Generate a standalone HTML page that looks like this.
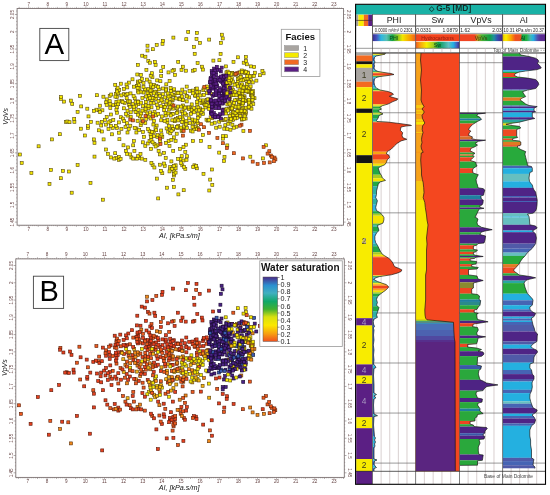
<!DOCTYPE html><html><head><meta charset="utf-8"><style>html,body{margin:0;padding:0;background:#fff;width:550px;height:495px;overflow:hidden}svg{display:block}text{font-family:"Liberation Sans",sans-serif}</style></head><body><svg width="550" height="495" viewBox="0 0 550 495"><rect width="550" height="495" fill="#fff"/><rect x="17.1" y="8.5" width="326.4" height="216.7" fill="none" stroke="#7e7474" stroke-width="0.9"/><path d="M19.16 8.5v-1.6M19.16 225.2v1.6M21.07 8.5v-0.9M21.07 225.2v0.9M22.98 8.5v-0.9M22.98 225.2v0.9M24.88 8.5v-0.9M24.88 225.2v0.9M26.79 8.5v-0.9M26.79 225.2v0.9M28.7 8.5v-2.2M28.7 225.2v2.2M30.61 8.5v-0.9M30.61 225.2v0.9M32.52 8.5v-0.9M32.52 225.2v0.9M34.42 8.5v-0.9M34.42 225.2v0.9M36.33 8.5v-0.9M36.33 225.2v0.9M38.24 8.5v-1.6M38.24 225.2v1.6M40.14 8.5v-0.9M40.14 225.2v0.9M42.05 8.5v-0.9M42.05 225.2v0.9M43.96 8.5v-0.9M43.96 225.2v0.9M45.87 8.5v-0.9M45.87 225.2v0.9M47.77 8.5v-2.2M47.77 225.2v2.2M49.68 8.5v-0.9M49.68 225.2v0.9M51.59 8.5v-0.9M51.59 225.2v0.9M53.5 8.5v-0.9M53.5 225.2v0.9M55.41 8.5v-0.9M55.41 225.2v0.9M57.31 8.5v-1.6M57.31 225.2v1.6M59.22 8.5v-0.9M59.22 225.2v0.9M61.13 8.5v-0.9M61.13 225.2v0.9M63.04 8.5v-0.9M63.04 225.2v0.9M64.94 8.5v-0.9M64.94 225.2v0.9M66.85 8.5v-2.2M66.85 225.2v2.2M68.76 8.5v-0.9M68.76 225.2v0.9M70.66 8.5v-0.9M70.66 225.2v0.9M72.57 8.5v-0.9M72.57 225.2v0.9M74.48 8.5v-0.9M74.48 225.2v0.9M76.39 8.5v-1.6M76.39 225.2v1.6M78.29 8.5v-0.9M78.29 225.2v0.9M80.2 8.5v-0.9M80.2 225.2v0.9M82.11 8.5v-0.9M82.11 225.2v0.9M84.02 8.5v-0.9M84.02 225.2v0.9M85.92 8.5v-2.2M85.92 225.2v2.2M87.83 8.5v-0.9M87.83 225.2v0.9M89.74 8.5v-0.9M89.74 225.2v0.9M91.65 8.5v-0.9M91.65 225.2v0.9M93.56 8.5v-0.9M93.56 225.2v0.9M95.46 8.5v-1.6M95.46 225.2v1.6M97.37 8.5v-0.9M97.37 225.2v0.9M99.28 8.5v-0.9M99.28 225.2v0.9M101.19 8.5v-0.9M101.19 225.2v0.9M103.09 8.5v-0.9M103.09 225.2v0.9M105 8.5v-2.2M105 225.2v2.2M106.91 8.5v-0.9M106.91 225.2v0.9M108.81 8.5v-0.9M108.81 225.2v0.9M110.72 8.5v-0.9M110.72 225.2v0.9M112.63 8.5v-0.9M112.63 225.2v0.9M114.54 8.5v-1.6M114.54 225.2v1.6M116.44 8.5v-0.9M116.44 225.2v0.9M118.35 8.5v-0.9M118.35 225.2v0.9M120.26 8.5v-0.9M120.26 225.2v0.9M122.17 8.5v-0.9M122.17 225.2v0.9M124.08 8.5v-2.2M124.08 225.2v2.2M125.98 8.5v-0.9M125.98 225.2v0.9M127.89 8.5v-0.9M127.89 225.2v0.9M129.8 8.5v-0.9M129.8 225.2v0.9M131.71 8.5v-0.9M131.71 225.2v0.9M133.61 8.5v-1.6M133.61 225.2v1.6M135.52 8.5v-0.9M135.52 225.2v0.9M137.43 8.5v-0.9M137.43 225.2v0.9M139.34 8.5v-0.9M139.34 225.2v0.9M141.24 8.5v-0.9M141.24 225.2v0.9M143.15 8.5v-2.2M143.15 225.2v2.2M145.06 8.5v-0.9M145.06 225.2v0.9M146.96 8.5v-0.9M146.96 225.2v0.9M148.87 8.5v-0.9M148.87 225.2v0.9M150.78 8.5v-0.9M150.78 225.2v0.9M152.69 8.5v-1.6M152.69 225.2v1.6M154.59 8.5v-0.9M154.59 225.2v0.9M156.5 8.5v-0.9M156.5 225.2v0.9M158.41 8.5v-0.9M158.41 225.2v0.9M160.32 8.5v-0.9M160.32 225.2v0.9M162.22 8.5v-2.2M162.22 225.2v2.2M164.13 8.5v-0.9M164.13 225.2v0.9M166.04 8.5v-0.9M166.04 225.2v0.9M167.95 8.5v-0.9M167.95 225.2v0.9M169.85 8.5v-0.9M169.85 225.2v0.9M171.76 8.5v-1.6M171.76 225.2v1.6M173.67 8.5v-0.9M173.67 225.2v0.9M175.58 8.5v-0.9M175.58 225.2v0.9M177.48 8.5v-0.9M177.48 225.2v0.9M179.39 8.5v-0.9M179.39 225.2v0.9M181.3 8.5v-2.2M181.3 225.2v2.2M183.21 8.5v-0.9M183.21 225.2v0.9M185.11 8.5v-0.9M185.11 225.2v0.9M187.02 8.5v-0.9M187.02 225.2v0.9M188.93 8.5v-0.9M188.93 225.2v0.9M190.84 8.5v-1.6M190.84 225.2v1.6M192.74 8.5v-0.9M192.74 225.2v0.9M194.65 8.5v-0.9M194.65 225.2v0.9M196.56 8.5v-0.9M196.56 225.2v0.9M198.47 8.5v-0.9M198.47 225.2v0.9M200.37 8.5v-2.2M200.37 225.2v2.2M202.28 8.5v-0.9M202.28 225.2v0.9M204.19 8.5v-0.9M204.19 225.2v0.9M206.1 8.5v-0.9M206.1 225.2v0.9M208 8.5v-0.9M208 225.2v0.9M209.91 8.5v-1.6M209.91 225.2v1.6M211.82 8.5v-0.9M211.82 225.2v0.9M213.73 8.5v-0.9M213.73 225.2v0.9M215.63 8.5v-0.9M215.63 225.2v0.9M217.54 8.5v-0.9M217.54 225.2v0.9M219.45 8.5v-2.2M219.45 225.2v2.2M221.36 8.5v-0.9M221.36 225.2v0.9M223.26 8.5v-0.9M223.26 225.2v0.9M225.17 8.5v-0.9M225.17 225.2v0.9M227.08 8.5v-0.9M227.08 225.2v0.9M228.99 8.5v-1.6M228.99 225.2v1.6M230.9 8.5v-0.9M230.9 225.2v0.9M232.8 8.5v-0.9M232.8 225.2v0.9M234.71 8.5v-0.9M234.71 225.2v0.9M236.62 8.5v-0.9M236.62 225.2v0.9M238.52 8.5v-2.2M238.52 225.2v2.2M240.43 8.5v-0.9M240.43 225.2v0.9M242.34 8.5v-0.9M242.34 225.2v0.9M244.25 8.5v-0.9M244.25 225.2v0.9M246.15 8.5v-0.9M246.15 225.2v0.9M248.06 8.5v-1.6M248.06 225.2v1.6M249.97 8.5v-0.9M249.97 225.2v0.9M251.88 8.5v-0.9M251.88 225.2v0.9M253.78 8.5v-0.9M253.78 225.2v0.9M255.69 8.5v-0.9M255.69 225.2v0.9M257.6 8.5v-2.2M257.6 225.2v2.2M259.51 8.5v-0.9M259.51 225.2v0.9M261.41 8.5v-0.9M261.41 225.2v0.9M263.32 8.5v-0.9M263.32 225.2v0.9M265.23 8.5v-0.9M265.23 225.2v0.9M267.14 8.5v-1.6M267.14 225.2v1.6M269.05 8.5v-0.9M269.05 225.2v0.9M270.95 8.5v-0.9M270.95 225.2v0.9M272.86 8.5v-0.9M272.86 225.2v0.9M274.77 8.5v-0.9M274.77 225.2v0.9M276.68 8.5v-2.2M276.68 225.2v2.2M278.58 8.5v-0.9M278.58 225.2v0.9M280.49 8.5v-0.9M280.49 225.2v0.9M282.4 8.5v-0.9M282.4 225.2v0.9M284.3 8.5v-0.9M284.3 225.2v0.9M286.21 8.5v-1.6M286.21 225.2v1.6M288.12 8.5v-0.9M288.12 225.2v0.9M290.03 8.5v-0.9M290.03 225.2v0.9M291.94 8.5v-0.9M291.94 225.2v0.9M293.84 8.5v-0.9M293.84 225.2v0.9M295.75 8.5v-2.2M295.75 225.2v2.2M297.66 8.5v-0.9M297.66 225.2v0.9M299.56 8.5v-0.9M299.56 225.2v0.9M301.47 8.5v-0.9M301.47 225.2v0.9M303.38 8.5v-0.9M303.38 225.2v0.9M305.29 8.5v-1.6M305.29 225.2v1.6M307.19 8.5v-0.9M307.19 225.2v0.9M309.1 8.5v-0.9M309.1 225.2v0.9M311.01 8.5v-0.9M311.01 225.2v0.9M312.92 8.5v-0.9M312.92 225.2v0.9M314.82 8.5v-2.2M314.82 225.2v2.2M316.73 8.5v-0.9M316.73 225.2v0.9M318.64 8.5v-0.9M318.64 225.2v0.9M320.55 8.5v-0.9M320.55 225.2v0.9M322.45 8.5v-0.9M322.45 225.2v0.9M324.36 8.5v-1.6M324.36 225.2v1.6M326.27 8.5v-0.9M326.27 225.2v0.9M328.18 8.5v-0.9M328.18 225.2v0.9M330.08 8.5v-0.9M330.08 225.2v0.9M331.99 8.5v-0.9M331.99 225.2v0.9M333.9 8.5v-2.2M333.9 225.2v2.2M335.81 8.5v-0.9M335.81 225.2v0.9M337.71 8.5v-0.9M337.71 225.2v0.9M339.62 8.5v-0.9M339.62 225.2v0.9M341.53 8.5v-0.9M341.53 225.2v0.9M17.1 222.1h-2.2M343.5 222.1h2.2M17.1 218.64h-0.9M343.5 218.64h0.9M17.1 215.18h-0.9M343.5 215.18h0.9M17.1 211.72h-0.9M343.5 211.72h0.9M17.1 208.26h-0.9M343.5 208.26h0.9M17.1 204.8h-2.2M343.5 204.8h2.2M17.1 201.34h-0.9M343.5 201.34h0.9M17.1 197.88h-0.9M343.5 197.88h0.9M17.1 194.42h-0.9M343.5 194.42h0.9M17.1 190.96h-0.9M343.5 190.96h0.9M17.1 187.5h-2.2M343.5 187.5h2.2M17.1 184.04h-0.9M343.5 184.04h0.9M17.1 180.58h-0.9M343.5 180.58h0.9M17.1 177.12h-0.9M343.5 177.12h0.9M17.1 173.66h-0.9M343.5 173.66h0.9M17.1 170.2h-2.2M343.5 170.2h2.2M17.1 166.74h-0.9M343.5 166.74h0.9M17.1 163.28h-0.9M343.5 163.28h0.9M17.1 159.82h-0.9M343.5 159.82h0.9M17.1 156.36h-0.9M343.5 156.36h0.9M17.1 152.9h-2.2M343.5 152.9h2.2M17.1 149.44h-0.9M343.5 149.44h0.9M17.1 145.98h-0.9M343.5 145.98h0.9M17.1 142.52h-0.9M343.5 142.52h0.9M17.1 139.06h-0.9M343.5 139.06h0.9M17.1 135.6h-2.2M343.5 135.6h2.2M17.1 132.14h-0.9M343.5 132.14h0.9M17.1 128.68h-0.9M343.5 128.68h0.9M17.1 125.22h-0.9M343.5 125.22h0.9M17.1 121.76h-0.9M343.5 121.76h0.9M17.1 118.3h-2.2M343.5 118.3h2.2M17.1 114.84h-0.9M343.5 114.84h0.9M17.1 111.38h-0.9M343.5 111.38h0.9M17.1 107.92h-0.9M343.5 107.92h0.9M17.1 104.46h-0.9M343.5 104.46h0.9M17.1 101h-2.2M343.5 101h2.2M17.1 97.54h-0.9M343.5 97.54h0.9M17.1 94.08h-0.9M343.5 94.08h0.9M17.1 90.62h-0.9M343.5 90.62h0.9M17.1 87.16h-0.9M343.5 87.16h0.9M17.1 83.7h-2.2M343.5 83.7h2.2M17.1 80.24h-0.9M343.5 80.24h0.9M17.1 76.78h-0.9M343.5 76.78h0.9M17.1 73.32h-0.9M343.5 73.32h0.9M17.1 69.86h-0.9M343.5 69.86h0.9M17.1 66.4h-2.2M343.5 66.4h2.2M17.1 62.94h-0.9M343.5 62.94h0.9M17.1 59.48h-0.9M343.5 59.48h0.9M17.1 56.02h-0.9M343.5 56.02h0.9M17.1 52.56h-0.9M343.5 52.56h0.9M17.1 49.1h-2.2M343.5 49.1h2.2M17.1 45.64h-0.9M343.5 45.64h0.9M17.1 42.18h-0.9M343.5 42.18h0.9M17.1 38.72h-0.9M343.5 38.72h0.9M17.1 35.26h-0.9M343.5 35.26h0.9M17.1 31.8h-2.2M343.5 31.8h2.2M17.1 28.34h-0.9M343.5 28.34h0.9M17.1 24.88h-0.9M343.5 24.88h0.9M17.1 21.42h-0.9M343.5 21.42h0.9M17.1 17.96h-0.9M343.5 17.96h0.9M17.1 14.5h-2.2M343.5 14.5h2.2M17.1 11.04h-0.9M343.5 11.04h0.9" stroke="#7e7474" stroke-width="0.6" fill="none"/><g font-size="4.6" fill="#664444" text-anchor="middle" font-family="Liberation Sans, sans-serif"><text x="28.7" y="5.9">7</text><text x="28.7" y="230.6">7</text><text x="47.77" y="5.9">8</text><text x="47.77" y="230.6">8</text><text x="66.85" y="5.9">9</text><text x="66.85" y="230.6">9</text><text x="85.92" y="5.9">10</text><text x="85.92" y="230.6">10</text><text x="105" y="5.9">11</text><text x="105" y="230.6">11</text><text x="124.08" y="5.9">12</text><text x="124.08" y="230.6">12</text><text x="143.15" y="5.9">13</text><text x="143.15" y="230.6">13</text><text x="162.22" y="5.9">14</text><text x="162.22" y="230.6">14</text><text x="181.3" y="5.9">15</text><text x="181.3" y="230.6">15</text><text x="200.37" y="5.9">16</text><text x="200.37" y="230.6">16</text><text x="219.45" y="5.9">17</text><text x="219.45" y="230.6">17</text><text x="238.52" y="5.9">18</text><text x="238.52" y="230.6">18</text><text x="257.6" y="5.9">19</text><text x="257.6" y="230.6">19</text><text x="276.68" y="5.9">20</text><text x="276.68" y="230.6">20</text><text x="295.75" y="5.9">21</text><text x="295.75" y="230.6">21</text><text x="314.82" y="5.9">22</text><text x="314.82" y="230.6">22</text><text x="333.9" y="5.9">23</text><text x="333.9" y="230.6">23</text><text transform="translate(13.9 14.5) rotate(-90)">2.05</text><text transform="translate(346.7 14.5) rotate(90)">2.05</text><text transform="translate(13.9 31.8) rotate(-90)">2</text><text transform="translate(346.7 31.8) rotate(90)">2</text><text transform="translate(13.9 49.1) rotate(-90)">1.95</text><text transform="translate(346.7 49.1) rotate(90)">1.95</text><text transform="translate(13.9 66.4) rotate(-90)">1.9</text><text transform="translate(346.7 66.4) rotate(90)">1.9</text><text transform="translate(13.9 83.7) rotate(-90)">1.85</text><text transform="translate(346.7 83.7) rotate(90)">1.85</text><text transform="translate(13.9 101) rotate(-90)">1.8</text><text transform="translate(346.7 101) rotate(90)">1.8</text><text transform="translate(13.9 118.3) rotate(-90)">1.75</text><text transform="translate(346.7 118.3) rotate(90)">1.75</text><text transform="translate(13.9 135.6) rotate(-90)">1.7</text><text transform="translate(346.7 135.6) rotate(90)">1.7</text><text transform="translate(13.9 152.9) rotate(-90)">1.65</text><text transform="translate(346.7 152.9) rotate(90)">1.65</text><text transform="translate(13.9 170.2) rotate(-90)">1.6</text><text transform="translate(346.7 170.2) rotate(90)">1.6</text><text transform="translate(13.9 187.5) rotate(-90)">1.55</text><text transform="translate(346.7 187.5) rotate(90)">1.55</text><text transform="translate(13.9 204.8) rotate(-90)">1.5</text><text transform="translate(346.7 204.8) rotate(90)">1.5</text><text transform="translate(13.9 222.1) rotate(-90)">1.45</text><text transform="translate(346.7 222.1) rotate(90)">1.45</text></g><text x="179.39" y="238" font-size="7.2" font-style="italic" fill="#111" text-anchor="middle">AI, [kPa.s/m]</text><text transform="translate(8 116.35) rotate(-90)" font-size="7" font-style="italic" fill="#111" text-anchor="middle">VpVs</text><g stroke-width="0.6"><rect x="148.2" y="90.5" width="3.0" height="3.0" fill="#f4e800" stroke="#5a4a10"/><rect x="191.8" y="121.3" width="3.0" height="3.0" fill="#f4e800" stroke="#5a4a10"/><rect x="160.0" y="97.1" width="3.0" height="3.0" fill="#f4e800" stroke="#5a4a10"/><rect x="223.8" y="123.7" width="3.0" height="3.0" fill="#f4e800" stroke="#5a4a10"/><rect x="132.4" y="108.0" width="3.0" height="3.0" fill="#f4e800" stroke="#5a4a10"/><rect x="166.7" y="130.2" width="3.0" height="3.0" fill="#f4e800" stroke="#5a4a10"/><rect x="209.5" y="106.1" width="3.0" height="3.0" fill="#f4e800" stroke="#5a4a10"/><rect x="245.4" y="62.8" width="3.0" height="3.0" fill="#f4e800" stroke="#5a4a10"/><rect x="154.6" y="97.4" width="3.0" height="3.0" fill="#f4e800" stroke="#5a4a10"/><rect x="144.1" y="109.2" width="3.0" height="3.0" fill="#f4e800" stroke="#5a4a10"/><rect x="133.2" y="96.7" width="3.0" height="3.0" fill="#f4e800" stroke="#5a4a10"/><rect x="181.1" y="98.7" width="3.0" height="3.0" fill="#f4e800" stroke="#5a4a10"/><rect x="172.3" y="135.9" width="3.0" height="3.0" fill="#f4e800" stroke="#5a4a10"/><rect x="188.6" y="121.7" width="3.0" height="3.0" fill="#f4e800" stroke="#5a4a10"/><rect x="134.9" y="127.0" width="3.0" height="3.0" fill="#f4e800" stroke="#5a4a10"/><rect x="171.1" y="127.3" width="3.0" height="3.0" fill="#f4e800" stroke="#5a4a10"/><rect x="141.5" y="104.7" width="3.0" height="3.0" fill="#f4e800" stroke="#5a4a10"/><rect x="208.0" y="145.4" width="3.0" height="3.0" fill="#f4e800" stroke="#5a4a10"/><rect x="136.3" y="89.4" width="3.0" height="3.0" fill="#f4e800" stroke="#5a4a10"/><rect x="139.5" y="73.3" width="3.0" height="3.0" fill="#f4e800" stroke="#5a4a10"/><rect x="244.3" y="55.5" width="3.0" height="3.0" fill="#f4e800" stroke="#5a4a10"/><rect x="149.2" y="92.7" width="3.0" height="3.0" fill="#f4e800" stroke="#5a4a10"/><rect x="97.3" y="108.8" width="3.0" height="3.0" fill="#f4e800" stroke="#5a4a10"/><rect x="198.3" y="98.9" width="3.0" height="3.0" fill="#f4e800" stroke="#5a4a10"/><rect x="185.2" y="99.9" width="3.0" height="3.0" fill="#f4e800" stroke="#5a4a10"/><rect x="201.8" y="88.7" width="3.0" height="3.0" fill="#f4e800" stroke="#5a4a10"/><rect x="154.9" y="90.2" width="3.0" height="3.0" fill="#f4e800" stroke="#5a4a10"/><rect x="152.6" y="83.3" width="3.0" height="3.0" fill="#f4e800" stroke="#5a4a10"/><rect x="64.4" y="120.3" width="3.0" height="3.0" fill="#f4e800" stroke="#5a4a10"/><rect x="128.4" y="99.9" width="3.0" height="3.0" fill="#f4e800" stroke="#5a4a10"/><rect x="126.0" y="109.2" width="3.0" height="3.0" fill="#f4e800" stroke="#5a4a10"/><rect x="146.8" y="59.5" width="3.0" height="3.0" fill="#f4e800" stroke="#5a4a10"/><rect x="94.9" y="108.2" width="3.0" height="3.0" fill="#f4e800" stroke="#5a4a10"/><rect x="172.5" y="169.6" width="3.0" height="3.0" fill="#f4e800" stroke="#5a4a10"/><rect x="187.7" y="95.9" width="3.0" height="3.0" fill="#f4e800" stroke="#5a4a10"/><rect x="145.8" y="112.0" width="3.0" height="3.0" fill="#f4e800" stroke="#5a4a10"/><rect x="192.6" y="127.3" width="3.0" height="3.0" fill="#f4e800" stroke="#5a4a10"/><rect x="242.2" y="61.2" width="3.0" height="3.0" fill="#f4e800" stroke="#5a4a10"/><rect x="171.6" y="107.1" width="3.0" height="3.0" fill="#f4e800" stroke="#5a4a10"/><rect x="167.0" y="70.9" width="3.0" height="3.0" fill="#f4e800" stroke="#5a4a10"/><rect x="152.2" y="130.4" width="3.0" height="3.0" fill="#f4e800" stroke="#5a4a10"/><rect x="179.0" y="157.7" width="3.0" height="3.0" fill="#f4e800" stroke="#5a4a10"/><rect x="184.8" y="37.7" width="3.0" height="3.0" fill="#f4e800" stroke="#5a4a10"/><rect x="165.1" y="126.9" width="3.0" height="3.0" fill="#f4e800" stroke="#5a4a10"/><rect x="180.9" y="116.0" width="3.0" height="3.0" fill="#f4e800" stroke="#5a4a10"/><rect x="196.5" y="96.3" width="3.0" height="3.0" fill="#f4e800" stroke="#5a4a10"/><rect x="196.1" y="121.6" width="3.0" height="3.0" fill="#f4e800" stroke="#5a4a10"/><rect x="178.6" y="147.4" width="3.0" height="3.0" fill="#f4e800" stroke="#5a4a10"/><rect x="117.3" y="158.3" width="3.0" height="3.0" fill="#f4e800" stroke="#5a4a10"/><rect x="188.7" y="106.0" width="3.0" height="3.0" fill="#f4e800" stroke="#5a4a10"/><rect x="189.4" y="112.4" width="3.0" height="3.0" fill="#f4e800" stroke="#5a4a10"/><rect x="171.5" y="178.3" width="3.0" height="3.0" fill="#f4e800" stroke="#5a4a10"/><rect x="176.1" y="110.3" width="3.0" height="3.0" fill="#f4e800" stroke="#5a4a10"/><rect x="198.8" y="107.0" width="3.0" height="3.0" fill="#f4e800" stroke="#5a4a10"/><rect x="136.5" y="80.1" width="3.0" height="3.0" fill="#f4e800" stroke="#5a4a10"/><rect x="155.1" y="124.1" width="3.0" height="3.0" fill="#f4e800" stroke="#5a4a10"/><rect x="127.6" y="103.5" width="3.0" height="3.0" fill="#f4e800" stroke="#5a4a10"/><rect x="202.0" y="172.3" width="3.0" height="3.0" fill="#f4e800" stroke="#5a4a10"/><rect x="181.4" y="118.0" width="3.0" height="3.0" fill="#f4e800" stroke="#5a4a10"/><rect x="152.1" y="96.5" width="3.0" height="3.0" fill="#f4e800" stroke="#5a4a10"/><rect x="164.6" y="87.1" width="3.0" height="3.0" fill="#f4e800" stroke="#5a4a10"/><rect x="140.7" y="54.2" width="3.0" height="3.0" fill="#f4e800" stroke="#5a4a10"/><rect x="136.5" y="81.9" width="3.0" height="3.0" fill="#f4e800" stroke="#5a4a10"/><rect x="258.5" y="73.7" width="3.0" height="3.0" fill="#f4e800" stroke="#5a4a10"/><rect x="162.7" y="108.7" width="3.0" height="3.0" fill="#f4e800" stroke="#5a4a10"/><rect x="175.7" y="126.5" width="3.0" height="3.0" fill="#f4e800" stroke="#5a4a10"/><rect x="195.8" y="102.9" width="3.0" height="3.0" fill="#f4e800" stroke="#5a4a10"/><rect x="128.6" y="105.4" width="3.0" height="3.0" fill="#f4e800" stroke="#5a4a10"/><rect x="201.8" y="98.9" width="3.0" height="3.0" fill="#f4e800" stroke="#5a4a10"/><rect x="115.5" y="88.2" width="3.0" height="3.0" fill="#f4e800" stroke="#5a4a10"/><rect x="144.1" y="88.9" width="3.0" height="3.0" fill="#f4e800" stroke="#5a4a10"/><rect x="173.0" y="93.9" width="3.0" height="3.0" fill="#f4e800" stroke="#5a4a10"/><rect x="195.3" y="166.8" width="3.0" height="3.0" fill="#f4e800" stroke="#5a4a10"/><rect x="152.6" y="119.5" width="3.0" height="3.0" fill="#f4e800" stroke="#5a4a10"/><rect x="205.5" y="85.0" width="3.0" height="3.0" fill="#f4e800" stroke="#5a4a10"/><rect x="191.6" y="69.2" width="3.0" height="3.0" fill="#f4e800" stroke="#5a4a10"/><rect x="193.2" y="52.3" width="3.0" height="3.0" fill="#f4e800" stroke="#5a4a10"/><rect x="138.7" y="79.7" width="3.0" height="3.0" fill="#f4e800" stroke="#5a4a10"/><rect x="129.2" y="115.3" width="3.0" height="3.0" fill="#f4e800" stroke="#5a4a10"/><rect x="148.0" y="129.7" width="3.0" height="3.0" fill="#f4e800" stroke="#5a4a10"/><rect x="172.3" y="185.6" width="3.0" height="3.0" fill="#f4e800" stroke="#5a4a10"/><rect x="180.5" y="110.0" width="3.0" height="3.0" fill="#f4e800" stroke="#5a4a10"/><rect x="180.8" y="163.8" width="3.0" height="3.0" fill="#f4e800" stroke="#5a4a10"/><rect x="205.0" y="118.2" width="3.0" height="3.0" fill="#f4e800" stroke="#5a4a10"/><rect x="146.0" y="49.0" width="3.0" height="3.0" fill="#f4e800" stroke="#5a4a10"/><rect x="178.8" y="96.5" width="3.0" height="3.0" fill="#f4e800" stroke="#5a4a10"/><rect x="152.1" y="101.4" width="3.0" height="3.0" fill="#f4e800" stroke="#5a4a10"/><rect x="115.5" y="105.8" width="3.0" height="3.0" fill="#f4e800" stroke="#5a4a10"/><rect x="100.3" y="130.0" width="3.0" height="3.0" fill="#f4e800" stroke="#5a4a10"/><rect x="120.5" y="99.6" width="3.0" height="3.0" fill="#f4e800" stroke="#5a4a10"/><rect x="168.7" y="165.6" width="3.0" height="3.0" fill="#f4e800" stroke="#5a4a10"/><rect x="220.3" y="33.2" width="3.0" height="3.0" fill="#f4e800" stroke="#5a4a10"/><rect x="93.0" y="155.1" width="3.0" height="3.0" fill="#f4e800" stroke="#5a4a10"/><rect x="232.0" y="60.3" width="3.0" height="3.0" fill="#f4e800" stroke="#5a4a10"/><rect x="154.6" y="94.4" width="3.0" height="3.0" fill="#f4e800" stroke="#5a4a10"/><rect x="191.4" y="139.6" width="3.0" height="3.0" fill="#f4e800" stroke="#5a4a10"/><rect x="191.3" y="89.1" width="3.0" height="3.0" fill="#f4e800" stroke="#5a4a10"/><rect x="221.2" y="36.9" width="3.0" height="3.0" fill="#f4e800" stroke="#5a4a10"/><rect x="221.4" y="137.1" width="3.0" height="3.0" fill="#f4e800" stroke="#5a4a10"/><rect x="160.4" y="114.9" width="3.0" height="3.0" fill="#f4e800" stroke="#5a4a10"/><rect x="181.7" y="120.9" width="3.0" height="3.0" fill="#f4e800" stroke="#5a4a10"/><rect x="101.3" y="198.2" width="3.0" height="3.0" fill="#f4e800" stroke="#5a4a10"/><rect x="177.2" y="97.3" width="3.0" height="3.0" fill="#f4e800" stroke="#5a4a10"/><rect x="194.5" y="125.2" width="3.0" height="3.0" fill="#f4e800" stroke="#5a4a10"/><rect x="160.8" y="171.7" width="3.0" height="3.0" fill="#f4e800" stroke="#5a4a10"/><rect x="153.3" y="90.2" width="3.0" height="3.0" fill="#f4e800" stroke="#5a4a10"/><rect x="111.8" y="103.7" width="3.0" height="3.0" fill="#f4e800" stroke="#5a4a10"/><rect x="104.6" y="148.0" width="3.0" height="3.0" fill="#f4e800" stroke="#5a4a10"/><rect x="161.4" y="39.3" width="3.0" height="3.0" fill="#f4e800" stroke="#5a4a10"/><rect x="79.7" y="104.9" width="3.0" height="3.0" fill="#f4e800" stroke="#5a4a10"/><rect x="148.7" y="110.9" width="3.0" height="3.0" fill="#f4e800" stroke="#5a4a10"/><rect x="214.7" y="126.2" width="3.0" height="3.0" fill="#f4e800" stroke="#5a4a10"/><rect x="108.8" y="119.7" width="3.0" height="3.0" fill="#f4e800" stroke="#5a4a10"/><rect x="176.4" y="116.4" width="3.0" height="3.0" fill="#f4e800" stroke="#5a4a10"/><rect x="171.9" y="36.1" width="3.0" height="3.0" fill="#f4e800" stroke="#5a4a10"/><rect x="146.0" y="44.2" width="3.0" height="3.0" fill="#f4e800" stroke="#5a4a10"/><rect x="174.1" y="139.6" width="3.0" height="3.0" fill="#f4e800" stroke="#5a4a10"/><rect x="198.0" y="114.6" width="3.0" height="3.0" fill="#f4e800" stroke="#5a4a10"/><rect x="153.3" y="60.3" width="3.0" height="3.0" fill="#f4e800" stroke="#5a4a10"/><rect x="234.9" y="125.2" width="3.0" height="3.0" fill="#f4e800" stroke="#5a4a10"/><rect x="149.1" y="101.4" width="3.0" height="3.0" fill="#f4e800" stroke="#5a4a10"/><rect x="155.5" y="103.2" width="3.0" height="3.0" fill="#f4e800" stroke="#5a4a10"/><rect x="158.9" y="79.7" width="3.0" height="3.0" fill="#f4e800" stroke="#5a4a10"/><rect x="209.8" y="104.5" width="3.0" height="3.0" fill="#f4e800" stroke="#5a4a10"/><rect x="150.0" y="105.8" width="3.0" height="3.0" fill="#f4e800" stroke="#5a4a10"/><rect x="185.6" y="154.7" width="3.0" height="3.0" fill="#f4e800" stroke="#5a4a10"/><rect x="119.5" y="115.7" width="3.0" height="3.0" fill="#f4e800" stroke="#5a4a10"/><rect x="61.4" y="169.4" width="3.0" height="3.0" fill="#f4e800" stroke="#5a4a10"/><rect x="217.7" y="120.2" width="3.0" height="3.0" fill="#f4e800" stroke="#5a4a10"/><rect x="100.3" y="120.3" width="3.0" height="3.0" fill="#f4e800" stroke="#5a4a10"/><rect x="186.7" y="30.5" width="3.0" height="3.0" fill="#f4e800" stroke="#5a4a10"/><rect x="180.0" y="68.4" width="3.0" height="3.0" fill="#f4e800" stroke="#5a4a10"/><rect x="136.9" y="102.7" width="3.0" height="3.0" fill="#f4e800" stroke="#5a4a10"/><rect x="208.7" y="178.1" width="3.0" height="3.0" fill="#f4e800" stroke="#5a4a10"/><rect x="183.8" y="167.4" width="3.0" height="3.0" fill="#f4e800" stroke="#5a4a10"/><rect x="192.9" y="163.8" width="3.0" height="3.0" fill="#f4e800" stroke="#5a4a10"/><rect x="150.6" y="98.3" width="3.0" height="3.0" fill="#f4e800" stroke="#5a4a10"/><rect x="126.4" y="99.9" width="3.0" height="3.0" fill="#f4e800" stroke="#5a4a10"/><rect x="167.6" y="108.0" width="3.0" height="3.0" fill="#f4e800" stroke="#5a4a10"/><rect x="160.8" y="135.3" width="3.0" height="3.0" fill="#f4e800" stroke="#5a4a10"/><rect x="105.2" y="97.9" width="3.0" height="3.0" fill="#f4e800" stroke="#5a4a10"/><rect x="170.5" y="102.9" width="3.0" height="3.0" fill="#f4e800" stroke="#5a4a10"/><rect x="175.6" y="106.7" width="3.0" height="3.0" fill="#f4e800" stroke="#5a4a10"/><rect x="191.0" y="125.3" width="3.0" height="3.0" fill="#f4e800" stroke="#5a4a10"/><rect x="155.9" y="135.3" width="3.0" height="3.0" fill="#f4e800" stroke="#5a4a10"/><rect x="173.2" y="119.7" width="3.0" height="3.0" fill="#f4e800" stroke="#5a4a10"/><rect x="154.7" y="113.8" width="3.0" height="3.0" fill="#f4e800" stroke="#5a4a10"/><rect x="251.8" y="102.6" width="3.0" height="3.0" fill="#f4e800" stroke="#5a4a10"/><rect x="170.4" y="112.5" width="3.0" height="3.0" fill="#f4e800" stroke="#5a4a10"/><rect x="152.3" y="134.7" width="3.0" height="3.0" fill="#f4e800" stroke="#5a4a10"/><rect x="194.5" y="87.5" width="3.0" height="3.0" fill="#f4e800" stroke="#5a4a10"/><rect x="185.3" y="126.5" width="3.0" height="3.0" fill="#f4e800" stroke="#5a4a10"/><rect x="143.6" y="87.8" width="3.0" height="3.0" fill="#f4e800" stroke="#5a4a10"/><rect x="205.4" y="98.4" width="3.0" height="3.0" fill="#f4e800" stroke="#5a4a10"/><rect x="87.0" y="114.9" width="3.0" height="3.0" fill="#f4e800" stroke="#5a4a10"/><rect x="194.7" y="164.4" width="3.0" height="3.0" fill="#f4e800" stroke="#5a4a10"/><rect x="164.3" y="114.0" width="3.0" height="3.0" fill="#f4e800" stroke="#5a4a10"/><rect x="149.7" y="85.0" width="3.0" height="3.0" fill="#f4e800" stroke="#5a4a10"/><rect x="62.6" y="100.1" width="3.0" height="3.0" fill="#f4e800" stroke="#5a4a10"/><rect x="200.6" y="65.2" width="3.0" height="3.0" fill="#f4e800" stroke="#5a4a10"/><rect x="210.7" y="116.6" width="3.0" height="3.0" fill="#f4e800" stroke="#5a4a10"/><rect x="144.8" y="117.3" width="3.0" height="3.0" fill="#f4e800" stroke="#5a4a10"/><rect x="129.9" y="155.9" width="3.0" height="3.0" fill="#f4e800" stroke="#5a4a10"/><rect x="123.1" y="101.5" width="3.0" height="3.0" fill="#f4e800" stroke="#5a4a10"/><rect x="111.2" y="126.4" width="3.0" height="3.0" fill="#f4e800" stroke="#5a4a10"/><rect x="134.5" y="104.4" width="3.0" height="3.0" fill="#f4e800" stroke="#5a4a10"/><rect x="149.6" y="147.4" width="3.0" height="3.0" fill="#f4e800" stroke="#5a4a10"/><rect x="147.0" y="106.8" width="3.0" height="3.0" fill="#f4e800" stroke="#5a4a10"/><rect x="96.1" y="121.2" width="3.0" height="3.0" fill="#f4e800" stroke="#5a4a10"/><rect x="141.6" y="130.4" width="3.0" height="3.0" fill="#f4e800" stroke="#5a4a10"/><rect x="146.9" y="87.6" width="3.0" height="3.0" fill="#f4e800" stroke="#5a4a10"/><rect x="65.9" y="120.0" width="3.0" height="3.0" fill="#f4e800" stroke="#5a4a10"/><rect x="150.9" y="75.7" width="3.0" height="3.0" fill="#f4e800" stroke="#5a4a10"/><rect x="158.6" y="139.3" width="3.0" height="3.0" fill="#f4e800" stroke="#5a4a10"/><rect x="122.3" y="106.8" width="3.0" height="3.0" fill="#f4e800" stroke="#5a4a10"/><rect x="172.5" y="68.6" width="3.0" height="3.0" fill="#f4e800" stroke="#5a4a10"/><rect x="196.6" y="112.4" width="3.0" height="3.0" fill="#f4e800" stroke="#5a4a10"/><rect x="135.5" y="84.6" width="3.0" height="3.0" fill="#f4e800" stroke="#5a4a10"/><rect x="171.8" y="93.7" width="3.0" height="3.0" fill="#f4e800" stroke="#5a4a10"/><rect x="164.2" y="156.5" width="3.0" height="3.0" fill="#f4e800" stroke="#5a4a10"/><rect x="98.3" y="104.2" width="3.0" height="3.0" fill="#f4e800" stroke="#5a4a10"/><rect x="184.4" y="143.2" width="3.0" height="3.0" fill="#f4e800" stroke="#5a4a10"/><rect x="213.2" y="121.2" width="3.0" height="3.0" fill="#f4e800" stroke="#5a4a10"/><rect x="196.3" y="126.7" width="3.0" height="3.0" fill="#f4e800" stroke="#5a4a10"/><rect x="168.1" y="79.4" width="3.0" height="3.0" fill="#f4e800" stroke="#5a4a10"/><rect x="20.2" y="161.5" width="3.0" height="3.0" fill="#f4e800" stroke="#5a4a10"/><rect x="144.3" y="100.5" width="3.0" height="3.0" fill="#f4e800" stroke="#5a4a10"/><rect x="219.1" y="52.3" width="3.0" height="3.0" fill="#f4e800" stroke="#5a4a10"/><rect x="181.6" y="127.5" width="3.0" height="3.0" fill="#f4e800" stroke="#5a4a10"/><rect x="170.2" y="92.7" width="3.0" height="3.0" fill="#f4e800" stroke="#5a4a10"/><rect x="210.2" y="122.2" width="3.0" height="3.0" fill="#f4e800" stroke="#5a4a10"/><rect x="72.7" y="117.3" width="3.0" height="3.0" fill="#f4e800" stroke="#5a4a10"/><rect x="108.2" y="94.3" width="3.0" height="3.0" fill="#f4e800" stroke="#5a4a10"/><rect x="222.6" y="159.6" width="3.0" height="3.0" fill="#f4e800" stroke="#5a4a10"/><rect x="143.8" y="144.4" width="3.0" height="3.0" fill="#f4e800" stroke="#5a4a10"/><rect x="150.9" y="96.5" width="3.0" height="3.0" fill="#f4e800" stroke="#5a4a10"/><rect x="129.2" y="110.8" width="3.0" height="3.0" fill="#f4e800" stroke="#5a4a10"/><rect x="146.2" y="142.0" width="3.0" height="3.0" fill="#f4e800" stroke="#5a4a10"/><rect x="157.3" y="92.3" width="3.0" height="3.0" fill="#f4e800" stroke="#5a4a10"/><rect x="147.3" y="115.2" width="3.0" height="3.0" fill="#f4e800" stroke="#5a4a10"/><rect x="178.5" y="97.8" width="3.0" height="3.0" fill="#f4e800" stroke="#5a4a10"/><rect x="169.9" y="159.9" width="3.0" height="3.0" fill="#f4e800" stroke="#5a4a10"/><rect x="89.4" y="120.3" width="3.0" height="3.0" fill="#f4e800" stroke="#5a4a10"/><rect x="122.6" y="92.7" width="3.0" height="3.0" fill="#f4e800" stroke="#5a4a10"/><rect x="92.4" y="137.9" width="3.0" height="3.0" fill="#f4e800" stroke="#5a4a10"/><rect x="146.4" y="97.7" width="3.0" height="3.0" fill="#f4e800" stroke="#5a4a10"/><rect x="49.5" y="168.5" width="3.0" height="3.0" fill="#f4e800" stroke="#5a4a10"/><rect x="175.6" y="111.6" width="3.0" height="3.0" fill="#f4e800" stroke="#5a4a10"/><rect x="199.6" y="139.3" width="3.0" height="3.0" fill="#f4e800" stroke="#5a4a10"/><rect x="201.5" y="112.4" width="3.0" height="3.0" fill="#f4e800" stroke="#5a4a10"/><rect x="217.7" y="151.1" width="3.0" height="3.0" fill="#f4e800" stroke="#5a4a10"/><rect x="172.5" y="174.0" width="3.0" height="3.0" fill="#f4e800" stroke="#5a4a10"/><rect x="145.5" y="78.1" width="3.0" height="3.0" fill="#f4e800" stroke="#5a4a10"/><rect x="180.8" y="88.1" width="3.0" height="3.0" fill="#f4e800" stroke="#5a4a10"/><rect x="170.8" y="124.9" width="3.0" height="3.0" fill="#f4e800" stroke="#5a4a10"/><rect x="144.6" y="103.8" width="3.0" height="3.0" fill="#f4e800" stroke="#5a4a10"/><rect x="195.4" y="87.0" width="3.0" height="3.0" fill="#f4e800" stroke="#5a4a10"/><rect x="210.8" y="183.4" width="3.0" height="3.0" fill="#f4e800" stroke="#5a4a10"/><rect x="171.4" y="88.7" width="3.0" height="3.0" fill="#f4e800" stroke="#5a4a10"/><rect x="150.0" y="88.6" width="3.0" height="3.0" fill="#f4e800" stroke="#5a4a10"/><rect x="161.7" y="65.5" width="3.0" height="3.0" fill="#f4e800" stroke="#5a4a10"/><rect x="155.3" y="177.1" width="3.0" height="3.0" fill="#f4e800" stroke="#5a4a10"/><rect x="168.7" y="168.0" width="3.0" height="3.0" fill="#f4e800" stroke="#5a4a10"/><rect x="181.3" y="112.2" width="3.0" height="3.0" fill="#f4e800" stroke="#5a4a10"/><rect x="70.7" y="102.5" width="3.0" height="3.0" fill="#f4e800" stroke="#5a4a10"/><rect x="175.2" y="132.2" width="3.0" height="3.0" fill="#f4e800" stroke="#5a4a10"/><rect x="195.5" y="127.7" width="3.0" height="3.0" fill="#f4e800" stroke="#5a4a10"/><rect x="195.1" y="92.1" width="3.0" height="3.0" fill="#f4e800" stroke="#5a4a10"/><rect x="184.9" y="119.7" width="3.0" height="3.0" fill="#f4e800" stroke="#5a4a10"/><rect x="170.5" y="167.4" width="3.0" height="3.0" fill="#f4e800" stroke="#5a4a10"/><rect x="188.0" y="89.4" width="3.0" height="3.0" fill="#f4e800" stroke="#5a4a10"/><rect x="142.6" y="135.3" width="3.0" height="3.0" fill="#f4e800" stroke="#5a4a10"/><rect x="196.5" y="116.6" width="3.0" height="3.0" fill="#f4e800" stroke="#5a4a10"/><rect x="148.0" y="139.6" width="3.0" height="3.0" fill="#f4e800" stroke="#5a4a10"/><rect x="155.9" y="143.8" width="3.0" height="3.0" fill="#f4e800" stroke="#5a4a10"/><rect x="95.5" y="93.7" width="3.0" height="3.0" fill="#f4e800" stroke="#5a4a10"/><rect x="154.0" y="126.9" width="3.0" height="3.0" fill="#f4e800" stroke="#5a4a10"/><rect x="149.2" y="74.1" width="3.0" height="3.0" fill="#f4e800" stroke="#5a4a10"/><rect x="141.4" y="140.8" width="3.0" height="3.0" fill="#f4e800" stroke="#5a4a10"/><rect x="164.6" y="89.4" width="3.0" height="3.0" fill="#f4e800" stroke="#5a4a10"/><rect x="200.0" y="101.7" width="3.0" height="3.0" fill="#f4e800" stroke="#5a4a10"/><rect x="198.8" y="93.9" width="3.0" height="3.0" fill="#f4e800" stroke="#5a4a10"/><rect x="106.4" y="152.3" width="3.0" height="3.0" fill="#f4e800" stroke="#5a4a10"/><rect x="157.3" y="87.8" width="3.0" height="3.0" fill="#f4e800" stroke="#5a4a10"/><rect x="171.4" y="128.1" width="3.0" height="3.0" fill="#f4e800" stroke="#5a4a10"/><rect x="139.7" y="112.0" width="3.0" height="3.0" fill="#f4e800" stroke="#5a4a10"/><rect x="181.3" y="65.2" width="3.0" height="3.0" fill="#f4e800" stroke="#5a4a10"/><rect x="187.3" y="107.6" width="3.0" height="3.0" fill="#f4e800" stroke="#5a4a10"/><rect x="143.8" y="158.3" width="3.0" height="3.0" fill="#f4e800" stroke="#5a4a10"/><rect x="190.2" y="102.9" width="3.0" height="3.0" fill="#f4e800" stroke="#5a4a10"/><rect x="206.4" y="101.9" width="3.0" height="3.0" fill="#f4e800" stroke="#5a4a10"/><rect x="161.4" y="92.7" width="3.0" height="3.0" fill="#f4e800" stroke="#5a4a10"/><rect x="201.7" y="101.1" width="3.0" height="3.0" fill="#f4e800" stroke="#5a4a10"/><rect x="18.3" y="153.0" width="3.0" height="3.0" fill="#f4e800" stroke="#5a4a10"/><rect x="165.9" y="120.9" width="3.0" height="3.0" fill="#f4e800" stroke="#5a4a10"/><rect x="228.9" y="128.2" width="3.0" height="3.0" fill="#f4e800" stroke="#5a4a10"/><rect x="230.9" y="123.2" width="3.0" height="3.0" fill="#f4e800" stroke="#5a4a10"/><rect x="115.5" y="126.4" width="3.0" height="3.0" fill="#f4e800" stroke="#5a4a10"/><rect x="126.0" y="114.1" width="3.0" height="3.0" fill="#f4e800" stroke="#5a4a10"/><rect x="192.6" y="45.5" width="3.0" height="3.0" fill="#f4e800" stroke="#5a4a10"/><rect x="70.2" y="191.2" width="3.0" height="3.0" fill="#f4e800" stroke="#5a4a10"/><rect x="117.7" y="88.6" width="3.0" height="3.0" fill="#f4e800" stroke="#5a4a10"/><rect x="126.0" y="131.0" width="3.0" height="3.0" fill="#f4e800" stroke="#5a4a10"/><rect x="179.6" y="91.8" width="3.0" height="3.0" fill="#f4e800" stroke="#5a4a10"/><rect x="154.9" y="84.6" width="3.0" height="3.0" fill="#f4e800" stroke="#5a4a10"/><rect x="156.4" y="106.5" width="3.0" height="3.0" fill="#f4e800" stroke="#5a4a10"/><rect x="152.9" y="142.4" width="3.0" height="3.0" fill="#f4e800" stroke="#5a4a10"/><rect x="137.3" y="83.8" width="3.0" height="3.0" fill="#f4e800" stroke="#5a4a10"/><rect x="132.9" y="149.3" width="3.0" height="3.0" fill="#f4e800" stroke="#5a4a10"/><rect x="157.0" y="99.6" width="3.0" height="3.0" fill="#f4e800" stroke="#5a4a10"/><rect x="176.9" y="192.9" width="3.0" height="3.0" fill="#f4e800" stroke="#5a4a10"/><rect x="135.6" y="110.6" width="3.0" height="3.0" fill="#f4e800" stroke="#5a4a10"/><rect x="158.3" y="152.9" width="3.0" height="3.0" fill="#f4e800" stroke="#5a4a10"/><rect x="68.0" y="120.7" width="3.0" height="3.0" fill="#f4e800" stroke="#5a4a10"/><rect x="198.5" y="41.3" width="3.0" height="3.0" fill="#f4e800" stroke="#5a4a10"/><rect x="193.2" y="68.4" width="3.0" height="3.0" fill="#f4e800" stroke="#5a4a10"/><rect x="104.6" y="100.9" width="3.0" height="3.0" fill="#f4e800" stroke="#5a4a10"/><rect x="176.7" y="60.3" width="3.0" height="3.0" fill="#f4e800" stroke="#5a4a10"/><rect x="221.4" y="134.7" width="3.0" height="3.0" fill="#f4e800" stroke="#5a4a10"/><rect x="180.1" y="129.4" width="3.0" height="3.0" fill="#f4e800" stroke="#5a4a10"/><rect x="128.1" y="100.0" width="3.0" height="3.0" fill="#f4e800" stroke="#5a4a10"/><rect x="147.6" y="94.7" width="3.0" height="3.0" fill="#f4e800" stroke="#5a4a10"/><rect x="114.7" y="156.5" width="3.0" height="3.0" fill="#f4e800" stroke="#5a4a10"/><rect x="191.7" y="165.6" width="3.0" height="3.0" fill="#f4e800" stroke="#5a4a10"/><rect x="142.0" y="85.4" width="3.0" height="3.0" fill="#f4e800" stroke="#5a4a10"/><rect x="121.5" y="117.1" width="3.0" height="3.0" fill="#f4e800" stroke="#5a4a10"/><rect x="211.9" y="59.1" width="3.0" height="3.0" fill="#f4e800" stroke="#5a4a10"/><rect x="125.6" y="121.7" width="3.0" height="3.0" fill="#f4e800" stroke="#5a4a10"/><rect x="169.9" y="105.6" width="3.0" height="3.0" fill="#f4e800" stroke="#5a4a10"/><rect x="210.3" y="92.6" width="3.0" height="3.0" fill="#f4e800" stroke="#5a4a10"/><rect x="199.9" y="110.8" width="3.0" height="3.0" fill="#f4e800" stroke="#5a4a10"/><rect x="176.7" y="91.0" width="3.0" height="3.0" fill="#f4e800" stroke="#5a4a10"/><rect x="174.2" y="117.3" width="3.0" height="3.0" fill="#f4e800" stroke="#5a4a10"/><rect x="226.8" y="122.2" width="3.0" height="3.0" fill="#f4e800" stroke="#5a4a10"/><rect x="193.8" y="94.4" width="3.0" height="3.0" fill="#f4e800" stroke="#5a4a10"/><rect x="117.3" y="155.3" width="3.0" height="3.0" fill="#f4e800" stroke="#5a4a10"/><rect x="219.8" y="118.7" width="3.0" height="3.0" fill="#f4e800" stroke="#5a4a10"/><rect x="104.6" y="123.1" width="3.0" height="3.0" fill="#f4e800" stroke="#5a4a10"/><rect x="222.8" y="127.2" width="3.0" height="3.0" fill="#f4e800" stroke="#5a4a10"/><rect x="121.1" y="100.7" width="3.0" height="3.0" fill="#f4e800" stroke="#5a4a10"/><rect x="126.6" y="145.9" width="3.0" height="3.0" fill="#f4e800" stroke="#5a4a10"/><rect x="139.2" y="123.7" width="3.0" height="3.0" fill="#f4e800" stroke="#5a4a10"/><rect x="146.0" y="91.9" width="3.0" height="3.0" fill="#f4e800" stroke="#5a4a10"/><rect x="202.3" y="93.6" width="3.0" height="3.0" fill="#f4e800" stroke="#5a4a10"/><rect x="139.9" y="121.6" width="3.0" height="3.0" fill="#f4e800" stroke="#5a4a10"/><rect x="113.7" y="83.3" width="3.0" height="3.0" fill="#f4e800" stroke="#5a4a10"/><rect x="148.1" y="80.1" width="3.0" height="3.0" fill="#f4e800" stroke="#5a4a10"/><rect x="190.7" y="109.0" width="3.0" height="3.0" fill="#f4e800" stroke="#5a4a10"/><rect x="164.0" y="111.4" width="3.0" height="3.0" fill="#f4e800" stroke="#5a4a10"/><rect x="137.9" y="87.0" width="3.0" height="3.0" fill="#f4e800" stroke="#5a4a10"/><rect x="172.3" y="172.3" width="3.0" height="3.0" fill="#f4e800" stroke="#5a4a10"/><rect x="195.3" y="31.3" width="3.0" height="3.0" fill="#f4e800" stroke="#5a4a10"/><rect x="196.8" y="106.0" width="3.0" height="3.0" fill="#f4e800" stroke="#5a4a10"/><rect x="174.6" y="96.9" width="3.0" height="3.0" fill="#f4e800" stroke="#5a4a10"/><rect x="197.7" y="90.2" width="3.0" height="3.0" fill="#f4e800" stroke="#5a4a10"/><rect x="114.7" y="102.7" width="3.0" height="3.0" fill="#f4e800" stroke="#5a4a10"/><rect x="193.3" y="93.9" width="3.0" height="3.0" fill="#f4e800" stroke="#5a4a10"/><rect x="163.2" y="164.4" width="3.0" height="3.0" fill="#f4e800" stroke="#5a4a10"/><rect x="182.0" y="145.6" width="3.0" height="3.0" fill="#f4e800" stroke="#5a4a10"/><rect x="86.4" y="126.4" width="3.0" height="3.0" fill="#f4e800" stroke="#5a4a10"/><rect x="115.5" y="95.5" width="3.0" height="3.0" fill="#f4e800" stroke="#5a4a10"/><rect x="167.0" y="112.0" width="3.0" height="3.0" fill="#f4e800" stroke="#5a4a10"/><rect x="97.3" y="128.8" width="3.0" height="3.0" fill="#f4e800" stroke="#5a4a10"/><rect x="174.1" y="166.8" width="3.0" height="3.0" fill="#f4e800" stroke="#5a4a10"/><rect x="151.1" y="163.6" width="3.0" height="3.0" fill="#f4e800" stroke="#5a4a10"/><rect x="124.4" y="93.5" width="3.0" height="3.0" fill="#f4e800" stroke="#5a4a10"/><rect x="194.2" y="108.3" width="3.0" height="3.0" fill="#f4e800" stroke="#5a4a10"/><rect x="197.7" y="108.8" width="3.0" height="3.0" fill="#f4e800" stroke="#5a4a10"/><rect x="142.0" y="91.0" width="3.0" height="3.0" fill="#f4e800" stroke="#5a4a10"/><rect x="161.2" y="100.5" width="3.0" height="3.0" fill="#f4e800" stroke="#5a4a10"/><rect x="114.5" y="92.3" width="3.0" height="3.0" fill="#f4e800" stroke="#5a4a10"/><rect x="132.1" y="94.6" width="3.0" height="3.0" fill="#f4e800" stroke="#5a4a10"/><rect x="112.8" y="157.1" width="3.0" height="3.0" fill="#f4e800" stroke="#5a4a10"/><rect x="133.2" y="126.6" width="3.0" height="3.0" fill="#f4e800" stroke="#5a4a10"/><rect x="236.5" y="55.8" width="3.0" height="3.0" fill="#f4e800" stroke="#5a4a10"/><rect x="92.4" y="109.4" width="3.0" height="3.0" fill="#f4e800" stroke="#5a4a10"/><rect x="72.9" y="120.3" width="3.0" height="3.0" fill="#f4e800" stroke="#5a4a10"/><rect x="155.7" y="78.9" width="3.0" height="3.0" fill="#f4e800" stroke="#5a4a10"/><rect x="176.6" y="105.0" width="3.0" height="3.0" fill="#f4e800" stroke="#5a4a10"/><rect x="253.0" y="96.7" width="3.0" height="3.0" fill="#f4e800" stroke="#5a4a10"/><rect x="105.2" y="115.5" width="3.0" height="3.0" fill="#f4e800" stroke="#5a4a10"/><rect x="149.1" y="117.0" width="3.0" height="3.0" fill="#f4e800" stroke="#5a4a10"/><rect x="149.1" y="132.9" width="3.0" height="3.0" fill="#f4e800" stroke="#5a4a10"/><rect x="167.1" y="139.6" width="3.0" height="3.0" fill="#f4e800" stroke="#5a4a10"/><rect x="173.0" y="118.8" width="3.0" height="3.0" fill="#f4e800" stroke="#5a4a10"/><rect x="207.9" y="104.8" width="3.0" height="3.0" fill="#f4e800" stroke="#5a4a10"/><rect x="131.6" y="102.7" width="3.0" height="3.0" fill="#f4e800" stroke="#5a4a10"/><rect x="182.5" y="124.9" width="3.0" height="3.0" fill="#f4e800" stroke="#5a4a10"/><rect x="182.0" y="159.0" width="3.0" height="3.0" fill="#f4e800" stroke="#5a4a10"/><rect x="190.2" y="108.3" width="3.0" height="3.0" fill="#f4e800" stroke="#5a4a10"/><rect x="59.3" y="97.3" width="3.0" height="3.0" fill="#f4e800" stroke="#5a4a10"/><rect x="109.4" y="155.9" width="3.0" height="3.0" fill="#f4e800" stroke="#5a4a10"/><rect x="176.5" y="157.5" width="3.0" height="3.0" fill="#f4e800" stroke="#5a4a10"/><rect x="59.6" y="95.5" width="3.0" height="3.0" fill="#f4e800" stroke="#5a4a10"/><rect x="186.9" y="105.9" width="3.0" height="3.0" fill="#f4e800" stroke="#5a4a10"/><rect x="206.3" y="119.1" width="3.0" height="3.0" fill="#f4e800" stroke="#5a4a10"/><rect x="249.4" y="64.9" width="3.0" height="3.0" fill="#f4e800" stroke="#5a4a10"/><rect x="119.9" y="127.4" width="3.0" height="3.0" fill="#f4e800" stroke="#5a4a10"/><rect x="167.5" y="124.5" width="3.0" height="3.0" fill="#f4e800" stroke="#5a4a10"/><rect x="184.5" y="69.2" width="3.0" height="3.0" fill="#f4e800" stroke="#5a4a10"/><rect x="264.6" y="143.8" width="3.0" height="3.0" fill="#f4e800" stroke="#5a4a10"/><rect x="219.5" y="41.3" width="3.0" height="3.0" fill="#f4e800" stroke="#5a4a10"/><rect x="169.4" y="89.4" width="3.0" height="3.0" fill="#f4e800" stroke="#5a4a10"/><rect x="58.3" y="132.7" width="3.0" height="3.0" fill="#f4e800" stroke="#5a4a10"/><rect x="164.4" y="141.4" width="3.0" height="3.0" fill="#f4e800" stroke="#5a4a10"/><rect x="117.3" y="120.9" width="3.0" height="3.0" fill="#f4e800" stroke="#5a4a10"/><rect x="218.2" y="125.2" width="3.0" height="3.0" fill="#f4e800" stroke="#5a4a10"/><rect x="76.1" y="110.3" width="3.0" height="3.0" fill="#f4e800" stroke="#5a4a10"/><rect x="225.8" y="127.7" width="3.0" height="3.0" fill="#f4e800" stroke="#5a4a10"/><rect x="181.1" y="128.8" width="3.0" height="3.0" fill="#f4e800" stroke="#5a4a10"/><rect x="122.7" y="119.7" width="3.0" height="3.0" fill="#f4e800" stroke="#5a4a10"/><rect x="151.7" y="85.4" width="3.0" height="3.0" fill="#f4e800" stroke="#5a4a10"/><rect x="117.9" y="137.7" width="3.0" height="3.0" fill="#f4e800" stroke="#5a4a10"/><rect x="102.1" y="137.9" width="3.0" height="3.0" fill="#f4e800" stroke="#5a4a10"/><rect x="149.9" y="138.3" width="3.0" height="3.0" fill="#f4e800" stroke="#5a4a10"/><rect x="154.1" y="145.0" width="3.0" height="3.0" fill="#f4e800" stroke="#5a4a10"/><rect x="154.1" y="63.6" width="3.0" height="3.0" fill="#f4e800" stroke="#5a4a10"/><rect x="78.5" y="94.3" width="3.0" height="3.0" fill="#f4e800" stroke="#5a4a10"/><rect x="232.4" y="126.2" width="3.0" height="3.0" fill="#f4e800" stroke="#5a4a10"/><rect x="124.4" y="149.3" width="3.0" height="3.0" fill="#f4e800" stroke="#5a4a10"/><rect x="136.1" y="86.6" width="3.0" height="3.0" fill="#f4e800" stroke="#5a4a10"/><rect x="122.0" y="143.8" width="3.0" height="3.0" fill="#f4e800" stroke="#5a4a10"/><rect x="180.2" y="154.7" width="3.0" height="3.0" fill="#f4e800" stroke="#5a4a10"/><rect x="119.9" y="93.9" width="3.0" height="3.0" fill="#f4e800" stroke="#5a4a10"/><rect x="161.0" y="42.3" width="3.0" height="3.0" fill="#f4e800" stroke="#5a4a10"/><rect x="167.5" y="102.4" width="3.0" height="3.0" fill="#f4e800" stroke="#5a4a10"/><rect x="159.7" y="69.7" width="3.0" height="3.0" fill="#f4e800" stroke="#5a4a10"/><rect x="164.6" y="103.5" width="3.0" height="3.0" fill="#f4e800" stroke="#5a4a10"/><rect x="171.1" y="98.7" width="3.0" height="3.0" fill="#f4e800" stroke="#5a4a10"/><rect x="156.7" y="85.6" width="3.0" height="3.0" fill="#f4e800" stroke="#5a4a10"/><rect x="210.5" y="168.0" width="3.0" height="3.0" fill="#f4e800" stroke="#5a4a10"/><rect x="29.9" y="171.5" width="3.0" height="3.0" fill="#f4e800" stroke="#5a4a10"/><rect x="193.6" y="120.1" width="3.0" height="3.0" fill="#f4e800" stroke="#5a4a10"/><rect x="99.7" y="124.0" width="3.0" height="3.0" fill="#f4e800" stroke="#5a4a10"/><rect x="185.2" y="85.1" width="3.0" height="3.0" fill="#f4e800" stroke="#5a4a10"/><rect x="176.8" y="118.9" width="3.0" height="3.0" fill="#f4e800" stroke="#5a4a10"/><rect x="203.9" y="106.0" width="3.0" height="3.0" fill="#f4e800" stroke="#5a4a10"/><rect x="134.1" y="100.3" width="3.0" height="3.0" fill="#f4e800" stroke="#5a4a10"/><rect x="207.7" y="38.1" width="3.0" height="3.0" fill="#f4e800" stroke="#5a4a10"/><rect x="124.4" y="112.4" width="3.0" height="3.0" fill="#f4e800" stroke="#5a4a10"/><rect x="170.0" y="97.9" width="3.0" height="3.0" fill="#f4e800" stroke="#5a4a10"/><rect x="254.9" y="79.1" width="3.0" height="3.0" fill="#f4e800" stroke="#5a4a10"/><rect x="105.2" y="103.3" width="3.0" height="3.0" fill="#f4e800" stroke="#5a4a10"/><rect x="174.1" y="171.1" width="3.0" height="3.0" fill="#f4e800" stroke="#5a4a10"/><rect x="171.6" y="127.7" width="3.0" height="3.0" fill="#f4e800" stroke="#5a4a10"/><rect x="108.8" y="106.6" width="3.0" height="3.0" fill="#f4e800" stroke="#5a4a10"/><rect x="107.0" y="120.9" width="3.0" height="3.0" fill="#f4e800" stroke="#5a4a10"/><rect x="67.5" y="170.0" width="3.0" height="3.0" fill="#f4e800" stroke="#5a4a10"/><rect x="37.1" y="144.8" width="3.0" height="3.0" fill="#f4e800" stroke="#5a4a10"/><rect x="144.9" y="68.4" width="3.0" height="3.0" fill="#f4e800" stroke="#5a4a10"/><rect x="253.3" y="71.2" width="3.0" height="3.0" fill="#f4e800" stroke="#5a4a10"/><rect x="115.5" y="111.2" width="3.0" height="3.0" fill="#f4e800" stroke="#5a4a10"/><rect x="157.1" y="149.3" width="3.0" height="3.0" fill="#f4e800" stroke="#5a4a10"/><rect x="114.9" y="100.3" width="3.0" height="3.0" fill="#f4e800" stroke="#5a4a10"/><rect x="159.7" y="118.8" width="3.0" height="3.0" fill="#f4e800" stroke="#5a4a10"/><rect x="181.6" y="104.0" width="3.0" height="3.0" fill="#f4e800" stroke="#5a4a10"/><rect x="158.3" y="163.2" width="3.0" height="3.0" fill="#f4e800" stroke="#5a4a10"/><rect x="83.3" y="134.0" width="3.0" height="3.0" fill="#f4e800" stroke="#5a4a10"/><rect x="151.3" y="47.7" width="3.0" height="3.0" fill="#f4e800" stroke="#5a4a10"/><rect x="89.0" y="181.4" width="3.0" height="3.0" fill="#f4e800" stroke="#5a4a10"/><rect x="209.1" y="115.8" width="3.0" height="3.0" fill="#f4e800" stroke="#5a4a10"/><rect x="207.5" y="107.5" width="3.0" height="3.0" fill="#f4e800" stroke="#5a4a10"/><rect x="138.5" y="114.9" width="3.0" height="3.0" fill="#f4e800" stroke="#5a4a10"/><rect x="134.9" y="131.0" width="3.0" height="3.0" fill="#f4e800" stroke="#5a4a10"/><rect x="176.7" y="124.4" width="3.0" height="3.0" fill="#f4e800" stroke="#5a4a10"/><rect x="168.8" y="131.8" width="3.0" height="3.0" fill="#f4e800" stroke="#5a4a10"/><rect x="137.7" y="128.6" width="3.0" height="3.0" fill="#f4e800" stroke="#5a4a10"/><rect x="164.4" y="88.1" width="3.0" height="3.0" fill="#f4e800" stroke="#5a4a10"/><rect x="207.8" y="189.0" width="3.0" height="3.0" fill="#f4e800" stroke="#5a4a10"/><rect x="172.7" y="87.8" width="3.0" height="3.0" fill="#f4e800" stroke="#5a4a10"/><rect x="183.7" y="90.8" width="3.0" height="3.0" fill="#f4e800" stroke="#5a4a10"/><rect x="128.7" y="152.9" width="3.0" height="3.0" fill="#f4e800" stroke="#5a4a10"/><rect x="149.0" y="89.0" width="3.0" height="3.0" fill="#f4e800" stroke="#5a4a10"/><rect x="139.4" y="101.1" width="3.0" height="3.0" fill="#f4e800" stroke="#5a4a10"/><rect x="131.0" y="77.8" width="3.0" height="3.0" fill="#f4e800" stroke="#5a4a10"/><rect x="159.7" y="129.0" width="3.0" height="3.0" fill="#f4e800" stroke="#5a4a10"/><rect x="134.1" y="110.4" width="3.0" height="3.0" fill="#f4e800" stroke="#5a4a10"/><rect x="111.8" y="118.5" width="3.0" height="3.0" fill="#f4e800" stroke="#5a4a10"/><rect x="168.0" y="144.4" width="3.0" height="3.0" fill="#f4e800" stroke="#5a4a10"/><rect x="196.1" y="61.6" width="3.0" height="3.0" fill="#f4e800" stroke="#5a4a10"/><rect x="76.1" y="163.6" width="3.0" height="3.0" fill="#f4e800" stroke="#5a4a10"/><rect x="189.4" y="129.2" width="3.0" height="3.0" fill="#f4e800" stroke="#5a4a10"/><rect x="109.7" y="93.0" width="3.0" height="3.0" fill="#f4e800" stroke="#5a4a10"/><rect x="252.7" y="65.5" width="3.0" height="3.0" fill="#f4e800" stroke="#5a4a10"/><rect x="140.2" y="117.3" width="3.0" height="3.0" fill="#f4e800" stroke="#5a4a10"/><rect x="119.1" y="157.3" width="3.0" height="3.0" fill="#f4e800" stroke="#5a4a10"/><rect x="132.3" y="85.2" width="3.0" height="3.0" fill="#f4e800" stroke="#5a4a10"/><rect x="116.7" y="91.8" width="3.0" height="3.0" fill="#f4e800" stroke="#5a4a10"/><rect x="109.4" y="113.0" width="3.0" height="3.0" fill="#f4e800" stroke="#5a4a10"/><rect x="184.9" y="113.2" width="3.0" height="3.0" fill="#f4e800" stroke="#5a4a10"/><rect x="93.0" y="141.4" width="3.0" height="3.0" fill="#f4e800" stroke="#5a4a10"/><rect x="149.9" y="161.4" width="3.0" height="3.0" fill="#f4e800" stroke="#5a4a10"/><rect x="143.9" y="55.2" width="3.0" height="3.0" fill="#f4e800" stroke="#5a4a10"/><rect x="206.4" y="87.4" width="3.0" height="3.0" fill="#f4e800" stroke="#5a4a10"/><rect x="113.7" y="151.7" width="3.0" height="3.0" fill="#f4e800" stroke="#5a4a10"/><rect x="122.6" y="87.5" width="3.0" height="3.0" fill="#f4e800" stroke="#5a4a10"/><rect x="183.5" y="111.8" width="3.0" height="3.0" fill="#f4e800" stroke="#5a4a10"/><rect x="185.1" y="94.3" width="3.0" height="3.0" fill="#f4e800" stroke="#5a4a10"/><rect x="159.7" y="74.6" width="3.0" height="3.0" fill="#f4e800" stroke="#5a4a10"/><rect x="262.1" y="71.8" width="3.0" height="3.0" fill="#f4e800" stroke="#5a4a10"/><rect x="127.3" y="81.1" width="3.0" height="3.0" fill="#f4e800" stroke="#5a4a10"/><rect x="153.0" y="110.2" width="3.0" height="3.0" fill="#f4e800" stroke="#5a4a10"/><rect x="201.3" y="68.1" width="3.0" height="3.0" fill="#f4e800" stroke="#5a4a10"/><rect x="107.0" y="127.6" width="3.0" height="3.0" fill="#f4e800" stroke="#5a4a10"/><rect x="225.8" y="143.9" width="3.0" height="3.0" fill="#f4e800" stroke="#5a4a10"/><rect x="144.0" y="107.4" width="3.0" height="3.0" fill="#f4e800" stroke="#5a4a10"/><rect x="187.7" y="116.8" width="3.0" height="3.0" fill="#f4e800" stroke="#5a4a10"/><rect x="147.3" y="94.4" width="3.0" height="3.0" fill="#f4e800" stroke="#5a4a10"/><rect x="136.9" y="108.4" width="3.0" height="3.0" fill="#f4e800" stroke="#5a4a10"/><rect x="109.4" y="124.3" width="3.0" height="3.0" fill="#f4e800" stroke="#5a4a10"/><rect x="127.2" y="127.4" width="3.0" height="3.0" fill="#f4e800" stroke="#5a4a10"/><rect x="182.6" y="165.6" width="3.0" height="3.0" fill="#f4e800" stroke="#5a4a10"/><rect x="244.6" y="59.5" width="3.0" height="3.0" fill="#f4e800" stroke="#5a4a10"/><rect x="192.7" y="106.5" width="3.0" height="3.0" fill="#f4e800" stroke="#5a4a10"/><rect x="201.5" y="108.3" width="3.0" height="3.0" fill="#f4e800" stroke="#5a4a10"/><rect x="149.2" y="83.0" width="3.0" height="3.0" fill="#f4e800" stroke="#5a4a10"/><rect x="180.5" y="120.3" width="3.0" height="3.0" fill="#f4e800" stroke="#5a4a10"/><rect x="50.5" y="137.9" width="3.0" height="3.0" fill="#f4e800" stroke="#5a4a10"/><rect x="184.5" y="122.9" width="3.0" height="3.0" fill="#f4e800" stroke="#5a4a10"/><rect x="155.2" y="43.4" width="3.0" height="3.0" fill="#f4e800" stroke="#5a4a10"/><rect x="101.9" y="95.2" width="3.0" height="3.0" fill="#f4e800" stroke="#5a4a10"/><rect x="168.5" y="94.7" width="3.0" height="3.0" fill="#f4e800" stroke="#5a4a10"/><rect x="128.8" y="124.2" width="3.0" height="3.0" fill="#f4e800" stroke="#5a4a10"/><rect x="168.2" y="97.4" width="3.0" height="3.0" fill="#f4e800" stroke="#5a4a10"/><rect x="182.2" y="188.7" width="3.0" height="3.0" fill="#f4e800" stroke="#5a4a10"/><rect x="151.1" y="140.8" width="3.0" height="3.0" fill="#f4e800" stroke="#5a4a10"/><rect x="139.1" y="90.2" width="3.0" height="3.0" fill="#f4e800" stroke="#5a4a10"/><rect x="140.9" y="109.0" width="3.0" height="3.0" fill="#f4e800" stroke="#5a4a10"/><rect x="156.1" y="133.6" width="3.0" height="3.0" fill="#f4e800" stroke="#5a4a10"/><rect x="205.4" y="91.3" width="3.0" height="3.0" fill="#f4e800" stroke="#5a4a10"/><rect x="174.1" y="163.8" width="3.0" height="3.0" fill="#f4e800" stroke="#5a4a10"/><rect x="170.8" y="118.8" width="3.0" height="3.0" fill="#f4e800" stroke="#5a4a10"/><rect x="108.8" y="102.7" width="3.0" height="3.0" fill="#f4e800" stroke="#5a4a10"/><rect x="165.5" y="99.6" width="3.0" height="3.0" fill="#f4e800" stroke="#5a4a10"/><rect x="168.3" y="105.9" width="3.0" height="3.0" fill="#f4e800" stroke="#5a4a10"/><rect x="125.2" y="96.7" width="3.0" height="3.0" fill="#f4e800" stroke="#5a4a10"/><rect x="165.6" y="186.2" width="3.0" height="3.0" fill="#f4e800" stroke="#5a4a10"/><rect x="146.6" y="127.6" width="3.0" height="3.0" fill="#f4e800" stroke="#5a4a10"/><rect x="248.8" y="155.2" width="3.0" height="3.0" fill="#f4e800" stroke="#5a4a10"/><rect x="191.0" y="118.0" width="3.0" height="3.0" fill="#f4e800" stroke="#5a4a10"/><rect x="180.5" y="95.0" width="3.0" height="3.0" fill="#f4e800" stroke="#5a4a10"/><rect x="169.1" y="86.3" width="3.0" height="3.0" fill="#f4e800" stroke="#5a4a10"/><rect x="126.0" y="92.6" width="3.0" height="3.0" fill="#f4e800" stroke="#5a4a10"/><rect x="125.6" y="152.3" width="3.0" height="3.0" fill="#f4e800" stroke="#5a4a10"/><rect x="148.4" y="61.2" width="3.0" height="3.0" fill="#f4e800" stroke="#5a4a10"/><rect x="252.4" y="74.6" width="3.0" height="3.0" fill="#f4e800" stroke="#5a4a10"/><rect x="151.9" y="123.0" width="3.0" height="3.0" fill="#f4e800" stroke="#5a4a10"/><rect x="116.7" y="102.7" width="3.0" height="3.0" fill="#f4e800" stroke="#5a4a10"/><rect x="110.6" y="132.8" width="3.0" height="3.0" fill="#f4e800" stroke="#5a4a10"/><rect x="135.8" y="73.0" width="3.0" height="3.0" fill="#f4e800" stroke="#5a4a10"/><rect x="175.6" y="125.3" width="3.0" height="3.0" fill="#f4e800" stroke="#5a4a10"/><rect x="169.9" y="138.3" width="3.0" height="3.0" fill="#f4e800" stroke="#5a4a10"/><rect x="156.7" y="112.3" width="3.0" height="3.0" fill="#f4e800" stroke="#5a4a10"/><rect x="156.7" y="196.9" width="3.0" height="3.0" fill="#f4e800" stroke="#5a4a10"/><rect x="119.3" y="82.2" width="3.0" height="3.0" fill="#f4e800" stroke="#5a4a10"/><rect x="168.0" y="169.9" width="3.0" height="3.0" fill="#f4e800" stroke="#5a4a10"/><rect x="132.4" y="105.2" width="3.0" height="3.0" fill="#f4e800" stroke="#5a4a10"/><rect x="202.7" y="102.4" width="3.0" height="3.0" fill="#f4e800" stroke="#5a4a10"/><rect x="152.5" y="91.9" width="3.0" height="3.0" fill="#f4e800" stroke="#5a4a10"/><rect x="195.5" y="119.7" width="3.0" height="3.0" fill="#f4e800" stroke="#5a4a10"/><rect x="162.4" y="105.6" width="3.0" height="3.0" fill="#f4e800" stroke="#5a4a10"/><rect x="136.5" y="99.9" width="3.0" height="3.0" fill="#f4e800" stroke="#5a4a10"/><rect x="48.0" y="182.4" width="3.0" height="3.0" fill="#f4e800" stroke="#5a4a10"/><rect x="173.5" y="73.5" width="3.0" height="3.0" fill="#f4e800" stroke="#5a4a10"/><rect x="195.6" y="100.5" width="3.0" height="3.0" fill="#f4e800" stroke="#5a4a10"/><rect x="261.3" y="156.9" width="3.0" height="3.0" fill="#f4e800" stroke="#5a4a10"/><rect x="158.5" y="94.4" width="3.0" height="3.0" fill="#f4e800" stroke="#5a4a10"/><rect x="85.8" y="107.2" width="3.0" height="3.0" fill="#f4e800" stroke="#5a4a10"/><rect x="125.0" y="83.0" width="3.0" height="3.0" fill="#f4e800" stroke="#5a4a10"/><rect x="144.6" y="95.0" width="3.0" height="3.0" fill="#f4e800" stroke="#5a4a10"/><rect x="217.9" y="58.7" width="3.0" height="3.0" fill="#f4e800" stroke="#5a4a10"/><rect x="183.8" y="150.5" width="3.0" height="3.0" fill="#f4e800" stroke="#5a4a10"/><rect x="137.7" y="156.5" width="3.0" height="3.0" fill="#f4e800" stroke="#5a4a10"/><rect x="164.8" y="82.8" width="3.0" height="3.0" fill="#f4e800" stroke="#5a4a10"/><rect x="143.8" y="121.6" width="3.0" height="3.0" fill="#f4e800" stroke="#5a4a10"/><rect x="201.4" y="133.5" width="3.0" height="3.0" fill="#f4e800" stroke="#5a4a10"/><rect x="86.4" y="124.6" width="3.0" height="3.0" fill="#f4e800" stroke="#5a4a10"/><rect x="150.5" y="130.4" width="3.0" height="3.0" fill="#f4e800" stroke="#5a4a10"/><rect x="59.3" y="176.7" width="3.0" height="3.0" fill="#f4e800" stroke="#5a4a10"/><rect x="185.0" y="158.3" width="3.0" height="3.0" fill="#f4e800" stroke="#5a4a10"/><rect x="163.7" y="95.9" width="3.0" height="3.0" fill="#f4e800" stroke="#5a4a10"/><rect x="179.6" y="161.4" width="3.0" height="3.0" fill="#f4e800" stroke="#5a4a10"/><rect x="140.3" y="77.3" width="3.0" height="3.0" fill="#f4e800" stroke="#5a4a10"/><rect x="161.4" y="87.0" width="3.0" height="3.0" fill="#f4e800" stroke="#5a4a10"/><rect x="203.3" y="103.5" width="3.0" height="3.0" fill="#f4e800" stroke="#5a4a10"/><rect x="159.4" y="104.7" width="3.0" height="3.0" fill="#f4e800" stroke="#5a4a10"/><rect x="131.7" y="143.8" width="3.0" height="3.0" fill="#f4e800" stroke="#5a4a10"/><rect x="168.3" y="128.6" width="3.0" height="3.0" fill="#f4e800" stroke="#5a4a10"/><rect x="117.3" y="131.2" width="3.0" height="3.0" fill="#f4e800" stroke="#5a4a10"/><rect x="163.3" y="105.7" width="3.0" height="3.0" fill="#f4e800" stroke="#5a4a10"/><rect x="207.6" y="118.7" width="3.0" height="3.0" fill="#f4e800" stroke="#5a4a10"/><rect x="202.2" y="86.9" width="3.0" height="3.0" fill="#f4e800" stroke="#5a4a10"/><rect x="136.9" y="91.0" width="3.0" height="3.0" fill="#f4e800" stroke="#5a4a10"/><rect x="160.0" y="98.8" width="3.0" height="3.0" fill="#f4e800" stroke="#5a4a10"/><rect x="135.3" y="157.1" width="3.0" height="3.0" fill="#f4e800" stroke="#5a4a10"/><rect x="175.1" y="91.3" width="3.0" height="3.0" fill="#f4e800" stroke="#5a4a10"/><rect x="132.3" y="139.6" width="3.0" height="3.0" fill="#f4e800" stroke="#5a4a10"/><rect x="193.4" y="118.9" width="3.0" height="3.0" fill="#f4e800" stroke="#5a4a10"/><rect x="114.9" y="108.2" width="3.0" height="3.0" fill="#f4e800" stroke="#5a4a10"/><rect x="79.3" y="127.2" width="3.0" height="3.0" fill="#f4e800" stroke="#5a4a10"/><rect x="152.9" y="166.0" width="3.0" height="3.0" fill="#f4e800" stroke="#5a4a10"/><rect x="136.1" y="119.3" width="3.0" height="3.0" fill="#f4e800" stroke="#5a4a10"/><rect x="178.4" y="115.7" width="3.0" height="3.0" fill="#f4e800" stroke="#5a4a10"/><rect x="136.5" y="154.7" width="3.0" height="3.0" fill="#f4e800" stroke="#5a4a10"/><rect x="142.0" y="81.4" width="3.0" height="3.0" fill="#f4e800" stroke="#5a4a10"/><rect x="136.7" y="100.4" width="3.0" height="3.0" fill="#f4e800" stroke="#5a4a10"/><rect x="147.0" y="104.4" width="3.0" height="3.0" fill="#f4e800" stroke="#5a4a10"/><rect x="131.7" y="157.1" width="3.0" height="3.0" fill="#f4e800" stroke="#5a4a10"/><rect x="191.5" y="91.8" width="3.0" height="3.0" fill="#f4e800" stroke="#5a4a10"/><rect x="171.6" y="112.4" width="3.0" height="3.0" fill="#f4e800" stroke="#5a4a10"/><rect x="114.3" y="124.3" width="3.0" height="3.0" fill="#f4e800" stroke="#5a4a10"/><rect x="191.1" y="130.0" width="3.0" height="3.0" fill="#f4e800" stroke="#5a4a10"/><rect x="124.0" y="125.4" width="3.0" height="3.0" fill="#f4e800" stroke="#5a4a10"/><rect x="116.1" y="86.2" width="3.0" height="3.0" fill="#f4e800" stroke="#5a4a10"/><rect x="204.9" y="103.6" width="3.0" height="3.0" fill="#f4e800" stroke="#5a4a10"/><rect x="195.8" y="90.8" width="3.0" height="3.0" fill="#f4e800" stroke="#5a4a10"/><rect x="100.9" y="108.8" width="3.0" height="3.0" fill="#f4e800" stroke="#5a4a10"/><rect x="148.5" y="96.7" width="3.0" height="3.0" fill="#f4e800" stroke="#5a4a10"/><rect x="140.2" y="157.1" width="3.0" height="3.0" fill="#f4e800" stroke="#5a4a10"/><rect x="136.5" y="113.2" width="3.0" height="3.0" fill="#f4e800" stroke="#5a4a10"/><rect x="113.9" y="95.1" width="3.0" height="3.0" fill="#f4e800" stroke="#5a4a10"/><rect x="167.0" y="95.0" width="3.0" height="3.0" fill="#f4e800" stroke="#5a4a10"/><rect x="149.3" y="135.3" width="3.0" height="3.0" fill="#f4e800" stroke="#5a4a10"/><rect x="166.2" y="91.9" width="3.0" height="3.0" fill="#f4e800" stroke="#5a4a10"/><rect x="169.2" y="114.0" width="3.0" height="3.0" fill="#f4e800" stroke="#5a4a10"/><rect x="207.4" y="97.9" width="3.0" height="3.0" fill="#f4e800" stroke="#5a4a10"/><rect x="171.7" y="149.3" width="3.0" height="3.0" fill="#f4e800" stroke="#5a4a10"/><rect x="224.4" y="64.9" width="3.0" height="3.0" fill="#f4e800" stroke="#5a4a10"/><rect x="172.3" y="164.4" width="3.0" height="3.0" fill="#f4e800" stroke="#5a4a10"/><rect x="224.4" y="134.7" width="3.0" height="3.0" fill="#f4e800" stroke="#5a4a10"/><rect x="159.0" y="134.7" width="3.0" height="3.0" fill="#f4e800" stroke="#5a4a10"/><rect x="176.8" y="91.6" width="3.0" height="3.0" fill="#f4e800" stroke="#5a4a10"/><rect x="136.3" y="63.3" width="3.0" height="3.0" fill="#f4e800" stroke="#5a4a10"/><rect x="129.0" y="91.9" width="3.0" height="3.0" fill="#f4e800" stroke="#5a4a10"/><rect x="184.7" y="106.0" width="3.0" height="3.0" fill="#f4e800" stroke="#5a4a10"/><rect x="165.9" y="118.5" width="3.0" height="3.0" fill="#f4e800" stroke="#5a4a10"/><rect x="223.0" y="155.3" width="3.0" height="3.0" fill="#f4e800" stroke="#5a4a10"/><rect x="151.5" y="112.3" width="3.0" height="3.0" fill="#f4e800" stroke="#5a4a10"/><rect x="195.0" y="37.4" width="3.0" height="3.0" fill="#f4e800" stroke="#5a4a10"/><rect x="115.5" y="90.0" width="3.0" height="3.0" fill="#f4e800" stroke="#5a4a10"/><rect x="160.0" y="132.9" width="3.0" height="3.0" fill="#f4e800" stroke="#5a4a10"/><rect x="181.6" y="98.4" width="3.0" height="3.0" fill="#f4e800" stroke="#5a4a10"/><rect x="162.6" y="151.4" width="3.0" height="3.0" fill="#f4e800" stroke="#5a4a10"/><rect x="69.3" y="99.1" width="3.0" height="3.0" fill="#f4e800" stroke="#5a4a10"/><rect x="171.0" y="69.2" width="3.0" height="3.0" fill="#f4e800" stroke="#5a4a10"/><rect x="154.7" y="128.7" width="3.0" height="3.0" fill="#f4e800" stroke="#5a4a10"/><rect x="182.1" y="107.5" width="3.0" height="3.0" fill="#f4e800" stroke="#5a4a10"/><rect x="108.2" y="99.7" width="3.0" height="3.0" fill="#f4e800" stroke="#5a4a10"/><rect x="241.9" y="129.6" width="3.0" height="3.0" fill="#f4e800" stroke="#5a4a10"/><rect x="183.4" y="106.1" width="3.0" height="3.0" fill="#f4e800" stroke="#5a4a10"/><rect x="179.3" y="126.1" width="3.0" height="3.0" fill="#f4e800" stroke="#5a4a10"/><rect x="260.9" y="69.4" width="3.0" height="3.0" fill="#f4e800" stroke="#5a4a10"/><rect x="150.4" y="71.7" width="3.0" height="3.0" fill="#f4e800" stroke="#5a4a10"/><rect x="139.0" y="152.3" width="3.0" height="3.0" fill="#f4e800" stroke="#5a4a10"/><rect x="140.9" y="96.5" width="3.0" height="3.0" fill="#f4e800" stroke="#5a4a10"/><rect x="192.6" y="110.8" width="3.0" height="3.0" fill="#f4e800" stroke="#5a4a10"/><rect x="185.2" y="94.9" width="3.0" height="3.0" fill="#f4e800" stroke="#5a4a10"/><rect x="117.1" y="99.9" width="3.0" height="3.0" fill="#f4e800" stroke="#5a4a10"/><rect x="125.8" y="85.9" width="3.0" height="3.0" fill="#f4e800" stroke="#5a4a10"/><rect x="179.7" y="105.1" width="3.0" height="3.0" fill="#f4e800" stroke="#5a4a10"/><rect x="206.2" y="97.9" width="3.0" height="3.0" fill="#f4e800" stroke="#5a4a10"/><rect x="170.0" y="129.4" width="3.0" height="3.0" fill="#f4e800" stroke="#5a4a10"/><rect x="98.5" y="110.6" width="3.0" height="3.0" fill="#f4e800" stroke="#5a4a10"/><rect x="162.6" y="162.0" width="3.0" height="3.0" fill="#f4e800" stroke="#5a4a10"/><rect x="159.6" y="169.3" width="3.0" height="3.0" fill="#f4e800" stroke="#5a4a10"/><rect x="168.2" y="101.1" width="3.0" height="3.0" fill="#f4e800" stroke="#5a4a10"/><rect x="103.3" y="118.3" width="3.0" height="3.0" fill="#f4e800" stroke="#5a4a10"/><rect x="163.2" y="119.5" width="3.0" height="3.0" fill="#f4e800" stroke="#5a4a10"/><rect x="217.4" y="114.2" width="3.0" height="3.0" fill="#5a1f86" stroke="#2a0a40"/><rect x="221.2" y="89.3" width="3.0" height="3.0" fill="#5a1f86" stroke="#2a0a40"/><rect x="219.4" y="88.7" width="3.0" height="3.0" fill="#5a1f86" stroke="#2a0a40"/><rect x="215.9" y="99.9" width="3.0" height="3.0" fill="#5a1f86" stroke="#2a0a40"/><rect x="216.2" y="78.4" width="3.0" height="3.0" fill="#5a1f86" stroke="#2a0a40"/><rect x="218.6" y="86.7" width="3.0" height="3.0" fill="#5a1f86" stroke="#2a0a40"/><rect x="222.3" y="92.6" width="3.0" height="3.0" fill="#5a1f86" stroke="#2a0a40"/><rect x="221.5" y="77.1" width="3.0" height="3.0" fill="#5a1f86" stroke="#2a0a40"/><rect x="209.7" y="111.8" width="3.0" height="3.0" fill="#5a1f86" stroke="#2a0a40"/><rect x="222.4" y="97.6" width="3.0" height="3.0" fill="#5a1f86" stroke="#2a0a40"/><rect x="214.3" y="78.9" width="3.0" height="3.0" fill="#5a1f86" stroke="#2a0a40"/><rect x="220.5" y="94.4" width="3.0" height="3.0" fill="#5a1f86" stroke="#2a0a40"/><rect x="218.7" y="98.1" width="3.0" height="3.0" fill="#5a1f86" stroke="#2a0a40"/><rect x="221.8" y="74.6" width="3.0" height="3.0" fill="#5a1f86" stroke="#2a0a40"/><rect x="212.6" y="87.0" width="3.0" height="3.0" fill="#5a1f86" stroke="#2a0a40"/><rect x="219.3" y="69.9" width="3.0" height="3.0" fill="#5a1f86" stroke="#2a0a40"/><rect x="217.8" y="68.3" width="3.0" height="3.0" fill="#5a1f86" stroke="#2a0a40"/><rect x="209.1" y="100.3" width="3.0" height="3.0" fill="#5a1f86" stroke="#2a0a40"/><rect x="218.0" y="97.9" width="3.0" height="3.0" fill="#5a1f86" stroke="#2a0a40"/><rect x="214.6" y="89.9" width="3.0" height="3.0" fill="#5a1f86" stroke="#2a0a40"/><rect x="211.5" y="82.7" width="3.0" height="3.0" fill="#5a1f86" stroke="#2a0a40"/><rect x="221.7" y="108.9" width="3.0" height="3.0" fill="#5a1f86" stroke="#2a0a40"/><rect x="222.9" y="97.6" width="3.0" height="3.0" fill="#5a1f86" stroke="#2a0a40"/><rect x="222.1" y="75.8" width="3.0" height="3.0" fill="#5a1f86" stroke="#2a0a40"/><rect x="215.6" y="78.2" width="3.0" height="3.0" fill="#5a1f86" stroke="#2a0a40"/><rect x="222.9" y="84.1" width="3.0" height="3.0" fill="#5a1f86" stroke="#2a0a40"/><rect x="213.7" y="93.6" width="3.0" height="3.0" fill="#5a1f86" stroke="#2a0a40"/><rect x="215.6" y="84.1" width="3.0" height="3.0" fill="#5a1f86" stroke="#2a0a40"/><rect x="209.3" y="110.9" width="3.0" height="3.0" fill="#5a1f86" stroke="#2a0a40"/><rect x="218.2" y="90.2" width="3.0" height="3.0" fill="#5a1f86" stroke="#2a0a40"/><rect x="220.5" y="80.3" width="3.0" height="3.0" fill="#5a1f86" stroke="#2a0a40"/><rect x="211.6" y="99.6" width="3.0" height="3.0" fill="#5a1f86" stroke="#2a0a40"/><rect x="209.1" y="80.6" width="3.0" height="3.0" fill="#5a1f86" stroke="#2a0a40"/><rect x="221.3" y="101.3" width="3.0" height="3.0" fill="#5a1f86" stroke="#2a0a40"/><rect x="212.9" y="72.1" width="3.0" height="3.0" fill="#5a1f86" stroke="#2a0a40"/><rect x="214.3" y="103.0" width="3.0" height="3.0" fill="#5a1f86" stroke="#2a0a40"/><rect x="214.5" y="70.7" width="3.0" height="3.0" fill="#5a1f86" stroke="#2a0a40"/><rect x="221.0" y="94.7" width="3.0" height="3.0" fill="#5a1f86" stroke="#2a0a40"/><rect x="224.9" y="87.7" width="3.0" height="3.0" fill="#5a1f86" stroke="#2a0a40"/><rect x="222.8" y="80.7" width="3.0" height="3.0" fill="#5a1f86" stroke="#2a0a40"/><rect x="213.5" y="85.7" width="3.0" height="3.0" fill="#5a1f86" stroke="#2a0a40"/><rect x="212.2" y="83.7" width="3.0" height="3.0" fill="#5a1f86" stroke="#2a0a40"/><rect x="214.4" y="83.8" width="3.0" height="3.0" fill="#5a1f86" stroke="#2a0a40"/><rect x="215.0" y="85.0" width="3.0" height="3.0" fill="#5a1f86" stroke="#2a0a40"/><rect x="211.2" y="94.4" width="3.0" height="3.0" fill="#5a1f86" stroke="#2a0a40"/><rect x="222.6" y="93.1" width="3.0" height="3.0" fill="#5a1f86" stroke="#2a0a40"/><rect x="223.4" y="94.3" width="3.0" height="3.0" fill="#5a1f86" stroke="#2a0a40"/><rect x="210.9" y="104.7" width="3.0" height="3.0" fill="#5a1f86" stroke="#2a0a40"/><rect x="224.2" y="79.4" width="3.0" height="3.0" fill="#5a1f86" stroke="#2a0a40"/><rect x="207.9" y="91.8" width="3.0" height="3.0" fill="#5a1f86" stroke="#2a0a40"/><rect x="217.8" y="94.6" width="3.0" height="3.0" fill="#5a1f86" stroke="#2a0a40"/><rect x="217.9" y="106.3" width="3.0" height="3.0" fill="#5a1f86" stroke="#2a0a40"/><rect x="221.5" y="112.2" width="3.0" height="3.0" fill="#5a1f86" stroke="#2a0a40"/><rect x="209.1" y="98.1" width="3.0" height="3.0" fill="#5a1f86" stroke="#2a0a40"/><rect x="210.2" y="104.0" width="3.0" height="3.0" fill="#5a1f86" stroke="#2a0a40"/><rect x="219.8" y="77.5" width="3.0" height="3.0" fill="#5a1f86" stroke="#2a0a40"/><rect x="211.7" y="105.1" width="3.0" height="3.0" fill="#5a1f86" stroke="#2a0a40"/><rect x="217.4" y="105.0" width="3.0" height="3.0" fill="#5a1f86" stroke="#2a0a40"/><rect x="215.0" y="82.4" width="3.0" height="3.0" fill="#5a1f86" stroke="#2a0a40"/><rect x="216.9" y="93.0" width="3.0" height="3.0" fill="#5a1f86" stroke="#2a0a40"/><rect x="221.2" y="102.0" width="3.0" height="3.0" fill="#5a1f86" stroke="#2a0a40"/><rect x="224.9" y="86.3" width="3.0" height="3.0" fill="#5a1f86" stroke="#2a0a40"/><rect x="223.2" y="99.8" width="3.0" height="3.0" fill="#5a1f86" stroke="#2a0a40"/><rect x="217.5" y="102.1" width="3.0" height="3.0" fill="#5a1f86" stroke="#2a0a40"/><rect x="222.7" y="86.8" width="3.0" height="3.0" fill="#5a1f86" stroke="#2a0a40"/><rect x="214.6" y="73.4" width="3.0" height="3.0" fill="#5a1f86" stroke="#2a0a40"/><rect x="211.4" y="87.0" width="3.0" height="3.0" fill="#5a1f86" stroke="#2a0a40"/><rect x="213.0" y="115.9" width="3.0" height="3.0" fill="#5a1f86" stroke="#2a0a40"/><rect x="208.6" y="80.8" width="3.0" height="3.0" fill="#5a1f86" stroke="#2a0a40"/><rect x="209.7" y="98.8" width="3.0" height="3.0" fill="#5a1f86" stroke="#2a0a40"/><rect x="222.2" y="74.0" width="3.0" height="3.0" fill="#5a1f86" stroke="#2a0a40"/><rect x="208.7" y="88.8" width="3.0" height="3.0" fill="#5a1f86" stroke="#2a0a40"/><rect x="218.6" y="112.7" width="3.0" height="3.0" fill="#5a1f86" stroke="#2a0a40"/><rect x="211.0" y="76.0" width="3.0" height="3.0" fill="#5a1f86" stroke="#2a0a40"/><rect x="212.0" y="102.5" width="3.0" height="3.0" fill="#5a1f86" stroke="#2a0a40"/><rect x="218.8" y="76.4" width="3.0" height="3.0" fill="#5a1f86" stroke="#2a0a40"/><rect x="211.0" y="79.4" width="3.0" height="3.0" fill="#5a1f86" stroke="#2a0a40"/><rect x="210.8" y="104.6" width="3.0" height="3.0" fill="#5a1f86" stroke="#2a0a40"/><rect x="213.4" y="93.6" width="3.0" height="3.0" fill="#5a1f86" stroke="#2a0a40"/><rect x="223.0" y="89.9" width="3.0" height="3.0" fill="#5a1f86" stroke="#2a0a40"/><rect x="212.4" y="111.5" width="3.0" height="3.0" fill="#5a1f86" stroke="#2a0a40"/><rect x="224.9" y="82.6" width="3.0" height="3.0" fill="#5a1f86" stroke="#2a0a40"/><rect x="217.9" y="115.2" width="3.0" height="3.0" fill="#5a1f86" stroke="#2a0a40"/><rect x="216.7" y="76.2" width="3.0" height="3.0" fill="#5a1f86" stroke="#2a0a40"/><rect x="222.7" y="84.9" width="3.0" height="3.0" fill="#5a1f86" stroke="#2a0a40"/><rect x="217.5" y="91.8" width="3.0" height="3.0" fill="#5a1f86" stroke="#2a0a40"/><rect x="220.0" y="77.1" width="3.0" height="3.0" fill="#5a1f86" stroke="#2a0a40"/><rect x="207.7" y="89.6" width="3.0" height="3.0" fill="#5a1f86" stroke="#2a0a40"/><rect x="214.6" y="106.7" width="3.0" height="3.0" fill="#5a1f86" stroke="#2a0a40"/><rect x="221.1" y="96.6" width="3.0" height="3.0" fill="#5a1f86" stroke="#2a0a40"/><rect x="210.5" y="72.8" width="3.0" height="3.0" fill="#5a1f86" stroke="#2a0a40"/><rect x="213.6" y="78.2" width="3.0" height="3.0" fill="#5a1f86" stroke="#2a0a40"/><rect x="224.0" y="91.9" width="3.0" height="3.0" fill="#5a1f86" stroke="#2a0a40"/><rect x="219.6" y="117.1" width="3.0" height="3.0" fill="#5a1f86" stroke="#2a0a40"/><rect x="212.6" y="92.8" width="3.0" height="3.0" fill="#5a1f86" stroke="#2a0a40"/><rect x="210.4" y="105.3" width="3.0" height="3.0" fill="#5a1f86" stroke="#2a0a40"/><rect x="209.1" y="78.8" width="3.0" height="3.0" fill="#5a1f86" stroke="#2a0a40"/><rect x="216.6" y="89.3" width="3.0" height="3.0" fill="#5a1f86" stroke="#2a0a40"/><rect x="223.8" y="80.6" width="3.0" height="3.0" fill="#5a1f86" stroke="#2a0a40"/><rect x="222.5" y="86.6" width="3.0" height="3.0" fill="#5a1f86" stroke="#2a0a40"/><rect x="223.2" y="75.5" width="3.0" height="3.0" fill="#5a1f86" stroke="#2a0a40"/><rect x="217.8" y="92.4" width="3.0" height="3.0" fill="#5a1f86" stroke="#2a0a40"/><rect x="210.5" y="108.6" width="3.0" height="3.0" fill="#5a1f86" stroke="#2a0a40"/><rect x="213.4" y="81.0" width="3.0" height="3.0" fill="#5a1f86" stroke="#2a0a40"/><rect x="208.9" y="80.7" width="3.0" height="3.0" fill="#5a1f86" stroke="#2a0a40"/><rect x="216.4" y="102.4" width="3.0" height="3.0" fill="#5a1f86" stroke="#2a0a40"/><rect x="214.3" y="100.9" width="3.0" height="3.0" fill="#5a1f86" stroke="#2a0a40"/><rect x="209.5" y="85.4" width="3.0" height="3.0" fill="#5a1f86" stroke="#2a0a40"/><rect x="216.3" y="115.7" width="3.0" height="3.0" fill="#5a1f86" stroke="#2a0a40"/><rect x="223.3" y="99.2" width="3.0" height="3.0" fill="#5a1f86" stroke="#2a0a40"/><rect x="221.0" y="77.1" width="3.0" height="3.0" fill="#5a1f86" stroke="#2a0a40"/><rect x="218.2" y="88.8" width="3.0" height="3.0" fill="#5a1f86" stroke="#2a0a40"/><rect x="222.7" y="75.5" width="3.0" height="3.0" fill="#5a1f86" stroke="#2a0a40"/><rect x="219.2" y="79.9" width="3.0" height="3.0" fill="#5a1f86" stroke="#2a0a40"/><rect x="214.6" y="93.1" width="3.0" height="3.0" fill="#5a1f86" stroke="#2a0a40"/><rect x="213.2" y="82.4" width="3.0" height="3.0" fill="#5a1f86" stroke="#2a0a40"/><rect x="215.0" y="99.8" width="3.0" height="3.0" fill="#5a1f86" stroke="#2a0a40"/><rect x="212.4" y="75.1" width="3.0" height="3.0" fill="#5a1f86" stroke="#2a0a40"/><rect x="221.4" y="82.0" width="3.0" height="3.0" fill="#5a1f86" stroke="#2a0a40"/><rect x="225.5" y="94.3" width="3.0" height="3.0" fill="#5a1f86" stroke="#2a0a40"/><rect x="221.3" y="82.1" width="3.0" height="3.0" fill="#5a1f86" stroke="#2a0a40"/><rect x="210.2" y="69.5" width="3.0" height="3.0" fill="#5a1f86" stroke="#2a0a40"/><rect x="220.4" y="102.0" width="3.0" height="3.0" fill="#5a1f86" stroke="#2a0a40"/><rect x="210.9" y="85.8" width="3.0" height="3.0" fill="#5a1f86" stroke="#2a0a40"/><rect x="223.4" y="95.9" width="3.0" height="3.0" fill="#5a1f86" stroke="#2a0a40"/><rect x="209.2" y="76.5" width="3.0" height="3.0" fill="#5a1f86" stroke="#2a0a40"/><rect x="210.5" y="71.1" width="3.0" height="3.0" fill="#5a1f86" stroke="#2a0a40"/><rect x="215.2" y="68.4" width="3.0" height="3.0" fill="#5a1f86" stroke="#2a0a40"/><rect x="225.0" y="87.1" width="3.0" height="3.0" fill="#5a1f86" stroke="#2a0a40"/><rect x="217.2" y="98.8" width="3.0" height="3.0" fill="#5a1f86" stroke="#2a0a40"/><rect x="222.1" y="108.0" width="3.0" height="3.0" fill="#5a1f86" stroke="#2a0a40"/><rect x="214.8" y="82.1" width="3.0" height="3.0" fill="#5a1f86" stroke="#2a0a40"/><rect x="215.3" y="65.3" width="3.0" height="3.0" fill="#5a1f86" stroke="#2a0a40"/><rect x="215.1" y="101.6" width="3.0" height="3.0" fill="#5a1f86" stroke="#2a0a40"/><rect x="220.0" y="96.8" width="3.0" height="3.0" fill="#5a1f86" stroke="#2a0a40"/><rect x="214.0" y="99.0" width="3.0" height="3.0" fill="#5a1f86" stroke="#2a0a40"/><rect x="209.5" y="84.5" width="3.0" height="3.0" fill="#5a1f86" stroke="#2a0a40"/><rect x="217.2" y="106.3" width="3.0" height="3.0" fill="#5a1f86" stroke="#2a0a40"/><rect x="223.2" y="96.9" width="3.0" height="3.0" fill="#5a1f86" stroke="#2a0a40"/><rect x="210.5" y="105.1" width="3.0" height="3.0" fill="#5a1f86" stroke="#2a0a40"/><rect x="224.7" y="93.6" width="3.0" height="3.0" fill="#5a1f86" stroke="#2a0a40"/><rect x="214.2" y="91.0" width="3.0" height="3.0" fill="#5a1f86" stroke="#2a0a40"/><rect x="210.2" y="102.3" width="3.0" height="3.0" fill="#5a1f86" stroke="#2a0a40"/><rect x="221.1" y="108.8" width="3.0" height="3.0" fill="#5a1f86" stroke="#2a0a40"/><rect x="211.2" y="114.6" width="3.0" height="3.0" fill="#5a1f86" stroke="#2a0a40"/><rect x="219.4" y="75.0" width="3.0" height="3.0" fill="#5a1f86" stroke="#2a0a40"/><rect x="209.1" y="77.5" width="3.0" height="3.0" fill="#5a1f86" stroke="#2a0a40"/><rect x="218.5" y="101.4" width="3.0" height="3.0" fill="#5a1f86" stroke="#2a0a40"/><rect x="213.8" y="113.7" width="3.0" height="3.0" fill="#5a1f86" stroke="#2a0a40"/><rect x="214.4" y="89.0" width="3.0" height="3.0" fill="#5a1f86" stroke="#2a0a40"/><rect x="210.1" y="112.4" width="3.0" height="3.0" fill="#5a1f86" stroke="#2a0a40"/><rect x="217.8" y="94.2" width="3.0" height="3.0" fill="#5a1f86" stroke="#2a0a40"/><rect x="218.1" y="78.5" width="3.0" height="3.0" fill="#5a1f86" stroke="#2a0a40"/><rect x="212.6" y="67.1" width="3.0" height="3.0" fill="#5a1f86" stroke="#2a0a40"/><rect x="213.7" y="115.6" width="3.0" height="3.0" fill="#5a1f86" stroke="#2a0a40"/><rect x="213.6" y="69.1" width="3.0" height="3.0" fill="#5a1f86" stroke="#2a0a40"/><rect x="227.7" y="72.1" width="3.0" height="3.0" fill="#5a1f86" stroke="#2a0a40"/><rect x="225.2" y="71.1" width="3.0" height="3.0" fill="#5a1f86" stroke="#2a0a40"/><rect x="220.2" y="66.1" width="3.0" height="3.0" fill="#5a1f86" stroke="#2a0a40"/><rect x="228.8" y="78.7" width="3.0" height="3.0" fill="#5a1f86" stroke="#2a0a40"/><rect x="212.1" y="71.6" width="3.0" height="3.0" fill="#5a1f86" stroke="#2a0a40"/><rect x="235.6" y="98.3" width="3.0" height="3.0" fill="#f4e800" stroke="#5a4a10"/><rect x="249.7" y="93.1" width="3.0" height="3.0" fill="#f4e800" stroke="#5a4a10"/><rect x="237.2" y="99.8" width="3.0" height="3.0" fill="#f4e800" stroke="#5a4a10"/><rect x="227.5" y="95.7" width="3.0" height="3.0" fill="#f4e800" stroke="#5a4a10"/><rect x="240.9" y="111.1" width="3.0" height="3.0" fill="#f4e800" stroke="#5a4a10"/><rect x="224.7" y="112.0" width="3.0" height="3.0" fill="#f4e800" stroke="#5a4a10"/><rect x="242.8" y="69.8" width="3.0" height="3.0" fill="#f4e800" stroke="#5a4a10"/><rect x="241.6" y="101.4" width="3.0" height="3.0" fill="#f4e800" stroke="#5a4a10"/><rect x="237.9" y="70.8" width="3.0" height="3.0" fill="#f4e800" stroke="#5a4a10"/><rect x="227.7" y="80.8" width="3.0" height="3.0" fill="#f4e800" stroke="#5a4a10"/><rect x="235.2" y="113.8" width="3.0" height="3.0" fill="#f4e800" stroke="#5a4a10"/><rect x="237.6" y="102.7" width="3.0" height="3.0" fill="#f4e800" stroke="#5a4a10"/><rect x="237.0" y="103.9" width="3.0" height="3.0" fill="#f4e800" stroke="#5a4a10"/><rect x="235.7" y="82.8" width="3.0" height="3.0" fill="#f4e800" stroke="#5a4a10"/><rect x="247.2" y="106.4" width="3.0" height="3.0" fill="#f4e800" stroke="#5a4a10"/><rect x="231.5" y="80.1" width="3.0" height="3.0" fill="#f4e800" stroke="#5a4a10"/><rect x="230.7" y="71.4" width="3.0" height="3.0" fill="#f4e800" stroke="#5a4a10"/><rect x="245.0" y="89.5" width="3.0" height="3.0" fill="#f4e800" stroke="#5a4a10"/><rect x="247.4" y="88.8" width="3.0" height="3.0" fill="#f4e800" stroke="#5a4a10"/><rect x="249.3" y="93.3" width="3.0" height="3.0" fill="#f4e800" stroke="#5a4a10"/><rect x="251.4" y="89.4" width="3.0" height="3.0" fill="#f4e800" stroke="#5a4a10"/><rect x="245.4" y="82.3" width="3.0" height="3.0" fill="#f4e800" stroke="#5a4a10"/><rect x="225.5" y="81.1" width="3.0" height="3.0" fill="#f4e800" stroke="#5a4a10"/><rect x="225.0" y="70.8" width="3.0" height="3.0" fill="#f4e800" stroke="#5a4a10"/><rect x="245.9" y="77.3" width="3.0" height="3.0" fill="#f4e800" stroke="#5a4a10"/><rect x="238.8" y="92.1" width="3.0" height="3.0" fill="#f4e800" stroke="#5a4a10"/><rect x="227.7" y="107.8" width="3.0" height="3.0" fill="#f4e800" stroke="#5a4a10"/><rect x="225.9" y="102.9" width="3.0" height="3.0" fill="#f4e800" stroke="#5a4a10"/><rect x="228.4" y="82.3" width="3.0" height="3.0" fill="#f4e800" stroke="#5a4a10"/><rect x="231.1" y="116.2" width="3.0" height="3.0" fill="#f4e800" stroke="#5a4a10"/><rect x="228.3" y="89.2" width="3.0" height="3.0" fill="#f4e800" stroke="#5a4a10"/><rect x="247.6" y="102.8" width="3.0" height="3.0" fill="#f4e800" stroke="#5a4a10"/><rect x="228.4" y="81.7" width="3.0" height="3.0" fill="#f4e800" stroke="#5a4a10"/><rect x="245.2" y="85.6" width="3.0" height="3.0" fill="#f4e800" stroke="#5a4a10"/><rect x="230.9" y="71.5" width="3.0" height="3.0" fill="#f4e800" stroke="#5a4a10"/><rect x="229.3" y="100.6" width="3.0" height="3.0" fill="#f4e800" stroke="#5a4a10"/><rect x="233.2" y="92.4" width="3.0" height="3.0" fill="#f4e800" stroke="#5a4a10"/><rect x="250.8" y="94.1" width="3.0" height="3.0" fill="#f4e800" stroke="#5a4a10"/><rect x="239.2" y="115.2" width="3.0" height="3.0" fill="#f4e800" stroke="#5a4a10"/><rect x="227.5" y="76.0" width="3.0" height="3.0" fill="#f4e800" stroke="#5a4a10"/><rect x="229.5" y="77.9" width="3.0" height="3.0" fill="#f4e800" stroke="#5a4a10"/><rect x="227.9" y="119.8" width="3.0" height="3.0" fill="#f4e800" stroke="#5a4a10"/><rect x="248.5" y="100.7" width="3.0" height="3.0" fill="#f4e800" stroke="#5a4a10"/><rect x="234.6" y="73.2" width="3.0" height="3.0" fill="#f4e800" stroke="#5a4a10"/><rect x="229.2" y="106.3" width="3.0" height="3.0" fill="#f4e800" stroke="#5a4a10"/><rect x="229.7" y="112.8" width="3.0" height="3.0" fill="#f4e800" stroke="#5a4a10"/><rect x="239.9" y="83.6" width="3.0" height="3.0" fill="#f4e800" stroke="#5a4a10"/><rect x="227.3" y="107.1" width="3.0" height="3.0" fill="#f4e800" stroke="#5a4a10"/><rect x="238.8" y="114.4" width="3.0" height="3.0" fill="#f4e800" stroke="#5a4a10"/><rect x="240.4" y="82.9" width="3.0" height="3.0" fill="#f4e800" stroke="#5a4a10"/><rect x="249.5" y="78.7" width="3.0" height="3.0" fill="#f4e800" stroke="#5a4a10"/><rect x="227.3" y="87.8" width="3.0" height="3.0" fill="#f4e800" stroke="#5a4a10"/><rect x="239.2" y="74.7" width="3.0" height="3.0" fill="#f4e800" stroke="#5a4a10"/><rect x="232.9" y="116.5" width="3.0" height="3.0" fill="#f4e800" stroke="#5a4a10"/><rect x="242.7" y="99.6" width="3.0" height="3.0" fill="#f4e800" stroke="#5a4a10"/><rect x="236.5" y="107.7" width="3.0" height="3.0" fill="#f4e800" stroke="#5a4a10"/><rect x="244.1" y="117.0" width="3.0" height="3.0" fill="#f4e800" stroke="#5a4a10"/><rect x="244.1" y="106.2" width="3.0" height="3.0" fill="#f4e800" stroke="#5a4a10"/><rect x="232.6" y="105.2" width="3.0" height="3.0" fill="#f4e800" stroke="#5a4a10"/><rect x="234.5" y="111.0" width="3.0" height="3.0" fill="#f4e800" stroke="#5a4a10"/><rect x="247.9" y="99.0" width="3.0" height="3.0" fill="#f4e800" stroke="#5a4a10"/><rect x="240.7" y="88.5" width="3.0" height="3.0" fill="#f4e800" stroke="#5a4a10"/><rect x="239.5" y="101.0" width="3.0" height="3.0" fill="#f4e800" stroke="#5a4a10"/><rect x="243.8" y="88.9" width="3.0" height="3.0" fill="#f4e800" stroke="#5a4a10"/><rect x="244.1" y="99.5" width="3.0" height="3.0" fill="#f4e800" stroke="#5a4a10"/><rect x="235.2" y="113.6" width="3.0" height="3.0" fill="#f4e800" stroke="#5a4a10"/><rect x="224.5" y="108.8" width="3.0" height="3.0" fill="#f4e800" stroke="#5a4a10"/><rect x="236.4" y="80.2" width="3.0" height="3.0" fill="#f4e800" stroke="#5a4a10"/><rect x="243.0" y="94.8" width="3.0" height="3.0" fill="#f4e800" stroke="#5a4a10"/><rect x="240.4" y="118.1" width="3.0" height="3.0" fill="#f4e800" stroke="#5a4a10"/><rect x="231.0" y="104.8" width="3.0" height="3.0" fill="#f4e800" stroke="#5a4a10"/><rect x="228.1" y="76.8" width="3.0" height="3.0" fill="#f4e800" stroke="#5a4a10"/><rect x="249.2" y="103.8" width="3.0" height="3.0" fill="#f4e800" stroke="#5a4a10"/><rect x="235.3" y="116.5" width="3.0" height="3.0" fill="#f4e800" stroke="#5a4a10"/><rect x="231.8" y="104.1" width="3.0" height="3.0" fill="#f4e800" stroke="#5a4a10"/><rect x="228.0" y="91.2" width="3.0" height="3.0" fill="#f4e800" stroke="#5a4a10"/><rect x="248.4" y="88.6" width="3.0" height="3.0" fill="#f4e800" stroke="#5a4a10"/><rect x="239.5" y="84.9" width="3.0" height="3.0" fill="#f4e800" stroke="#5a4a10"/><rect x="226.1" y="94.8" width="3.0" height="3.0" fill="#f4e800" stroke="#5a4a10"/><rect x="230.3" y="76.8" width="3.0" height="3.0" fill="#f4e800" stroke="#5a4a10"/><rect x="235.5" y="82.6" width="3.0" height="3.0" fill="#f4e800" stroke="#5a4a10"/><rect x="228.4" y="90.3" width="3.0" height="3.0" fill="#f4e800" stroke="#5a4a10"/><rect x="240.8" y="94.7" width="3.0" height="3.0" fill="#f4e800" stroke="#5a4a10"/><rect x="231.5" y="113.7" width="3.0" height="3.0" fill="#f4e800" stroke="#5a4a10"/><rect x="251.5" y="92.4" width="3.0" height="3.0" fill="#f4e800" stroke="#5a4a10"/><rect x="243.3" y="98.9" width="3.0" height="3.0" fill="#f4e800" stroke="#5a4a10"/><rect x="231.3" y="111.0" width="3.0" height="3.0" fill="#f4e800" stroke="#5a4a10"/><rect x="246.9" y="80.6" width="3.0" height="3.0" fill="#f4e800" stroke="#5a4a10"/><rect x="226.2" y="70.1" width="3.0" height="3.0" fill="#f4e800" stroke="#5a4a10"/><rect x="240.9" y="92.1" width="3.0" height="3.0" fill="#f4e800" stroke="#5a4a10"/><rect x="240.9" y="103.5" width="3.0" height="3.0" fill="#f4e800" stroke="#5a4a10"/><rect x="242.5" y="78.5" width="3.0" height="3.0" fill="#f4e800" stroke="#5a4a10"/><rect x="236.3" y="77.3" width="3.0" height="3.0" fill="#f4e800" stroke="#5a4a10"/><rect x="243.4" y="77.4" width="3.0" height="3.0" fill="#f4e800" stroke="#5a4a10"/><rect x="230.2" y="86.5" width="3.0" height="3.0" fill="#f4e800" stroke="#5a4a10"/><rect x="242.9" y="96.1" width="3.0" height="3.0" fill="#f4e800" stroke="#5a4a10"/><rect x="240.4" y="109.1" width="3.0" height="3.0" fill="#f4e800" stroke="#5a4a10"/><rect x="233.8" y="111.1" width="3.0" height="3.0" fill="#f4e800" stroke="#5a4a10"/><rect x="250.0" y="107.2" width="3.0" height="3.0" fill="#f4e800" stroke="#5a4a10"/><rect x="240.8" y="117.5" width="3.0" height="3.0" fill="#f4e800" stroke="#5a4a10"/><rect x="233.3" y="98.8" width="3.0" height="3.0" fill="#f4e800" stroke="#5a4a10"/><rect x="250.3" y="93.0" width="3.0" height="3.0" fill="#f4e800" stroke="#5a4a10"/><rect x="241.5" y="78.8" width="3.0" height="3.0" fill="#f4e800" stroke="#5a4a10"/><rect x="243.7" y="112.5" width="3.0" height="3.0" fill="#f4e800" stroke="#5a4a10"/><rect x="241.2" y="107.0" width="3.0" height="3.0" fill="#f4e800" stroke="#5a4a10"/><rect x="228.4" y="117.0" width="3.0" height="3.0" fill="#f4e800" stroke="#5a4a10"/><rect x="238.1" y="111.0" width="3.0" height="3.0" fill="#f4e800" stroke="#5a4a10"/><rect x="231.6" y="117.5" width="3.0" height="3.0" fill="#f4e800" stroke="#5a4a10"/><rect x="247.7" y="86.7" width="3.0" height="3.0" fill="#f4e800" stroke="#5a4a10"/><rect x="238.5" y="109.8" width="3.0" height="3.0" fill="#f4e800" stroke="#5a4a10"/><rect x="246.3" y="71.0" width="3.0" height="3.0" fill="#f4e800" stroke="#5a4a10"/><rect x="246.0" y="77.0" width="3.0" height="3.0" fill="#f4e800" stroke="#5a4a10"/><rect x="232.1" y="110.8" width="3.0" height="3.0" fill="#f4e800" stroke="#5a4a10"/><rect x="226.2" y="75.7" width="3.0" height="3.0" fill="#f4e800" stroke="#5a4a10"/><rect x="237.5" y="107.3" width="3.0" height="3.0" fill="#f4e800" stroke="#5a4a10"/><rect x="247.2" y="105.4" width="3.0" height="3.0" fill="#f4e800" stroke="#5a4a10"/><rect x="250.4" y="94.6" width="3.0" height="3.0" fill="#f4e800" stroke="#5a4a10"/><rect x="228.6" y="96.5" width="3.0" height="3.0" fill="#f4e800" stroke="#5a4a10"/><rect x="230.7" y="107.6" width="3.0" height="3.0" fill="#f4e800" stroke="#5a4a10"/><rect x="241.2" y="96.3" width="3.0" height="3.0" fill="#f4e800" stroke="#5a4a10"/><rect x="247.3" y="98.3" width="3.0" height="3.0" fill="#f4e800" stroke="#5a4a10"/><rect x="231.4" y="88.5" width="3.0" height="3.0" fill="#f4e800" stroke="#5a4a10"/><rect x="228.2" y="114.3" width="3.0" height="3.0" fill="#f4e800" stroke="#5a4a10"/><rect x="251.1" y="96.3" width="3.0" height="3.0" fill="#f4e800" stroke="#5a4a10"/><rect x="239.2" y="78.6" width="3.0" height="3.0" fill="#f4e800" stroke="#5a4a10"/><rect x="238.1" y="95.2" width="3.0" height="3.0" fill="#f4e800" stroke="#5a4a10"/><rect x="240.2" y="69.0" width="3.0" height="3.0" fill="#f4e800" stroke="#5a4a10"/><rect x="251.1" y="95.9" width="3.0" height="3.0" fill="#f4e800" stroke="#5a4a10"/><rect x="234.0" y="111.6" width="3.0" height="3.0" fill="#f4e800" stroke="#5a4a10"/><rect x="238.9" y="94.5" width="3.0" height="3.0" fill="#f4e800" stroke="#5a4a10"/><rect x="242.7" y="71.1" width="3.0" height="3.0" fill="#f4e800" stroke="#5a4a10"/><rect x="238.2" y="90.3" width="3.0" height="3.0" fill="#f4e800" stroke="#5a4a10"/><rect x="230.1" y="93.5" width="3.0" height="3.0" fill="#f4e800" stroke="#5a4a10"/><rect x="236.3" y="84.9" width="3.0" height="3.0" fill="#f4e800" stroke="#5a4a10"/><rect x="227.7" y="101.5" width="3.0" height="3.0" fill="#f4e800" stroke="#5a4a10"/><rect x="249.8" y="74.6" width="3.0" height="3.0" fill="#f4e800" stroke="#5a4a10"/><rect x="227.8" y="80.0" width="3.0" height="3.0" fill="#f4e800" stroke="#5a4a10"/><rect x="242.6" y="85.2" width="3.0" height="3.0" fill="#f4e800" stroke="#5a4a10"/><rect x="232.7" y="101.6" width="3.0" height="3.0" fill="#f4e800" stroke="#5a4a10"/><rect x="225.1" y="107.7" width="3.0" height="3.0" fill="#f4e800" stroke="#5a4a10"/><rect x="229.5" y="78.4" width="3.0" height="3.0" fill="#f4e800" stroke="#5a4a10"/><rect x="237.9" y="91.5" width="3.0" height="3.0" fill="#f4e800" stroke="#5a4a10"/><rect x="233.3" y="90.2" width="3.0" height="3.0" fill="#f4e800" stroke="#5a4a10"/><rect x="237.9" y="76.3" width="3.0" height="3.0" fill="#f4e800" stroke="#5a4a10"/><rect x="228.1" y="102.2" width="3.0" height="3.0" fill="#f4e800" stroke="#5a4a10"/><rect x="241.2" y="96.6" width="3.0" height="3.0" fill="#f4e800" stroke="#5a4a10"/><rect x="247.5" y="101.1" width="3.0" height="3.0" fill="#f4e800" stroke="#5a4a10"/><rect x="247.7" y="80.3" width="3.0" height="3.0" fill="#f4e800" stroke="#5a4a10"/><rect x="244.2" y="112.1" width="3.0" height="3.0" fill="#f4e800" stroke="#5a4a10"/><rect x="249.1" y="84.9" width="3.0" height="3.0" fill="#f4e800" stroke="#5a4a10"/><rect x="231.4" y="118.3" width="3.0" height="3.0" fill="#f4e800" stroke="#5a4a10"/><rect x="248.6" y="74.9" width="3.0" height="3.0" fill="#f4e800" stroke="#5a4a10"/><rect x="229.2" y="107.5" width="3.0" height="3.0" fill="#f4e800" stroke="#5a4a10"/><rect x="229.8" y="72.8" width="3.0" height="3.0" fill="#f4e800" stroke="#5a4a10"/><rect x="247.0" y="90.7" width="3.0" height="3.0" fill="#f4e800" stroke="#5a4a10"/><rect x="245.7" y="74.4" width="3.0" height="3.0" fill="#f4e800" stroke="#5a4a10"/><rect x="234.1" y="105.2" width="3.0" height="3.0" fill="#f4e800" stroke="#5a4a10"/><rect x="242.5" y="117.6" width="3.0" height="3.0" fill="#f4e800" stroke="#5a4a10"/><rect x="237.2" y="109.2" width="3.0" height="3.0" fill="#f4e800" stroke="#5a4a10"/><rect x="237.1" y="105.2" width="3.0" height="3.0" fill="#f4e800" stroke="#5a4a10"/><rect x="227.7" y="71.4" width="3.0" height="3.0" fill="#f4e800" stroke="#5a4a10"/><rect x="238.6" y="95.8" width="3.0" height="3.0" fill="#f4e800" stroke="#5a4a10"/><rect x="239.1" y="75.6" width="3.0" height="3.0" fill="#f4e800" stroke="#5a4a10"/><rect x="227.5" y="78.7" width="3.0" height="3.0" fill="#f4e800" stroke="#5a4a10"/><rect x="235.9" y="109.6" width="3.0" height="3.0" fill="#f4e800" stroke="#5a4a10"/><rect x="231.8" y="93.2" width="3.0" height="3.0" fill="#f4e800" stroke="#5a4a10"/><rect x="237.5" y="91.2" width="3.0" height="3.0" fill="#f4e800" stroke="#5a4a10"/><rect x="243.0" y="113.9" width="3.0" height="3.0" fill="#f4e800" stroke="#5a4a10"/><rect x="227.4" y="92.5" width="3.0" height="3.0" fill="#f4e800" stroke="#5a4a10"/><rect x="244.2" y="89.8" width="3.0" height="3.0" fill="#f4e800" stroke="#5a4a10"/><rect x="227.9" y="76.6" width="3.0" height="3.0" fill="#f4e800" stroke="#5a4a10"/><rect x="243.1" y="114.8" width="3.0" height="3.0" fill="#f4e800" stroke="#5a4a10"/><rect x="240.9" y="89.7" width="3.0" height="3.0" fill="#f4e800" stroke="#5a4a10"/><rect x="240.0" y="95.2" width="3.0" height="3.0" fill="#f4e800" stroke="#5a4a10"/><rect x="229.7" y="117.6" width="3.0" height="3.0" fill="#f4e800" stroke="#5a4a10"/><rect x="244.3" y="110.3" width="3.0" height="3.0" fill="#f4e800" stroke="#5a4a10"/><rect x="246.4" y="89.8" width="3.0" height="3.0" fill="#f4e800" stroke="#5a4a10"/><rect x="242.8" y="109.7" width="3.0" height="3.0" fill="#f4e800" stroke="#5a4a10"/><rect x="245.0" y="89.8" width="3.0" height="3.0" fill="#f4e800" stroke="#5a4a10"/><rect x="243.7" y="71.4" width="3.0" height="3.0" fill="#f4e800" stroke="#5a4a10"/><rect x="232.3" y="93.3" width="3.0" height="3.0" fill="#f4e800" stroke="#5a4a10"/><rect x="241.2" y="101.8" width="3.0" height="3.0" fill="#f4e800" stroke="#5a4a10"/><rect x="229.0" y="119.5" width="3.0" height="3.0" fill="#f4e800" stroke="#5a4a10"/><rect x="242.0" y="86.1" width="3.0" height="3.0" fill="#f4e800" stroke="#5a4a10"/><rect x="241.8" y="98.8" width="3.0" height="3.0" fill="#f4e800" stroke="#5a4a10"/><rect x="238.0" y="88.9" width="3.0" height="3.0" fill="#f4e800" stroke="#5a4a10"/><rect x="243.0" y="109.4" width="3.0" height="3.0" fill="#f4e800" stroke="#5a4a10"/><rect x="240.5" y="108.1" width="3.0" height="3.0" fill="#f4e800" stroke="#5a4a10"/><rect x="229.7" y="89.6" width="3.0" height="3.0" fill="#f4e800" stroke="#5a4a10"/><rect x="233.3" y="72.9" width="3.0" height="3.0" fill="#f4e800" stroke="#5a4a10"/><rect x="229.5" y="117.3" width="3.0" height="3.0" fill="#f4e800" stroke="#5a4a10"/><rect x="238.5" y="95.4" width="3.0" height="3.0" fill="#f4e800" stroke="#5a4a10"/><rect x="251.0" y="98.7" width="3.0" height="3.0" fill="#f4e800" stroke="#5a4a10"/><rect x="246.3" y="71.7" width="3.0" height="3.0" fill="#f4e800" stroke="#5a4a10"/><rect x="239.9" y="109.3" width="3.0" height="3.0" fill="#f4e800" stroke="#5a4a10"/><rect x="223.4" y="118.7" width="3.0" height="3.0" fill="#f4e800" stroke="#5a4a10"/><rect x="226.8" y="93.4" width="3.0" height="3.0" fill="#f4e800" stroke="#5a4a10"/><rect x="227.1" y="94.8" width="3.0" height="3.0" fill="#f4e800" stroke="#5a4a10"/><rect x="240.3" y="70.7" width="3.0" height="3.0" fill="#f4e800" stroke="#5a4a10"/><rect x="250.4" y="90.6" width="3.0" height="3.0" fill="#f4e800" stroke="#5a4a10"/><rect x="237.8" y="100.4" width="3.0" height="3.0" fill="#f4e800" stroke="#5a4a10"/><rect x="233.0" y="83.2" width="3.0" height="3.0" fill="#f4e800" stroke="#5a4a10"/><rect x="241.7" y="98.3" width="3.0" height="3.0" fill="#f4e800" stroke="#5a4a10"/><rect x="230.5" y="106.9" width="3.0" height="3.0" fill="#f4e800" stroke="#5a4a10"/><rect x="226.7" y="109.0" width="3.0" height="3.0" fill="#f4e800" stroke="#5a4a10"/><rect x="233.7" y="116.9" width="3.0" height="3.0" fill="#f4e800" stroke="#5a4a10"/><rect x="244.5" y="70.3" width="3.0" height="3.0" fill="#f4e800" stroke="#5a4a10"/><rect x="224.2" y="117.3" width="3.0" height="3.0" fill="#f4e800" stroke="#5a4a10"/><rect x="234.9" y="93.8" width="3.0" height="3.0" fill="#f4e800" stroke="#5a4a10"/><rect x="251.2" y="80.9" width="3.0" height="3.0" fill="#f4e800" stroke="#5a4a10"/><rect x="228.8" y="90.9" width="3.0" height="3.0" fill="#5a1f86" stroke="#2a0a40"/><rect x="225.9" y="93.6" width="3.0" height="3.0" fill="#5a1f86" stroke="#2a0a40"/><rect x="225.0" y="95.8" width="3.0" height="3.0" fill="#5a1f86" stroke="#2a0a40"/><rect x="224.8" y="74.4" width="3.0" height="3.0" fill="#5a1f86" stroke="#2a0a40"/><rect x="225.1" y="84.5" width="3.0" height="3.0" fill="#5a1f86" stroke="#2a0a40"/><rect x="225.4" y="91.9" width="3.0" height="3.0" fill="#f4e800" stroke="#5a4a10"/><rect x="226.8" y="85.0" width="3.0" height="3.0" fill="#f4e800" stroke="#5a4a10"/><rect x="227.7" y="97.6" width="3.0" height="3.0" fill="#5a1f86" stroke="#2a0a40"/><rect x="228.5" y="86.4" width="3.0" height="3.0" fill="#5a1f86" stroke="#2a0a40"/><rect x="223.3" y="99.2" width="3.0" height="3.0" fill="#5a1f86" stroke="#2a0a40"/><rect x="262.1" y="145.4" width="3.0" height="3.0" fill="#f0661e" stroke="#6a2a10"/><rect x="240.0" y="123.2" width="3.0" height="3.0" fill="#f0661e" stroke="#6a2a10"/><rect x="207.6" y="131.3" width="3.0" height="3.0" fill="#f0661e" stroke="#6a2a10"/><rect x="256.1" y="162.5" width="3.0" height="3.0" fill="#f0661e" stroke="#6a2a10"/><rect x="251.2" y="160.1" width="3.0" height="3.0" fill="#f0661e" stroke="#6a2a10"/><rect x="181.4" y="134.1" width="3.0" height="3.0" fill="#f0661e" stroke="#6a2a10"/><rect x="199.6" y="122.7" width="3.0" height="3.0" fill="#f0661e" stroke="#6a2a10"/><rect x="269.4" y="154.0" width="3.0" height="3.0" fill="#f0661e" stroke="#6a2a10"/><rect x="273.0" y="156.1" width="3.0" height="3.0" fill="#f0661e" stroke="#6a2a10"/><rect x="144.0" y="114.5" width="3.0" height="3.0" fill="#f0661e" stroke="#6a2a10"/><rect x="202.9" y="85.4" width="3.0" height="3.0" fill="#f0661e" stroke="#6a2a10"/><rect x="202.6" y="125.7" width="3.0" height="3.0" fill="#f0661e" stroke="#6a2a10"/><rect x="235.8" y="71.6" width="3.0" height="3.0" fill="#f0661e" stroke="#6a2a10"/><rect x="267.8" y="149.7" width="3.0" height="3.0" fill="#f0661e" stroke="#6a2a10"/><rect x="225.4" y="146.6" width="3.0" height="3.0" fill="#f0661e" stroke="#6a2a10"/><rect x="262.5" y="161.5" width="3.0" height="3.0" fill="#f0661e" stroke="#6a2a10"/><rect x="268.2" y="160.9" width="3.0" height="3.0" fill="#f0661e" stroke="#6a2a10"/><rect x="273.9" y="157.9" width="3.0" height="3.0" fill="#f0661e" stroke="#6a2a10"/><rect x="141.3" y="119.8" width="3.0" height="3.0" fill="#f0661e" stroke="#6a2a10"/><rect x="128.8" y="118.1" width="3.0" height="3.0" fill="#f0661e" stroke="#6a2a10"/><rect x="248.4" y="129.3" width="3.0" height="3.0" fill="#f0661e" stroke="#6a2a10"/><rect x="234.1" y="72.5" width="3.0" height="3.0" fill="#f0661e" stroke="#6a2a10"/><rect x="238.5" y="124.2" width="3.0" height="3.0" fill="#f0661e" stroke="#6a2a10"/><rect x="131.6" y="118.9" width="3.0" height="3.0" fill="#f0661e" stroke="#6a2a10"/><rect x="270.3" y="155.5" width="3.0" height="3.0" fill="#f0661e" stroke="#6a2a10"/><rect x="221.4" y="141.7" width="3.0" height="3.0" fill="#f0661e" stroke="#6a2a10"/><rect x="197.5" y="128.2" width="3.0" height="3.0" fill="#f0661e" stroke="#6a2a10"/><rect x="241.5" y="156.9" width="3.0" height="3.0" fill="#f0661e" stroke="#6a2a10"/><rect x="159.0" y="142.6" width="3.0" height="3.0" fill="#f0661e" stroke="#6a2a10"/><rect x="266.1" y="152.1" width="3.0" height="3.0" fill="#f0661e" stroke="#6a2a10"/><rect x="172.0" y="104.0" width="3.0" height="3.0" fill="#f0661e" stroke="#6a2a10"/><rect x="158.3" y="137.1" width="3.0" height="3.0" fill="#f0661e" stroke="#6a2a10"/><rect x="182.1" y="129.4" width="3.0" height="3.0" fill="#f0661e" stroke="#6a2a10"/><rect x="272.4" y="159.7" width="3.0" height="3.0" fill="#f0661e" stroke="#6a2a10"/><rect x="215.9" y="136.5" width="3.0" height="3.0" fill="#f0661e" stroke="#6a2a10"/><rect x="232.3" y="151.7" width="3.0" height="3.0" fill="#f0661e" stroke="#6a2a10"/><rect x="151.5" y="115.0" width="3.0" height="3.0" fill="#f0661e" stroke="#6a2a10"/></g><rect x="39.8" y="28.4" width="29" height="32.2" fill="#fff" stroke="#444" stroke-width="0.9"/><text x="54.4" y="53.5" font-size="29.5" text-anchor="middle" fill="#000">A</text><rect x="281.3" y="29.3" width="38.6" height="47.1" fill="#fff" stroke="#9a9a9a" stroke-width="0.8"/><text x="300.2" y="40" font-size="9.5" font-weight="bold" text-anchor="middle" fill="#111">Facies</text><rect x="284.5" y="45.7" width="14.2" height="4.9" fill="#a8a4a0" stroke="#8a8a8a" stroke-width="0.5"/><text x="303.2" y="50.7" font-size="7" fill="#222">1</text><rect x="284.5" y="52.77" width="14.2" height="4.9" fill="#f5ea00" stroke="#8a8a8a" stroke-width="0.5"/><text x="303.2" y="57.77" font-size="7" fill="#222">2</text><rect x="284.5" y="59.84" width="14.2" height="4.9" fill="#f26a22" stroke="#8a8a8a" stroke-width="0.5"/><text x="303.2" y="64.84" font-size="7" fill="#222">3</text><rect x="284.5" y="66.91" width="14.2" height="4.9" fill="#5b1f84" stroke="#8a8a8a" stroke-width="0.5"/><text x="303.2" y="71.91" font-size="7" fill="#222">4</text><rect x="15.8" y="258.9" width="328.5" height="218.5" fill="none" stroke="#7e7474" stroke-width="0.9"/><path d="M16.42 258.9v-0.9M16.42 477.4v0.9M18.33 258.9v-1.6M18.33 477.4v1.6M20.25 258.9v-0.9M20.25 477.4v0.9M22.16 258.9v-0.9M22.16 477.4v0.9M24.07 258.9v-0.9M24.07 477.4v0.9M25.99 258.9v-0.9M25.99 477.4v0.9M27.9 258.9v-2.2M27.9 477.4v2.2M29.81 258.9v-0.9M29.81 477.4v0.9M31.73 258.9v-0.9M31.73 477.4v0.9M33.64 258.9v-0.9M33.64 477.4v0.9M35.55 258.9v-0.9M35.55 477.4v0.9M37.47 258.9v-1.6M37.47 477.4v1.6M39.38 258.9v-0.9M39.38 477.4v0.9M41.29 258.9v-0.9M41.29 477.4v0.9M43.2 258.9v-0.9M43.2 477.4v0.9M45.12 258.9v-0.9M45.12 477.4v0.9M47.03 258.9v-2.2M47.03 477.4v2.2M48.94 258.9v-0.9M48.94 477.4v0.9M50.86 258.9v-0.9M50.86 477.4v0.9M52.77 258.9v-0.9M52.77 477.4v0.9M54.68 258.9v-0.9M54.68 477.4v0.9M56.6 258.9v-1.6M56.6 477.4v1.6M58.51 258.9v-0.9M58.51 477.4v0.9M60.42 258.9v-0.9M60.42 477.4v0.9M62.34 258.9v-0.9M62.34 477.4v0.9M64.25 258.9v-0.9M64.25 477.4v0.9M66.16 258.9v-2.2M66.16 477.4v2.2M68.08 258.9v-0.9M68.08 477.4v0.9M69.99 258.9v-0.9M69.99 477.4v0.9M71.9 258.9v-0.9M71.9 477.4v0.9M73.82 258.9v-0.9M73.82 477.4v0.9M75.73 258.9v-1.6M75.73 477.4v1.6M77.64 258.9v-0.9M77.64 477.4v0.9M79.55 258.9v-0.9M79.55 477.4v0.9M81.47 258.9v-0.9M81.47 477.4v0.9M83.38 258.9v-0.9M83.38 477.4v0.9M85.29 258.9v-2.2M85.29 477.4v2.2M87.21 258.9v-0.9M87.21 477.4v0.9M89.12 258.9v-0.9M89.12 477.4v0.9M91.03 258.9v-0.9M91.03 477.4v0.9M92.95 258.9v-0.9M92.95 477.4v0.9M94.86 258.9v-1.6M94.86 477.4v1.6M96.77 258.9v-0.9M96.77 477.4v0.9M98.69 258.9v-0.9M98.69 477.4v0.9M100.6 258.9v-0.9M100.6 477.4v0.9M102.51 258.9v-0.9M102.51 477.4v0.9M104.43 258.9v-2.2M104.43 477.4v2.2M106.34 258.9v-0.9M106.34 477.4v0.9M108.25 258.9v-0.9M108.25 477.4v0.9M110.16 258.9v-0.9M110.16 477.4v0.9M112.08 258.9v-0.9M112.08 477.4v0.9M113.99 258.9v-1.6M113.99 477.4v1.6M115.9 258.9v-0.9M115.9 477.4v0.9M117.82 258.9v-0.9M117.82 477.4v0.9M119.73 258.9v-0.9M119.73 477.4v0.9M121.64 258.9v-0.9M121.64 477.4v0.9M123.56 258.9v-2.2M123.56 477.4v2.2M125.47 258.9v-0.9M125.47 477.4v0.9M127.38 258.9v-0.9M127.38 477.4v0.9M129.3 258.9v-0.9M129.3 477.4v0.9M131.21 258.9v-0.9M131.21 477.4v0.9M133.12 258.9v-1.6M133.12 477.4v1.6M135.03 258.9v-0.9M135.03 477.4v0.9M136.95 258.9v-0.9M136.95 477.4v0.9M138.86 258.9v-0.9M138.86 477.4v0.9M140.77 258.9v-0.9M140.77 477.4v0.9M142.69 258.9v-2.2M142.69 477.4v2.2M144.6 258.9v-0.9M144.6 477.4v0.9M146.51 258.9v-0.9M146.51 477.4v0.9M148.43 258.9v-0.9M148.43 477.4v0.9M150.34 258.9v-0.9M150.34 477.4v0.9M152.25 258.9v-1.6M152.25 477.4v1.6M154.17 258.9v-0.9M154.17 477.4v0.9M156.08 258.9v-0.9M156.08 477.4v0.9M157.99 258.9v-0.9M157.99 477.4v0.9M159.91 258.9v-0.9M159.91 477.4v0.9M161.82 258.9v-2.2M161.82 477.4v2.2M163.73 258.9v-0.9M163.73 477.4v0.9M165.65 258.9v-0.9M165.65 477.4v0.9M167.56 258.9v-0.9M167.56 477.4v0.9M169.47 258.9v-0.9M169.47 477.4v0.9M171.38 258.9v-1.6M171.38 477.4v1.6M173.3 258.9v-0.9M173.3 477.4v0.9M175.21 258.9v-0.9M175.21 477.4v0.9M177.12 258.9v-0.9M177.12 477.4v0.9M179.04 258.9v-0.9M179.04 477.4v0.9M180.95 258.9v-2.2M180.95 477.4v2.2M182.86 258.9v-0.9M182.86 477.4v0.9M184.78 258.9v-0.9M184.78 477.4v0.9M186.69 258.9v-0.9M186.69 477.4v0.9M188.6 258.9v-0.9M188.6 477.4v0.9M190.52 258.9v-1.6M190.52 477.4v1.6M192.43 258.9v-0.9M192.43 477.4v0.9M194.34 258.9v-0.9M194.34 477.4v0.9M196.26 258.9v-0.9M196.26 477.4v0.9M198.17 258.9v-0.9M198.17 477.4v0.9M200.08 258.9v-2.2M200.08 477.4v2.2M201.99 258.9v-0.9M201.99 477.4v0.9M203.91 258.9v-0.9M203.91 477.4v0.9M205.82 258.9v-0.9M205.82 477.4v0.9M207.73 258.9v-0.9M207.73 477.4v0.9M209.65 258.9v-1.6M209.65 477.4v1.6M211.56 258.9v-0.9M211.56 477.4v0.9M213.47 258.9v-0.9M213.47 477.4v0.9M215.39 258.9v-0.9M215.39 477.4v0.9M217.3 258.9v-0.9M217.3 477.4v0.9M219.21 258.9v-2.2M219.21 477.4v2.2M221.13 258.9v-0.9M221.13 477.4v0.9M223.04 258.9v-0.9M223.04 477.4v0.9M224.95 258.9v-0.9M224.95 477.4v0.9M226.86 258.9v-0.9M226.86 477.4v0.9M228.78 258.9v-1.6M228.78 477.4v1.6M230.69 258.9v-0.9M230.69 477.4v0.9M232.6 258.9v-0.9M232.6 477.4v0.9M234.52 258.9v-0.9M234.52 477.4v0.9M236.43 258.9v-0.9M236.43 477.4v0.9M238.34 258.9v-2.2M238.34 477.4v2.2M240.26 258.9v-0.9M240.26 477.4v0.9M242.17 258.9v-0.9M242.17 477.4v0.9M244.08 258.9v-0.9M244.08 477.4v0.9M246 258.9v-0.9M246 477.4v0.9M247.91 258.9v-1.6M247.91 477.4v1.6M249.82 258.9v-0.9M249.82 477.4v0.9M251.74 258.9v-0.9M251.74 477.4v0.9M253.65 258.9v-0.9M253.65 477.4v0.9M255.56 258.9v-0.9M255.56 477.4v0.9M257.48 258.9v-2.2M257.48 477.4v2.2M259.39 258.9v-0.9M259.39 477.4v0.9M261.3 258.9v-0.9M261.3 477.4v0.9M263.21 258.9v-0.9M263.21 477.4v0.9M265.13 258.9v-0.9M265.13 477.4v0.9M267.04 258.9v-1.6M267.04 477.4v1.6M268.95 258.9v-0.9M268.95 477.4v0.9M270.87 258.9v-0.9M270.87 477.4v0.9M272.78 258.9v-0.9M272.78 477.4v0.9M274.69 258.9v-0.9M274.69 477.4v0.9M276.61 258.9v-2.2M276.61 477.4v2.2M278.52 258.9v-0.9M278.52 477.4v0.9M280.43 258.9v-0.9M280.43 477.4v0.9M282.35 258.9v-0.9M282.35 477.4v0.9M284.26 258.9v-0.9M284.26 477.4v0.9M286.17 258.9v-1.6M286.17 477.4v1.6M288.09 258.9v-0.9M288.09 477.4v0.9M290 258.9v-0.9M290 477.4v0.9M291.91 258.9v-0.9M291.91 477.4v0.9M293.82 258.9v-0.9M293.82 477.4v0.9M295.74 258.9v-2.2M295.74 477.4v2.2M297.65 258.9v-0.9M297.65 477.4v0.9M299.56 258.9v-0.9M299.56 477.4v0.9M301.48 258.9v-0.9M301.48 477.4v0.9M303.39 258.9v-0.9M303.39 477.4v0.9M305.3 258.9v-1.6M305.3 477.4v1.6M307.22 258.9v-0.9M307.22 477.4v0.9M309.13 258.9v-0.9M309.13 477.4v0.9M311.04 258.9v-0.9M311.04 477.4v0.9M312.96 258.9v-0.9M312.96 477.4v0.9M314.87 258.9v-2.2M314.87 477.4v2.2M316.78 258.9v-0.9M316.78 477.4v0.9M318.69 258.9v-0.9M318.69 477.4v0.9M320.61 258.9v-0.9M320.61 477.4v0.9M322.52 258.9v-0.9M322.52 477.4v0.9M324.43 258.9v-1.6M324.43 477.4v1.6M326.35 258.9v-0.9M326.35 477.4v0.9M328.26 258.9v-0.9M328.26 477.4v0.9M330.17 258.9v-0.9M330.17 477.4v0.9M332.09 258.9v-0.9M332.09 477.4v0.9M334 258.9v-2.2M334 477.4v2.2M335.91 258.9v-0.9M335.91 477.4v0.9M337.83 258.9v-0.9M337.83 477.4v0.9M339.74 258.9v-0.9M339.74 477.4v0.9M341.65 258.9v-0.9M341.65 477.4v0.9M343.57 258.9v-1.6M343.57 477.4v1.6M15.8 476.25h-0.9M344.3 476.25h0.9M15.8 472.8h-2.2M344.3 472.8h2.2M15.8 469.34h-0.9M344.3 469.34h0.9M15.8 465.89h-0.9M344.3 465.89h0.9M15.8 462.43h-0.9M344.3 462.43h0.9M15.8 458.98h-0.9M344.3 458.98h0.9M15.8 455.52h-2.2M344.3 455.52h2.2M15.8 452.07h-0.9M344.3 452.07h0.9M15.8 448.61h-0.9M344.3 448.61h0.9M15.8 445.16h-0.9M344.3 445.16h0.9M15.8 441.7h-0.9M344.3 441.7h0.9M15.8 438.25h-2.2M344.3 438.25h2.2M15.8 434.79h-0.9M344.3 434.79h0.9M15.8 431.34h-0.9M344.3 431.34h0.9M15.8 427.88h-0.9M344.3 427.88h0.9M15.8 424.43h-0.9M344.3 424.43h0.9M15.8 420.97h-2.2M344.3 420.97h2.2M15.8 417.52h-0.9M344.3 417.52h0.9M15.8 414.06h-0.9M344.3 414.06h0.9M15.8 410.61h-0.9M344.3 410.61h0.9M15.8 407.15h-0.9M344.3 407.15h0.9M15.8 403.7h-2.2M344.3 403.7h2.2M15.8 400.25h-0.9M344.3 400.25h0.9M15.8 396.79h-0.9M344.3 396.79h0.9M15.8 393.33h-0.9M344.3 393.33h0.9M15.8 389.88h-0.9M344.3 389.88h0.9M15.8 386.42h-2.2M344.3 386.42h2.2M15.8 382.97h-0.9M344.3 382.97h0.9M15.8 379.51h-0.9M344.3 379.51h0.9M15.8 376.06h-0.9M344.3 376.06h0.9M15.8 372.6h-0.9M344.3 372.6h0.9M15.8 369.15h-2.2M344.3 369.15h2.2M15.8 365.69h-0.9M344.3 365.69h0.9M15.8 362.24h-0.9M344.3 362.24h0.9M15.8 358.78h-0.9M344.3 358.78h0.9M15.8 355.33h-0.9M344.3 355.33h0.9M15.8 351.87h-2.2M344.3 351.87h2.2M15.8 348.42h-0.9M344.3 348.42h0.9M15.8 344.96h-0.9M344.3 344.96h0.9M15.8 341.51h-0.9M344.3 341.51h0.9M15.8 338.05h-0.9M344.3 338.05h0.9M15.8 334.6h-2.2M344.3 334.6h2.2M15.8 331.14h-0.9M344.3 331.14h0.9M15.8 327.69h-0.9M344.3 327.69h0.9M15.8 324.23h-0.9M344.3 324.23h0.9M15.8 320.78h-0.9M344.3 320.78h0.9M15.8 317.32h-2.2M344.3 317.32h2.2M15.8 313.87h-0.9M344.3 313.87h0.9M15.8 310.41h-0.9M344.3 310.41h0.9M15.8 306.96h-0.9M344.3 306.96h0.9M15.8 303.5h-0.9M344.3 303.5h0.9M15.8 300.05h-2.2M344.3 300.05h2.2M15.8 296.59h-0.9M344.3 296.59h0.9M15.8 293.14h-0.9M344.3 293.14h0.9M15.8 289.68h-0.9M344.3 289.68h0.9M15.8 286.23h-0.9M344.3 286.23h0.9M15.8 282.77h-2.2M344.3 282.77h2.2M15.8 279.32h-0.9M344.3 279.32h0.9M15.8 275.86h-0.9M344.3 275.86h0.9M15.8 272.41h-0.9M344.3 272.41h0.9M15.8 268.95h-0.9M344.3 268.95h0.9M15.8 265.5h-2.2M344.3 265.5h2.2M15.8 262.04h-0.9M344.3 262.04h0.9" stroke="#7e7474" stroke-width="0.6" fill="none"/><g font-size="4.6" fill="#664444" text-anchor="middle" font-family="Liberation Sans, sans-serif"><text x="27.9" y="256.3">7</text><text x="27.9" y="482.8">7</text><text x="47.03" y="256.3">8</text><text x="47.03" y="482.8">8</text><text x="66.16" y="256.3">9</text><text x="66.16" y="482.8">9</text><text x="85.29" y="256.3">10</text><text x="85.29" y="482.8">10</text><text x="104.43" y="256.3">11</text><text x="104.43" y="482.8">11</text><text x="123.56" y="256.3">12</text><text x="123.56" y="482.8">12</text><text x="142.69" y="256.3">13</text><text x="142.69" y="482.8">13</text><text x="161.82" y="256.3">14</text><text x="161.82" y="482.8">14</text><text x="180.95" y="256.3">15</text><text x="180.95" y="482.8">15</text><text x="200.08" y="256.3">16</text><text x="200.08" y="482.8">16</text><text x="219.21" y="256.3">17</text><text x="219.21" y="482.8">17</text><text x="238.34" y="256.3">18</text><text x="238.34" y="482.8">18</text><text x="257.48" y="256.3">19</text><text x="257.48" y="482.8">19</text><text x="276.61" y="256.3">20</text><text x="276.61" y="482.8">20</text><text x="295.74" y="256.3">21</text><text x="295.74" y="482.8">21</text><text x="314.87" y="256.3">22</text><text x="314.87" y="482.8">22</text><text x="334" y="256.3">23</text><text x="334" y="482.8">23</text><text transform="translate(12.6 265.5) rotate(-90)">2.05</text><text transform="translate(347.5 265.5) rotate(90)">2.05</text><text transform="translate(12.6 282.78) rotate(-90)">2</text><text transform="translate(347.5 282.78) rotate(90)">2</text><text transform="translate(12.6 300.05) rotate(-90)">1.95</text><text transform="translate(347.5 300.05) rotate(90)">1.95</text><text transform="translate(12.6 317.32) rotate(-90)">1.9</text><text transform="translate(347.5 317.32) rotate(90)">1.9</text><text transform="translate(12.6 334.6) rotate(-90)">1.85</text><text transform="translate(347.5 334.6) rotate(90)">1.85</text><text transform="translate(12.6 351.88) rotate(-90)">1.8</text><text transform="translate(347.5 351.88) rotate(90)">1.8</text><text transform="translate(12.6 369.15) rotate(-90)">1.75</text><text transform="translate(347.5 369.15) rotate(90)">1.75</text><text transform="translate(12.6 386.43) rotate(-90)">1.7</text><text transform="translate(347.5 386.43) rotate(90)">1.7</text><text transform="translate(12.6 403.7) rotate(-90)">1.65</text><text transform="translate(347.5 403.7) rotate(90)">1.65</text><text transform="translate(12.6 420.98) rotate(-90)">1.6</text><text transform="translate(347.5 420.98) rotate(90)">1.6</text><text transform="translate(12.6 438.25) rotate(-90)">1.55</text><text transform="translate(347.5 438.25) rotate(90)">1.55</text><text transform="translate(12.6 455.53) rotate(-90)">1.5</text><text transform="translate(347.5 455.53) rotate(90)">1.5</text><text transform="translate(12.6 472.8) rotate(-90)">1.45</text><text transform="translate(347.5 472.8) rotate(90)">1.45</text></g><text x="179.04" y="489.8" font-size="7.2" font-style="italic" fill="#111" text-anchor="middle">AI, [kPa.s/m]</text><text transform="translate(6.7 367.65) rotate(-90)" font-size="7" font-style="italic" fill="#111" text-anchor="middle">VpVs</text><g stroke-width="0.6"><rect x="141.5" y="341.9" width="3.0" height="3.0" fill="#e6401e" stroke="#5a1a0a"/><rect x="156.7" y="400.1" width="3.0" height="3.0" fill="#e6401e" stroke="#5a1a0a"/><rect x="137.4" y="337.9" width="3.0" height="3.0" fill="#e6401e" stroke="#5a1a0a"/><rect x="200.3" y="316.1" width="3.0" height="3.0" fill="#e6401e" stroke="#5a1a0a"/><rect x="193.1" y="369.7" width="3.0" height="3.0" fill="#f6ea00" stroke="#5a4a10"/><rect x="168.1" y="345.6" width="3.0" height="3.0" fill="#e6401e" stroke="#5a1a0a"/><rect x="175.2" y="376.1" width="3.0" height="3.0" fill="#ee5a1e" stroke="#5a200a"/><rect x="190.4" y="359.9" width="3.0" height="3.0" fill="#f6ea00" stroke="#5a4a10"/><rect x="264.5" y="394.6" width="3.0" height="3.0" fill="#ee5a1e" stroke="#5a200a"/><rect x="167.6" y="395.2" width="3.0" height="3.0" fill="#f6ea00" stroke="#5a4a10"/><rect x="137.2" y="379.4" width="3.0" height="3.0" fill="#e6401e" stroke="#5a1a0a"/><rect x="141.5" y="332.3" width="3.0" height="3.0" fill="#ee5a1e" stroke="#5a200a"/><rect x="215.7" y="387.3" width="3.0" height="3.0" fill="#ee5a1e" stroke="#5a200a"/><rect x="151.1" y="363.2" width="3.0" height="3.0" fill="#f28a1a" stroke="#5a300a"/><rect x="112.3" y="407.9" width="3.0" height="3.0" fill="#ee5a1e" stroke="#5a200a"/><rect x="146.8" y="345.3" width="3.0" height="3.0" fill="#ee5a1e" stroke="#5a200a"/><rect x="196.3" y="363.3" width="3.0" height="3.0" fill="#f6ea00" stroke="#5a4a10"/><rect x="126.1" y="396.7" width="3.0" height="3.0" fill="#f6b414" stroke="#5a400a"/><rect x="166.6" y="362.9" width="3.0" height="3.0" fill="#f6b414" stroke="#5a400a"/><rect x="75.4" y="414.4" width="3.0" height="3.0" fill="#e6401e" stroke="#5a1a0a"/><rect x="159.3" y="379.8" width="3.0" height="3.0" fill="#ee5a1e" stroke="#5a200a"/><rect x="108.2" y="353.6" width="3.0" height="3.0" fill="#e6401e" stroke="#5a1a0a"/><rect x="152.2" y="370.3" width="3.0" height="3.0" fill="#e6401e" stroke="#5a1a0a"/><rect x="273.8" y="408.7" width="3.0" height="3.0" fill="#ee5a1e" stroke="#5a200a"/><rect x="178.2" y="348.7" width="3.0" height="3.0" fill="#e6401e" stroke="#5a1a0a"/><rect x="206.0" y="369.9" width="3.0" height="3.0" fill="#f6ea00" stroke="#5a4a10"/><rect x="167.1" y="353.3" width="3.0" height="3.0" fill="#f28a1a" stroke="#5a300a"/><rect x="261.2" y="407.7" width="3.0" height="3.0" fill="#e6401e" stroke="#5a1a0a"/><rect x="164.0" y="338.9" width="3.0" height="3.0" fill="#e6401e" stroke="#5a1a0a"/><rect x="248.7" y="406.0" width="3.0" height="3.0" fill="#f28a1a" stroke="#5a300a"/><rect x="158.2" y="390.1" width="3.0" height="3.0" fill="#ee5a1e" stroke="#5a200a"/><rect x="196.5" y="356.9" width="3.0" height="3.0" fill="#f6ea00" stroke="#5a4a10"/><rect x="159.5" y="349.7" width="3.0" height="3.0" fill="#ee5a1e" stroke="#5a200a"/><rect x="179.9" y="405.5" width="3.0" height="3.0" fill="#e6401e" stroke="#5a1a0a"/><rect x="176.8" y="348.1" width="3.0" height="3.0" fill="#ee5a1e" stroke="#5a200a"/><rect x="145.0" y="329.0" width="3.0" height="3.0" fill="#e6401e" stroke="#5a1a0a"/><rect x="161.3" y="316.4" width="3.0" height="3.0" fill="#ee5a1e" stroke="#5a200a"/><rect x="132.7" y="347.6" width="3.0" height="3.0" fill="#f6b414" stroke="#5a400a"/><rect x="172.1" y="420.4" width="3.0" height="3.0" fill="#e6401e" stroke="#5a1a0a"/><rect x="150.7" y="414.4" width="3.0" height="3.0" fill="#ee5a1e" stroke="#5a200a"/><rect x="179.2" y="412.2" width="3.0" height="3.0" fill="#ee5a1e" stroke="#5a200a"/><rect x="135.6" y="370.1" width="3.0" height="3.0" fill="#f6b414" stroke="#5a400a"/><rect x="184.2" y="373.7" width="3.0" height="3.0" fill="#f6b414" stroke="#5a400a"/><rect x="49.8" y="388.7" width="3.0" height="3.0" fill="#e6401e" stroke="#5a1a0a"/><rect x="178.5" y="347.3" width="3.0" height="3.0" fill="#e6401e" stroke="#5a1a0a"/><rect x="192.9" y="319.3" width="3.0" height="3.0" fill="#ee5a1e" stroke="#5a200a"/><rect x="195.2" y="378.5" width="3.0" height="3.0" fill="#f6b414" stroke="#5a400a"/><rect x="134.4" y="377.8" width="3.0" height="3.0" fill="#f28a1a" stroke="#5a300a"/><rect x="136.0" y="364.1" width="3.0" height="3.0" fill="#f28a1a" stroke="#5a300a"/><rect x="170.1" y="353.8" width="3.0" height="3.0" fill="#ee5a1e" stroke="#5a200a"/><rect x="58.9" y="346.4" width="3.0" height="3.0" fill="#ee5a1e" stroke="#5a200a"/><rect x="202.0" y="344.5" width="3.0" height="3.0" fill="#e6401e" stroke="#5a1a0a"/><rect x="196.0" y="377.6" width="3.0" height="3.0" fill="#f6ea00" stroke="#5a4a10"/><rect x="205.1" y="342.2" width="3.0" height="3.0" fill="#ee5a1e" stroke="#5a200a"/><rect x="136.1" y="332.8" width="3.0" height="3.0" fill="#ee5a1e" stroke="#5a200a"/><rect x="131.9" y="356.1" width="3.0" height="3.0" fill="#ee5a1e" stroke="#5a200a"/><rect x="176.2" y="355.9" width="3.0" height="3.0" fill="#f28a1a" stroke="#5a300a"/><rect x="198.5" y="344.8" width="3.0" height="3.0" fill="#e6401e" stroke="#5a1a0a"/><rect x="173.7" y="417.6" width="3.0" height="3.0" fill="#e6401e" stroke="#5a1a0a"/><rect x="139.8" y="328.2" width="3.0" height="3.0" fill="#f28a1a" stroke="#5a300a"/><rect x="115.0" y="339.1" width="3.0" height="3.0" fill="#e6401e" stroke="#5a1a0a"/><rect x="219.3" y="292.3" width="3.0" height="3.0" fill="#4a2286" stroke="#1a0a30"/><rect x="138.6" y="341.1" width="3.0" height="3.0" fill="#ee5a1e" stroke="#5a200a"/><rect x="147.6" y="390.4" width="3.0" height="3.0" fill="#f6ea00" stroke="#5a4a10"/><rect x="154.3" y="364.7" width="3.0" height="3.0" fill="#e6401e" stroke="#5a1a0a"/><rect x="85.8" y="377.2" width="3.0" height="3.0" fill="#e6401e" stroke="#5a1a0a"/><rect x="127.1" y="354.4" width="3.0" height="3.0" fill="#ee5a1e" stroke="#5a200a"/><rect x="164.0" y="392.2" width="3.0" height="3.0" fill="#ee5a1e" stroke="#5a200a"/><rect x="119.4" y="344.8" width="3.0" height="3.0" fill="#ee5a1e" stroke="#5a200a"/><rect x="150.0" y="322.6" width="3.0" height="3.0" fill="#ee5a1e" stroke="#5a200a"/><rect x="159.3" y="320.6" width="3.0" height="3.0" fill="#ee5a1e" stroke="#5a200a"/><rect x="138.7" y="374.5" width="3.0" height="3.0" fill="#f28a1a" stroke="#5a300a"/><rect x="186.6" y="356.8" width="3.0" height="3.0" fill="#f6ea00" stroke="#5a4a10"/><rect x="161.0" y="343.6" width="3.0" height="3.0" fill="#e6401e" stroke="#5a1a0a"/><rect x="169.5" y="410.7" width="3.0" height="3.0" fill="#e6401e" stroke="#5a1a0a"/><rect x="131.9" y="358.9" width="3.0" height="3.0" fill="#e6401e" stroke="#5a1a0a"/><rect x="155.7" y="384.4" width="3.0" height="3.0" fill="#f6ea00" stroke="#5a4a10"/><rect x="119.4" y="378.2" width="3.0" height="3.0" fill="#e6401e" stroke="#5a1a0a"/><rect x="184.6" y="370.5" width="3.0" height="3.0" fill="#f6ea00" stroke="#5a4a10"/><rect x="184.6" y="364.1" width="3.0" height="3.0" fill="#f6ea00" stroke="#5a4a10"/><rect x="116.2" y="353.6" width="3.0" height="3.0" fill="#e6401e" stroke="#5a1a0a"/><rect x="146.4" y="310.4" width="3.0" height="3.0" fill="#e6401e" stroke="#5a1a0a"/><rect x="181.8" y="380.2" width="3.0" height="3.0" fill="#f28a1a" stroke="#5a300a"/><rect x="180.1" y="371.1" width="3.0" height="3.0" fill="#f6b414" stroke="#5a400a"/><rect x="141.0" y="355.6" width="3.0" height="3.0" fill="#e6401e" stroke="#5a1a0a"/><rect x="201.5" y="339.6" width="3.0" height="3.0" fill="#e6401e" stroke="#5a1a0a"/><rect x="77.9" y="345.2" width="3.0" height="3.0" fill="#ee5a1e" stroke="#5a200a"/><rect x="207.5" y="439.7" width="3.0" height="3.0" fill="#f28a1a" stroke="#5a300a"/><rect x="57.6" y="383.5" width="3.0" height="3.0" fill="#e6401e" stroke="#5a1a0a"/><rect x="113.2" y="334.2" width="3.0" height="3.0" fill="#e6401e" stroke="#5a1a0a"/><rect x="191.0" y="340.0" width="3.0" height="3.0" fill="#e6401e" stroke="#5a1a0a"/><rect x="169.0" y="340.3" width="3.0" height="3.0" fill="#e6401e" stroke="#5a1a0a"/><rect x="123.9" y="400.1" width="3.0" height="3.0" fill="#ee5a1e" stroke="#5a200a"/><rect x="111.2" y="369.3" width="3.0" height="3.0" fill="#ee5a1e" stroke="#5a200a"/><rect x="156.9" y="338.7" width="3.0" height="3.0" fill="#e6401e" stroke="#5a1a0a"/><rect x="168.3" y="418.8" width="3.0" height="3.0" fill="#e6401e" stroke="#5a1a0a"/><rect x="183.5" y="401.3" width="3.0" height="3.0" fill="#ee5a1e" stroke="#5a200a"/><rect x="270.2" y="406.3" width="3.0" height="3.0" fill="#ee5a1e" stroke="#5a200a"/><rect x="163.3" y="346.8" width="3.0" height="3.0" fill="#e6401e" stroke="#5a1a0a"/><rect x="127.6" y="350.8" width="3.0" height="3.0" fill="#f28a1a" stroke="#5a300a"/><rect x="143.4" y="306.1" width="3.0" height="3.0" fill="#e6401e" stroke="#5a1a0a"/><rect x="108.8" y="406.7" width="3.0" height="3.0" fill="#ee5a1e" stroke="#5a200a"/><rect x="204.6" y="354.4" width="3.0" height="3.0" fill="#ee5a1e" stroke="#5a200a"/><rect x="88.8" y="371.1" width="3.0" height="3.0" fill="#e6401e" stroke="#5a1a0a"/><rect x="19.4" y="412.3" width="3.0" height="3.0" fill="#ee5a1e" stroke="#5a200a"/><rect x="140.4" y="347.4" width="3.0" height="3.0" fill="#f6ea00" stroke="#5a4a10"/><rect x="104.6" y="348.8" width="3.0" height="3.0" fill="#ee5a1e" stroke="#5a200a"/><rect x="154.2" y="348.3" width="3.0" height="3.0" fill="#e6401e" stroke="#5a1a0a"/><rect x="155.5" y="386.1" width="3.0" height="3.0" fill="#f6b414" stroke="#5a400a"/><rect x="136.0" y="405.5" width="3.0" height="3.0" fill="#f28a1a" stroke="#5a300a"/><rect x="92.4" y="392.2" width="3.0" height="3.0" fill="#e6401e" stroke="#5a1a0a"/><rect x="137.2" y="407.3" width="3.0" height="3.0" fill="#e6401e" stroke="#5a1a0a"/><rect x="167.8" y="348.3" width="3.0" height="3.0" fill="#f6ea00" stroke="#5a4a10"/><rect x="204.7" y="369.0" width="3.0" height="3.0" fill="#f6ea00" stroke="#5a4a10"/><rect x="172.1" y="319.5" width="3.0" height="3.0" fill="#f28a1a" stroke="#5a300a"/><rect x="99.7" y="371.1" width="3.0" height="3.0" fill="#e6401e" stroke="#5a1a0a"/><rect x="154.2" y="345.3" width="3.0" height="3.0" fill="#ee5a1e" stroke="#5a200a"/><rect x="142.1" y="386.1" width="3.0" height="3.0" fill="#ee5a1e" stroke="#5a200a"/><rect x="195.3" y="351.4" width="3.0" height="3.0" fill="#e6401e" stroke="#5a1a0a"/><rect x="120.0" y="350.5" width="3.0" height="3.0" fill="#e6401e" stroke="#5a1a0a"/><rect x="136.3" y="351.3" width="3.0" height="3.0" fill="#f28a1a" stroke="#5a300a"/><rect x="199.6" y="361.7" width="3.0" height="3.0" fill="#f6ea00" stroke="#5a4a10"/><rect x="151.3" y="336.3" width="3.0" height="3.0" fill="#ee5a1e" stroke="#5a200a"/><rect x="114.2" y="353.6" width="3.0" height="3.0" fill="#e6401e" stroke="#5a1a0a"/><rect x="195.8" y="312.5" width="3.0" height="3.0" fill="#e6401e" stroke="#5a1a0a"/><rect x="268.1" y="411.7" width="3.0" height="3.0" fill="#ee5a1e" stroke="#5a200a"/><rect x="101.5" y="388.7" width="3.0" height="3.0" fill="#e6401e" stroke="#5a1a0a"/><rect x="79.1" y="355.8" width="3.0" height="3.0" fill="#e6401e" stroke="#5a1a0a"/><rect x="152.5" y="393.2" width="3.0" height="3.0" fill="#f6b414" stroke="#5a400a"/><rect x="181.3" y="354.9" width="3.0" height="3.0" fill="#f28a1a" stroke="#5a300a"/><rect x="176.3" y="311.2" width="3.0" height="3.0" fill="#e6401e" stroke="#5a1a0a"/><rect x="151.9" y="385.5" width="3.0" height="3.0" fill="#f6ea00" stroke="#5a4a10"/><rect x="201.2" y="363.3" width="3.0" height="3.0" fill="#f6ea00" stroke="#5a4a10"/><rect x="181.0" y="363.0" width="3.0" height="3.0" fill="#f6ea00" stroke="#5a4a10"/><rect x="163.8" y="407.3" width="3.0" height="3.0" fill="#ee5a1e" stroke="#5a200a"/><rect x="266.0" y="402.9" width="3.0" height="3.0" fill="#ee5a1e" stroke="#5a200a"/><rect x="221.2" y="385.5" width="3.0" height="3.0" fill="#4a2286" stroke="#1a0a30"/><rect x="108.2" y="357.5" width="3.0" height="3.0" fill="#e6401e" stroke="#5a1a0a"/><rect x="178.0" y="366.6" width="3.0" height="3.0" fill="#f28a1a" stroke="#5a300a"/><rect x="221.0" y="287.9" width="3.0" height="3.0" fill="#4a2286" stroke="#1a0a30"/><rect x="272.9" y="406.9" width="3.0" height="3.0" fill="#ee5a1e" stroke="#5a200a"/><rect x="185.3" y="405.5" width="3.0" height="3.0" fill="#e6401e" stroke="#5a1a0a"/><rect x="167.2" y="358.9" width="3.0" height="3.0" fill="#ee5a1e" stroke="#5a200a"/><rect x="136.8" y="334.7" width="3.0" height="3.0" fill="#e6401e" stroke="#5a1a0a"/><rect x="126.8" y="332.0" width="3.0" height="3.0" fill="#e6401e" stroke="#5a1a0a"/><rect x="189.1" y="363.3" width="3.0" height="3.0" fill="#f6b414" stroke="#5a400a"/><rect x="136.0" y="331.0" width="3.0" height="3.0" fill="#e6401e" stroke="#5a1a0a"/><rect x="165.5" y="369.3" width="3.0" height="3.0" fill="#f6b414" stroke="#5a400a"/><rect x="148.8" y="343.6" width="3.0" height="3.0" fill="#e6401e" stroke="#5a1a0a"/><rect x="153.6" y="377.7" width="3.0" height="3.0" fill="#f6ea00" stroke="#5a4a10"/><rect x="160.4" y="422.5" width="3.0" height="3.0" fill="#e6401e" stroke="#5a1a0a"/><rect x="95.5" y="372.0" width="3.0" height="3.0" fill="#e6401e" stroke="#5a1a0a"/><rect x="231.8" y="311.2" width="3.0" height="3.0" fill="#ee5a1e" stroke="#5a200a"/><rect x="150.2" y="349.2" width="3.0" height="3.0" fill="#ee5a1e" stroke="#5a200a"/><rect x="171.4" y="344.5" width="3.0" height="3.0" fill="#e6401e" stroke="#5a1a0a"/><rect x="161.0" y="290.3" width="3.0" height="3.0" fill="#e6401e" stroke="#5a1a0a"/><rect x="153.7" y="395.8" width="3.0" height="3.0" fill="#f6b414" stroke="#5a400a"/><rect x="147.8" y="341.4" width="3.0" height="3.0" fill="#e6401e" stroke="#5a1a0a"/><rect x="148.7" y="383.7" width="3.0" height="3.0" fill="#f28a1a" stroke="#5a300a"/><rect x="65.2" y="370.8" width="3.0" height="3.0" fill="#ee5a1e" stroke="#5a200a"/><rect x="198.5" y="357.9" width="3.0" height="3.0" fill="#f6ea00" stroke="#5a4a10"/><rect x="176.4" y="369.7" width="3.0" height="3.0" fill="#f6b414" stroke="#5a400a"/><rect x="157.9" y="387.9" width="3.0" height="3.0" fill="#f6b414" stroke="#5a400a"/><rect x="107.6" y="350.6" width="3.0" height="3.0" fill="#e6401e" stroke="#5a1a0a"/><rect x="171.9" y="415.2" width="3.0" height="3.0" fill="#e6401e" stroke="#5a1a0a"/><rect x="184.9" y="350.8" width="3.0" height="3.0" fill="#e6401e" stroke="#5a1a0a"/><rect x="194.8" y="343.0" width="3.0" height="3.0" fill="#e6401e" stroke="#5a1a0a"/><rect x="106.4" y="378.4" width="3.0" height="3.0" fill="#e6401e" stroke="#5a1a0a"/><rect x="172.1" y="424.8" width="3.0" height="3.0" fill="#ee5a1e" stroke="#5a200a"/><rect x="180.8" y="379.7" width="3.0" height="3.0" fill="#e6401e" stroke="#5a1a0a"/><rect x="118.8" y="333.1" width="3.0" height="3.0" fill="#e6401e" stroke="#5a1a0a"/><rect x="190.8" y="380.9" width="3.0" height="3.0" fill="#f6b414" stroke="#5a400a"/><rect x="157.9" y="414.0" width="3.0" height="3.0" fill="#ee5a1e" stroke="#5a200a"/><rect x="91.8" y="360.3" width="3.0" height="3.0" fill="#e6401e" stroke="#5a1a0a"/><rect x="194.2" y="338.4" width="3.0" height="3.0" fill="#e6401e" stroke="#5a1a0a"/><rect x="184.7" y="409.1" width="3.0" height="3.0" fill="#e6401e" stroke="#5a1a0a"/><rect x="116.8" y="406.1" width="3.0" height="3.0" fill="#e6401e" stroke="#5a1a0a"/><rect x="58.6" y="427.5" width="3.0" height="3.0" fill="#f28a1a" stroke="#5a300a"/><rect x="225.2" y="397.4" width="3.0" height="3.0" fill="#e6401e" stroke="#5a1a0a"/><rect x="115.6" y="337.1" width="3.0" height="3.0" fill="#ee5a1e" stroke="#5a200a"/><rect x="162.9" y="356.5" width="3.0" height="3.0" fill="#f28a1a" stroke="#5a300a"/><rect x="167.6" y="420.7" width="3.0" height="3.0" fill="#e6401e" stroke="#5a1a0a"/><rect x="256.0" y="413.3" width="3.0" height="3.0" fill="#f28a1a" stroke="#5a300a"/><rect x="82.7" y="384.8" width="3.0" height="3.0" fill="#e6401e" stroke="#5a1a0a"/><rect x="121.8" y="357.7" width="3.0" height="3.0" fill="#f6b414" stroke="#5a400a"/><rect x="162.3" y="359.6" width="3.0" height="3.0" fill="#ee5a1e" stroke="#5a200a"/><rect x="123.9" y="363.3" width="3.0" height="3.0" fill="#f28a1a" stroke="#5a300a"/><rect x="193.5" y="345.3" width="3.0" height="3.0" fill="#e6401e" stroke="#5a1a0a"/><rect x="85.8" y="375.4" width="3.0" height="3.0" fill="#e6401e" stroke="#5a1a0a"/><rect x="136.4" y="353.6" width="3.0" height="3.0" fill="#f28a1a" stroke="#5a300a"/><rect x="70.0" y="353.4" width="3.0" height="3.0" fill="#e6401e" stroke="#5a1a0a"/><rect x="102.7" y="369.1" width="3.0" height="3.0" fill="#e6401e" stroke="#5a1a0a"/><rect x="207.7" y="396.2" width="3.0" height="3.0" fill="#f6b414" stroke="#5a400a"/><rect x="122.6" y="352.4" width="3.0" height="3.0" fill="#e6401e" stroke="#5a1a0a"/><rect x="189.9" y="353.8" width="3.0" height="3.0" fill="#f6ea00" stroke="#5a4a10"/><rect x="159.3" y="369.6" width="3.0" height="3.0" fill="#e6401e" stroke="#5a1a0a"/><rect x="135.3" y="323.9" width="3.0" height="3.0" fill="#e6401e" stroke="#5a1a0a"/><rect x="146.2" y="378.4" width="3.0" height="3.0" fill="#e6401e" stroke="#5a1a0a"/><rect x="128.3" y="375.0" width="3.0" height="3.0" fill="#e6401e" stroke="#5a1a0a"/><rect x="140.2" y="305.1" width="3.0" height="3.0" fill="#e6401e" stroke="#5a1a0a"/><rect x="158.1" y="345.3" width="3.0" height="3.0" fill="#e6401e" stroke="#5a1a0a"/><rect x="104.0" y="398.8" width="3.0" height="3.0" fill="#e6401e" stroke="#5a1a0a"/><rect x="170.8" y="378.1" width="3.0" height="3.0" fill="#e6401e" stroke="#5a1a0a"/><rect x="163.9" y="364.9" width="3.0" height="3.0" fill="#ee5a1e" stroke="#5a200a"/><rect x="192.3" y="361.7" width="3.0" height="3.0" fill="#f28a1a" stroke="#5a300a"/><rect x="210.5" y="434.2" width="3.0" height="3.0" fill="#e6401e" stroke="#5a1a0a"/><rect x="68.6" y="350.0" width="3.0" height="3.0" fill="#e6401e" stroke="#5a1a0a"/><rect x="125.5" y="343.5" width="3.0" height="3.0" fill="#e6401e" stroke="#5a1a0a"/><rect x="115.0" y="362.1" width="3.0" height="3.0" fill="#ee5a1e" stroke="#5a200a"/><rect x="224.2" y="385.5" width="3.0" height="3.0" fill="#4a2286" stroke="#1a0a30"/><rect x="138.0" y="365.8" width="3.0" height="3.0" fill="#ee5a1e" stroke="#5a200a"/><rect x="202.3" y="376.5" width="3.0" height="3.0" fill="#f28a1a" stroke="#5a300a"/><rect x="186.4" y="281.5" width="3.0" height="3.0" fill="#e6401e" stroke="#5a1a0a"/><rect x="67.3" y="371.5" width="3.0" height="3.0" fill="#e6401e" stroke="#5a1a0a"/><rect x="184.5" y="288.7" width="3.0" height="3.0" fill="#e6401e" stroke="#5a1a0a"/><rect x="96.7" y="379.6" width="3.0" height="3.0" fill="#e6401e" stroke="#5a1a0a"/><rect x="135.1" y="361.5" width="3.0" height="3.0" fill="#ee5a1e" stroke="#5a200a"/><rect x="193.9" y="359.2" width="3.0" height="3.0" fill="#f6ea00" stroke="#5a4a10"/><rect x="167.1" y="375.3" width="3.0" height="3.0" fill="#f6b414" stroke="#5a400a"/><rect x="222.4" y="410.4" width="3.0" height="3.0" fill="#ee5a1e" stroke="#5a200a"/><rect x="150.1" y="381.2" width="3.0" height="3.0" fill="#f6b414" stroke="#5a400a"/><rect x="173.7" y="414.6" width="3.0" height="3.0" fill="#ee5a1e" stroke="#5a200a"/><rect x="171.1" y="429.1" width="3.0" height="3.0" fill="#ee5a1e" stroke="#5a200a"/><rect x="144.3" y="368.1" width="3.0" height="3.0" fill="#ee5a1e" stroke="#5a200a"/><rect x="96.7" y="359.7" width="3.0" height="3.0" fill="#ee5a1e" stroke="#5a200a"/><rect x="172.3" y="338.7" width="3.0" height="3.0" fill="#e6401e" stroke="#5a1a0a"/><rect x="181.7" y="409.8" width="3.0" height="3.0" fill="#ee5a1e" stroke="#5a200a"/><rect x="145.8" y="392.8" width="3.0" height="3.0" fill="#f6ea00" stroke="#5a4a10"/><rect x="262.0" y="396.2" width="3.0" height="3.0" fill="#ee5a1e" stroke="#5a200a"/><rect x="128.7" y="366.2" width="3.0" height="3.0" fill="#f6ea00" stroke="#5a4a10"/><rect x="131.1" y="353.6" width="3.0" height="3.0" fill="#e6401e" stroke="#5a1a0a"/><rect x="128.5" y="342.8" width="3.0" height="3.0" fill="#ee5a1e" stroke="#5a200a"/><rect x="125.9" y="350.8" width="3.0" height="3.0" fill="#ee5a1e" stroke="#5a200a"/><rect x="125.1" y="372.5" width="3.0" height="3.0" fill="#e6401e" stroke="#5a1a0a"/><rect x="97.7" y="355.1" width="3.0" height="3.0" fill="#ee5a1e" stroke="#5a200a"/><rect x="272.3" y="410.5" width="3.0" height="3.0" fill="#ee5a1e" stroke="#5a200a"/><rect x="36.3" y="395.6" width="3.0" height="3.0" fill="#e6401e" stroke="#5a1a0a"/><rect x="217.5" y="401.9" width="3.0" height="3.0" fill="#e6401e" stroke="#5a1a0a"/><rect x="131.7" y="345.5" width="3.0" height="3.0" fill="#e6401e" stroke="#5a1a0a"/><rect x="155.1" y="354.1" width="3.0" height="3.0" fill="#ee5a1e" stroke="#5a200a"/><rect x="169.6" y="348.8" width="3.0" height="3.0" fill="#ee5a1e" stroke="#5a200a"/><rect x="168.7" y="337.2" width="3.0" height="3.0" fill="#e6401e" stroke="#5a1a0a"/><rect x="184.8" y="336.0" width="3.0" height="3.0" fill="#e6401e" stroke="#5a1a0a"/><rect x="174.2" y="347.8" width="3.0" height="3.0" fill="#f28a1a" stroke="#5a300a"/><rect x="147.7" y="331.0" width="3.0" height="3.0" fill="#e6401e" stroke="#5a1a0a"/><rect x="136.4" y="359.3" width="3.0" height="3.0" fill="#e6401e" stroke="#5a1a0a"/><rect x="195.8" y="372.5" width="3.0" height="3.0" fill="#f6b414" stroke="#5a400a"/><rect x="173.1" y="324.4" width="3.0" height="3.0" fill="#e6401e" stroke="#5a1a0a"/><rect x="119.0" y="366.6" width="3.0" height="3.0" fill="#ee5a1e" stroke="#5a200a"/><rect x="171.9" y="423.1" width="3.0" height="3.0" fill="#ee5a1e" stroke="#5a200a"/><rect x="168.3" y="416.4" width="3.0" height="3.0" fill="#e6401e" stroke="#5a1a0a"/><rect x="143.8" y="351.4" width="3.0" height="3.0" fill="#ee5a1e" stroke="#5a200a"/><rect x="165.5" y="371.7" width="3.0" height="3.0" fill="#f28a1a" stroke="#5a300a"/><rect x="251.1" y="410.9" width="3.0" height="3.0" fill="#f28a1a" stroke="#5a300a"/><rect x="167.8" y="352.0" width="3.0" height="3.0" fill="#ee5a1e" stroke="#5a200a"/><rect x="108.8" y="363.9" width="3.0" height="3.0" fill="#e6401e" stroke="#5a1a0a"/><rect x="206.2" y="338.3" width="3.0" height="3.0" fill="#e6401e" stroke="#5a1a0a"/><rect x="152.9" y="311.2" width="3.0" height="3.0" fill="#e6401e" stroke="#5a1a0a"/><rect x="116.8" y="409.1" width="3.0" height="3.0" fill="#e6401e" stroke="#5a1a0a"/><rect x="69.5" y="441.9" width="3.0" height="3.0" fill="#f28a1a" stroke="#5a300a"/><rect x="191.2" y="342.7" width="3.0" height="3.0" fill="#e6401e" stroke="#5a1a0a"/><rect x="94.3" y="359.1" width="3.0" height="3.0" fill="#e6401e" stroke="#5a1a0a"/><rect x="148.8" y="325.0" width="3.0" height="3.0" fill="#e6401e" stroke="#5a1a0a"/><rect x="144.1" y="354.7" width="3.0" height="3.0" fill="#ee5a1e" stroke="#5a200a"/><rect x="217.7" y="309.6" width="3.0" height="3.0" fill="#4a2286" stroke="#1a0a30"/><rect x="170.7" y="349.6" width="3.0" height="3.0" fill="#f28a1a" stroke="#5a300a"/><rect x="151.7" y="352.3" width="3.0" height="3.0" fill="#f6b414" stroke="#5a400a"/><rect x="129.4" y="406.7" width="3.0" height="3.0" fill="#e6401e" stroke="#5a1a0a"/><rect x="154.5" y="335.5" width="3.0" height="3.0" fill="#ee5a1e" stroke="#5a200a"/><rect x="114.2" y="407.3" width="3.0" height="3.0" fill="#f28a1a" stroke="#5a300a"/><rect x="115.0" y="356.7" width="3.0" height="3.0" fill="#e6401e" stroke="#5a1a0a"/><rect x="60.7" y="420.2" width="3.0" height="3.0" fill="#e6401e" stroke="#5a1a0a"/><rect x="124.5" y="333.9" width="3.0" height="3.0" fill="#e6401e" stroke="#5a1a0a"/><rect x="109.1" y="343.9" width="3.0" height="3.0" fill="#e6401e" stroke="#5a1a0a"/><rect x="225.6" y="394.7" width="3.0" height="3.0" fill="#e6401e" stroke="#5a1a0a"/><rect x="179.2" y="342.7" width="3.0" height="3.0" fill="#e6401e" stroke="#5a1a0a"/><rect x="179.8" y="380.2" width="3.0" height="3.0" fill="#ee5a1e" stroke="#5a200a"/><rect x="172.6" y="344.8" width="3.0" height="3.0" fill="#e6401e" stroke="#5a1a0a"/><rect x="150.9" y="298.6" width="3.0" height="3.0" fill="#e6401e" stroke="#5a1a0a"/><rect x="244.1" y="306.4" width="3.0" height="3.0" fill="#f6ea00" stroke="#5a4a10"/><rect x="201.0" y="319.0" width="3.0" height="3.0" fill="#e6401e" stroke="#5a1a0a"/><rect x="151.1" y="365.9" width="3.0" height="3.0" fill="#ee5a1e" stroke="#5a200a"/><rect x="194.7" y="288.4" width="3.0" height="3.0" fill="#ee5a1e" stroke="#5a200a"/><rect x="193.0" y="344.8" width="3.0" height="3.0" fill="#ee5a1e" stroke="#5a200a"/><rect x="140.8" y="370.6" width="3.0" height="3.0" fill="#ee5a1e" stroke="#5a200a"/><rect x="244.4" y="310.4" width="3.0" height="3.0" fill="#f6ea00" stroke="#5a4a10"/><rect x="170.4" y="375.7" width="3.0" height="3.0" fill="#f28a1a" stroke="#5a300a"/><rect x="242.0" y="312.1" width="3.0" height="3.0" fill="#f6ea00" stroke="#5a4a10"/><rect x="111.2" y="354.6" width="3.0" height="3.0" fill="#ee5a1e" stroke="#5a200a"/><rect x="108.8" y="375.1" width="3.0" height="3.0" fill="#ee5a1e" stroke="#5a200a"/><rect x="149.3" y="335.9" width="3.0" height="3.0" fill="#e6401e" stroke="#5a1a0a"/><rect x="159.0" y="355.6" width="3.0" height="3.0" fill="#e6401e" stroke="#5a1a0a"/><rect x="17.5" y="403.8" width="3.0" height="3.0" fill="#ee5a1e" stroke="#5a200a"/><rect x="148.0" y="312.1" width="3.0" height="3.0" fill="#ee5a1e" stroke="#5a200a"/><rect x="220.1" y="284.2" width="3.0" height="3.0" fill="#4a2286" stroke="#1a0a30"/><rect x="163.6" y="362.3" width="3.0" height="3.0" fill="#e6401e" stroke="#5a1a0a"/><rect x="260.8" y="320.3" width="3.0" height="3.0" fill="#e6401e" stroke="#5a1a0a"/><rect x="198.0" y="349.8" width="3.0" height="3.0" fill="#f6ea00" stroke="#5a4a10"/><rect x="176.4" y="375.2" width="3.0" height="3.0" fill="#f28a1a" stroke="#5a300a"/><rect x="152.9" y="341.1" width="3.0" height="3.0" fill="#ee5a1e" stroke="#5a200a"/><rect x="171.2" y="378.5" width="3.0" height="3.0" fill="#e6401e" stroke="#5a1a0a"/><rect x="182.3" y="416.4" width="3.0" height="3.0" fill="#ee5a1e" stroke="#5a200a"/><rect x="199.7" y="352.6" width="3.0" height="3.0" fill="#ee5a1e" stroke="#5a200a"/><rect x="146.4" y="338.5" width="3.0" height="3.0" fill="#e6401e" stroke="#5a1a0a"/><rect x="132.7" y="377.4" width="3.0" height="3.0" fill="#e6401e" stroke="#5a1a0a"/><rect x="190.7" y="368.8" width="3.0" height="3.0" fill="#f28a1a" stroke="#5a300a"/><rect x="139.0" y="324.2" width="3.0" height="3.0" fill="#e6401e" stroke="#5a1a0a"/><rect x="113.4" y="346.0" width="3.0" height="3.0" fill="#ee5a1e" stroke="#5a200a"/><rect x="169.5" y="356.4" width="3.0" height="3.0" fill="#f28a1a" stroke="#5a300a"/><rect x="159.2" y="420.1" width="3.0" height="3.0" fill="#ee5a1e" stroke="#5a200a"/><rect x="183.1" y="362.6" width="3.0" height="3.0" fill="#f6ea00" stroke="#5a4a10"/><rect x="104.6" y="366.4" width="3.0" height="3.0" fill="#e6401e" stroke="#5a1a0a"/><rect x="164.4" y="333.7" width="3.0" height="3.0" fill="#e6401e" stroke="#5a1a0a"/><rect x="61.9" y="351.0" width="3.0" height="3.0" fill="#e6401e" stroke="#5a1a0a"/><rect x="115.0" y="340.9" width="3.0" height="3.0" fill="#ee5a1e" stroke="#5a200a"/><rect x="173.7" y="390.4" width="3.0" height="3.0" fill="#e6401e" stroke="#5a1a0a"/><rect x="160.4" y="386.1" width="3.0" height="3.0" fill="#f6ea00" stroke="#5a4a10"/><rect x="172.8" y="370.5" width="3.0" height="3.0" fill="#f6ea00" stroke="#5a4a10"/><rect x="171.1" y="339.6" width="3.0" height="3.0" fill="#e6401e" stroke="#5a1a0a"/><rect x="153.7" y="314.5" width="3.0" height="3.0" fill="#e6401e" stroke="#5a1a0a"/><rect x="145.6" y="342.8" width="3.0" height="3.0" fill="#ee5a1e" stroke="#5a200a"/><rect x="122.1" y="338.4" width="3.0" height="3.0" fill="#e6401e" stroke="#5a1a0a"/><rect x="116.6" y="350.8" width="3.0" height="3.0" fill="#e6401e" stroke="#5a1a0a"/><rect x="138.9" y="352.0" width="3.0" height="3.0" fill="#ee5a1e" stroke="#5a200a"/><rect x="143.1" y="338.7" width="3.0" height="3.0" fill="#e6401e" stroke="#5a1a0a"/><rect x="148.9" y="386.1" width="3.0" height="3.0" fill="#f6ea00" stroke="#5a4a10"/><rect x="86.4" y="365.8" width="3.0" height="3.0" fill="#ee5a1e" stroke="#5a200a"/><rect x="180.2" y="360.9" width="3.0" height="3.0" fill="#f6ea00" stroke="#5a4a10"/><rect x="131.2" y="394.6" width="3.0" height="3.0" fill="#e6401e" stroke="#5a1a0a"/><rect x="144.4" y="319.3" width="3.0" height="3.0" fill="#e6401e" stroke="#5a1a0a"/><rect x="148.7" y="352.3" width="3.0" height="3.0" fill="#ee5a1e" stroke="#5a200a"/><rect x="180.5" y="414.6" width="3.0" height="3.0" fill="#f28a1a" stroke="#5a300a"/><rect x="170.4" y="369.6" width="3.0" height="3.0" fill="#ee5a1e" stroke="#5a200a"/><rect x="124.7" y="347.6" width="3.0" height="3.0" fill="#f6ea00" stroke="#5a4a10"/><rect x="173.7" y="421.9" width="3.0" height="3.0" fill="#ee5a1e" stroke="#5a200a"/><rect x="183.4" y="341.7" width="3.0" height="3.0" fill="#e6401e" stroke="#5a1a0a"/><rect x="202.5" y="353.2" width="3.0" height="3.0" fill="#e6401e" stroke="#5a1a0a"/><rect x="178.9" y="376.9" width="3.0" height="3.0" fill="#ee5a1e" stroke="#5a200a"/><rect x="104.0" y="373.9" width="3.0" height="3.0" fill="#e6401e" stroke="#5a1a0a"/><rect x="160.0" y="365.8" width="3.0" height="3.0" fill="#f6b414" stroke="#5a400a"/><rect x="157.9" y="403.7" width="3.0" height="3.0" fill="#f28a1a" stroke="#5a300a"/><rect x="47.3" y="433.2" width="3.0" height="3.0" fill="#e6401e" stroke="#5a1a0a"/><rect x="136.0" y="350.8" width="3.0" height="3.0" fill="#f28a1a" stroke="#5a300a"/><rect x="149.5" y="412.2" width="3.0" height="3.0" fill="#e6401e" stroke="#5a1a0a"/><rect x="195.1" y="337.9" width="3.0" height="3.0" fill="#e6401e" stroke="#5a1a0a"/><rect x="130.5" y="328.7" width="3.0" height="3.0" fill="#e6401e" stroke="#5a1a0a"/><rect x="113.2" y="402.5" width="3.0" height="3.0" fill="#e6401e" stroke="#5a1a0a"/><rect x="236.3" y="306.7" width="3.0" height="3.0" fill="#f6ea00" stroke="#5a4a10"/><rect x="136.4" y="341.9" width="3.0" height="3.0" fill="#e6401e" stroke="#5a1a0a"/><rect x="154.7" y="374.9" width="3.0" height="3.0" fill="#f6ea00" stroke="#5a4a10"/><rect x="181.0" y="316.1" width="3.0" height="3.0" fill="#e6401e" stroke="#5a1a0a"/><rect x="131.2" y="407.9" width="3.0" height="3.0" fill="#e6401e" stroke="#5a1a0a"/><rect x="183.0" y="357.0" width="3.0" height="3.0" fill="#f28a1a" stroke="#5a300a"/><rect x="191.1" y="390.4" width="3.0" height="3.0" fill="#ee5a1e" stroke="#5a200a"/><rect x="179.7" y="319.3" width="3.0" height="3.0" fill="#e6401e" stroke="#5a1a0a"/><rect x="128.3" y="368.9" width="3.0" height="3.0" fill="#ee5a1e" stroke="#5a200a"/><rect x="159.6" y="383.7" width="3.0" height="3.0" fill="#f6b414" stroke="#5a400a"/><rect x="155.5" y="394.6" width="3.0" height="3.0" fill="#f6b414" stroke="#5a400a"/><rect x="140.4" y="359.9" width="3.0" height="3.0" fill="#f6ea00" stroke="#5a4a10"/><rect x="154.5" y="341.1" width="3.0" height="3.0" fill="#e6401e" stroke="#5a1a0a"/><rect x="241.3" y="407.7" width="3.0" height="3.0" fill="#ee5a1e" stroke="#5a200a"/><rect x="187.4" y="367.7" width="3.0" height="3.0" fill="#f28a1a" stroke="#5a300a"/><rect x="152.5" y="416.8" width="3.0" height="3.0" fill="#e6401e" stroke="#5a1a0a"/><rect x="117.2" y="339.5" width="3.0" height="3.0" fill="#ee5a1e" stroke="#5a200a"/><rect x="125.5" y="381.8" width="3.0" height="3.0" fill="#f28a1a" stroke="#5a300a"/><rect x="126.7" y="378.2" width="3.0" height="3.0" fill="#e6401e" stroke="#5a1a0a"/><rect x="162.8" y="370.3" width="3.0" height="3.0" fill="#ee5a1e" stroke="#5a200a"/><rect x="181.4" y="371.7" width="3.0" height="3.0" fill="#f6ea00" stroke="#5a4a10"/><rect x="151.7" y="347.3" width="3.0" height="3.0" fill="#e6401e" stroke="#5a1a0a"/><rect x="75.4" y="361.2" width="3.0" height="3.0" fill="#ee5a1e" stroke="#5a200a"/><rect x="171.3" y="400.1" width="3.0" height="3.0" fill="#e6401e" stroke="#5a1a0a"/><rect x="114.4" y="359.1" width="3.0" height="3.0" fill="#e6401e" stroke="#5a1a0a"/><rect x="218.9" y="303.2" width="3.0" height="3.0" fill="#4a2286" stroke="#1a0a30"/><rect x="134.4" y="381.8" width="3.0" height="3.0" fill="#ee5a1e" stroke="#5a200a"/><rect x="134.0" y="355.3" width="3.0" height="3.0" fill="#f28a1a" stroke="#5a300a"/><rect x="138.5" y="403.1" width="3.0" height="3.0" fill="#f28a1a" stroke="#5a300a"/><rect x="175.2" y="362.5" width="3.0" height="3.0" fill="#ee5a1e" stroke="#5a200a"/><rect x="194.4" y="415.2" width="3.0" height="3.0" fill="#e6401e" stroke="#5a1a0a"/><rect x="202.0" y="337.8" width="3.0" height="3.0" fill="#e6401e" stroke="#5a1a0a"/><rect x="115.0" y="346.4" width="3.0" height="3.0" fill="#ee5a1e" stroke="#5a200a"/><rect x="66.8" y="420.8" width="3.0" height="3.0" fill="#ee5a1e" stroke="#5a200a"/><rect x="123.9" y="344.4" width="3.0" height="3.0" fill="#e6401e" stroke="#5a1a0a"/><rect x="128.2" y="403.7" width="3.0" height="3.0" fill="#ee5a1e" stroke="#5a200a"/><rect x="201.2" y="359.2" width="3.0" height="3.0" fill="#f6ea00" stroke="#5a4a10"/><rect x="165.1" y="350.5" width="3.0" height="3.0" fill="#e6401e" stroke="#5a1a0a"/><rect x="140.9" y="391.6" width="3.0" height="3.0" fill="#e6401e" stroke="#5a1a0a"/><rect x="189.1" y="380.0" width="3.0" height="3.0" fill="#f6ea00" stroke="#5a4a10"/><rect x="195.5" y="353.8" width="3.0" height="3.0" fill="#ee5a1e" stroke="#5a200a"/><rect x="152.2" y="334.2" width="3.0" height="3.0" fill="#ee5a1e" stroke="#5a200a"/><rect x="195.2" y="370.5" width="3.0" height="3.0" fill="#f6ea00" stroke="#5a4a10"/><rect x="101.3" y="346.1" width="3.0" height="3.0" fill="#e6401e" stroke="#5a1a0a"/><rect x="147.2" y="345.6" width="3.0" height="3.0" fill="#e6401e" stroke="#5a1a0a"/><rect x="72.2" y="371.1" width="3.0" height="3.0" fill="#e6401e" stroke="#5a1a0a"/><rect x="159.6" y="348.0" width="3.0" height="3.0" fill="#ee5a1e" stroke="#5a200a"/><rect x="191.5" y="372.1" width="3.0" height="3.0" fill="#f28a1a" stroke="#5a300a"/><rect x="182.2" y="375.7" width="3.0" height="3.0" fill="#f28a1a" stroke="#5a300a"/><rect x="156.3" y="336.5" width="3.0" height="3.0" fill="#e6401e" stroke="#5a1a0a"/><rect x="122.1" y="343.6" width="3.0" height="3.0" fill="#e6401e" stroke="#5a1a0a"/><rect x="156.6" y="350.5" width="3.0" height="3.0" fill="#f6ea00" stroke="#5a4a10"/><rect x="206.0" y="348.8" width="3.0" height="3.0" fill="#ee5a1e" stroke="#5a200a"/><rect x="152.1" y="342.8" width="3.0" height="3.0" fill="#e6401e" stroke="#5a1a0a"/><rect x="149.5" y="389.1" width="3.0" height="3.0" fill="#f6b414" stroke="#5a400a"/><rect x="72.0" y="368.1" width="3.0" height="3.0" fill="#e6401e" stroke="#5a1a0a"/><rect x="198.2" y="292.3" width="3.0" height="3.0" fill="#e6401e" stroke="#5a1a0a"/><rect x="128.7" y="361.7" width="3.0" height="3.0" fill="#f28a1a" stroke="#5a300a"/><rect x="169.6" y="380.2" width="3.0" height="3.0" fill="#f6b414" stroke="#5a400a"/><rect x="114.0" y="343.2" width="3.0" height="3.0" fill="#e6401e" stroke="#5a1a0a"/><rect x="180.5" y="339.0" width="3.0" height="3.0" fill="#e6401e" stroke="#5a1a0a"/><rect x="211.6" y="310.0" width="3.0" height="3.0" fill="#e6401e" stroke="#5a1a0a"/><rect x="135.8" y="314.2" width="3.0" height="3.0" fill="#e6401e" stroke="#5a1a0a"/><rect x="139.7" y="368.1" width="3.0" height="3.0" fill="#ee5a1e" stroke="#5a200a"/><rect x="258.4" y="324.6" width="3.0" height="3.0" fill="#e6401e" stroke="#5a1a0a"/><rect x="183.5" y="418.2" width="3.0" height="3.0" fill="#e6401e" stroke="#5a1a0a"/><rect x="148.0" y="347.6" width="3.0" height="3.0" fill="#f28a1a" stroke="#5a300a"/><rect x="110.0" y="383.6" width="3.0" height="3.0" fill="#e6401e" stroke="#5a1a0a"/><rect x="114.4" y="351.2" width="3.0" height="3.0" fill="#e6401e" stroke="#5a1a0a"/><rect x="207.1" y="348.8" width="3.0" height="3.0" fill="#f28a1a" stroke="#5a300a"/><rect x="167.9" y="356.8" width="3.0" height="3.0" fill="#e6401e" stroke="#5a1a0a"/><rect x="164.2" y="340.3" width="3.0" height="3.0" fill="#e6401e" stroke="#5a1a0a"/><rect x="141.5" y="336.3" width="3.0" height="3.0" fill="#e6401e" stroke="#5a1a0a"/><rect x="158.6" y="385.5" width="3.0" height="3.0" fill="#f6b414" stroke="#5a400a"/><rect x="179.3" y="356.0" width="3.0" height="3.0" fill="#f6b414" stroke="#5a400a"/><rect x="170.6" y="320.1" width="3.0" height="3.0" fill="#e6401e" stroke="#5a1a0a"/><rect x="122.2" y="370.5" width="3.0" height="3.0" fill="#f6b414" stroke="#5a400a"/><rect x="189.9" y="359.2" width="3.0" height="3.0" fill="#f6ea00" stroke="#5a4a10"/><rect x="104.6" y="354.2" width="3.0" height="3.0" fill="#e6401e" stroke="#5a1a0a"/><rect x="100.7" y="448.9" width="3.0" height="3.0" fill="#e6401e" stroke="#5a1a0a"/><rect x="206.1" y="352.8" width="3.0" height="3.0" fill="#f6b414" stroke="#5a400a"/><rect x="120.6" y="351.6" width="3.0" height="3.0" fill="#f6b414" stroke="#5a400a"/><rect x="139.4" y="372.4" width="3.0" height="3.0" fill="#e6401e" stroke="#5a1a0a"/><rect x="176.3" y="341.9" width="3.0" height="3.0" fill="#e6401e" stroke="#5a1a0a"/><rect x="176.5" y="443.6" width="3.0" height="3.0" fill="#ee5a1e" stroke="#5a200a"/><rect x="178.6" y="408.5" width="3.0" height="3.0" fill="#ee5a1e" stroke="#5a200a"/><rect x="148.2" y="361.8" width="3.0" height="3.0" fill="#f28a1a" stroke="#5a300a"/><rect x="121.5" y="394.6" width="3.0" height="3.0" fill="#ee5a1e" stroke="#5a200a"/><rect x="110.6" y="377.2" width="3.0" height="3.0" fill="#e6401e" stroke="#5a1a0a"/><rect x="192.6" y="414.6" width="3.0" height="3.0" fill="#e6401e" stroke="#5a1a0a"/><rect x="173.8" y="368.1" width="3.0" height="3.0" fill="#f28a1a" stroke="#5a300a"/><rect x="134.8" y="407.9" width="3.0" height="3.0" fill="#ee5a1e" stroke="#5a200a"/><rect x="181.3" y="349.3" width="3.0" height="3.0" fill="#f6b414" stroke="#5a400a"/><rect x="148.5" y="339.9" width="3.0" height="3.0" fill="#e6401e" stroke="#5a1a0a"/><rect x="143.6" y="360.1" width="3.0" height="3.0" fill="#e6401e" stroke="#5a1a0a"/><rect x="156.9" y="343.2" width="3.0" height="3.0" fill="#e6401e" stroke="#5a1a0a"/><rect x="151.8" y="381.2" width="3.0" height="3.0" fill="#f6ea00" stroke="#5a4a10"/><rect x="197.4" y="341.1" width="3.0" height="3.0" fill="#e6401e" stroke="#5a1a0a"/><rect x="150.7" y="391.6" width="3.0" height="3.0" fill="#ee5a1e" stroke="#5a200a"/><rect x="166.3" y="381.0" width="3.0" height="3.0" fill="#e6401e" stroke="#5a1a0a"/><rect x="133.6" y="351.2" width="3.0" height="3.0" fill="#f28a1a" stroke="#5a300a"/><rect x="221.2" y="387.9" width="3.0" height="3.0" fill="#4a2286" stroke="#1a0a30"/><rect x="162.0" y="356.5" width="3.0" height="3.0" fill="#ee5a1e" stroke="#5a200a"/><rect x="166.6" y="345.9" width="3.0" height="3.0" fill="#e6401e" stroke="#5a1a0a"/><rect x="164.2" y="354.4" width="3.0" height="3.0" fill="#ee5a1e" stroke="#5a200a"/><rect x="205.1" y="349.3" width="3.0" height="3.0" fill="#f6b414" stroke="#5a400a"/><rect x="88.4" y="432.2" width="3.0" height="3.0" fill="#e6401e" stroke="#5a1a0a"/><rect x="116.8" y="382.0" width="3.0" height="3.0" fill="#ee5a1e" stroke="#5a200a"/><rect x="195.0" y="417.6" width="3.0" height="3.0" fill="#e6401e" stroke="#5a1a0a"/><rect x="150.5" y="326.6" width="3.0" height="3.0" fill="#e6401e" stroke="#5a1a0a"/><rect x="143.3" y="372.4" width="3.0" height="3.0" fill="#e6401e" stroke="#5a1a0a"/><rect x="191.3" y="320.1" width="3.0" height="3.0" fill="#e6401e" stroke="#5a1a0a"/><rect x="146.0" y="348.6" width="3.0" height="3.0" fill="#e6401e" stroke="#5a1a0a"/><rect x="116.2" y="342.7" width="3.0" height="3.0" fill="#e6401e" stroke="#5a1a0a"/><rect x="171.5" y="287.1" width="3.0" height="3.0" fill="#e6401e" stroke="#5a1a0a"/><rect x="152.6" y="361.1" width="3.0" height="3.0" fill="#e6401e" stroke="#5a1a0a"/><rect x="150.5" y="347.4" width="3.0" height="3.0" fill="#f6ea00" stroke="#5a4a10"/><rect x="94.9" y="344.6" width="3.0" height="3.0" fill="#ee5a1e" stroke="#5a200a"/><rect x="197.2" y="379.0" width="3.0" height="3.0" fill="#f6b414" stroke="#5a400a"/><rect x="58.6" y="348.2" width="3.0" height="3.0" fill="#e6401e" stroke="#5a1a0a"/><rect x="175.2" y="357.6" width="3.0" height="3.0" fill="#e6401e" stroke="#5a1a0a"/><rect x="178.2" y="398.2" width="3.0" height="3.0" fill="#f28a1a" stroke="#5a300a"/><rect x="99.7" y="380.8" width="3.0" height="3.0" fill="#e6401e" stroke="#5a1a0a"/><rect x="170.0" y="363.3" width="3.0" height="3.0" fill="#e6401e" stroke="#5a1a0a"/><rect x="186.9" y="358.5" width="3.0" height="3.0" fill="#f6ea00" stroke="#5a4a10"/><rect x="127.9" y="350.8" width="3.0" height="3.0" fill="#f6b414" stroke="#5a400a"/><rect x="171.2" y="358.0" width="3.0" height="3.0" fill="#ee5a1e" stroke="#5a200a"/><rect x="267.7" y="400.5" width="3.0" height="3.0" fill="#ee5a1e" stroke="#5a200a"/><rect x="149.2" y="398.2" width="3.0" height="3.0" fill="#f6ea00" stroke="#5a4a10"/><rect x="191.4" y="416.4" width="3.0" height="3.0" fill="#ee5a1e" stroke="#5a200a"/><rect x="201.5" y="349.8" width="3.0" height="3.0" fill="#e6401e" stroke="#5a1a0a"/><rect x="184.2" y="320.1" width="3.0" height="3.0" fill="#e6401e" stroke="#5a1a0a"/><rect x="175.7" y="361.2" width="3.0" height="3.0" fill="#f28a1a" stroke="#5a300a"/><rect x="117.4" y="388.5" width="3.0" height="3.0" fill="#e6401e" stroke="#5a1a0a"/><rect x="160.6" y="293.3" width="3.0" height="3.0" fill="#e6401e" stroke="#5a1a0a"/><rect x="131.8" y="336.1" width="3.0" height="3.0" fill="#ee5a1e" stroke="#5a200a"/><rect x="187.7" y="340.3" width="3.0" height="3.0" fill="#e6401e" stroke="#5a1a0a"/><rect x="154.8" y="294.4" width="3.0" height="3.0" fill="#ee5a1e" stroke="#5a200a"/><rect x="208.4" y="428.9" width="3.0" height="3.0" fill="#ee5a1e" stroke="#5a200a"/><rect x="187.4" y="346.8" width="3.0" height="3.0" fill="#e6401e" stroke="#5a1a0a"/><rect x="174.7" y="342.2" width="3.0" height="3.0" fill="#e6401e" stroke="#5a1a0a"/><rect x="147.6" y="380.5" width="3.0" height="3.0" fill="#f6b414" stroke="#5a400a"/><rect x="164.7" y="377.7" width="3.0" height="3.0" fill="#f6b414" stroke="#5a400a"/><rect x="165.2" y="436.9" width="3.0" height="3.0" fill="#e6401e" stroke="#5a1a0a"/><rect x="143.3" y="395.2" width="3.0" height="3.0" fill="#e6401e" stroke="#5a1a0a"/><rect x="262.0" y="322.7" width="3.0" height="3.0" fill="#e6401e" stroke="#5a1a0a"/><rect x="171.0" y="378.9" width="3.0" height="3.0" fill="#ee5a1e" stroke="#5a200a"/><rect x="139.7" y="407.9" width="3.0" height="3.0" fill="#e6401e" stroke="#5a1a0a"/><rect x="180.7" y="349.6" width="3.0" height="3.0" fill="#f28a1a" stroke="#5a300a"/><rect x="156.3" y="363.2" width="3.0" height="3.0" fill="#e6401e" stroke="#5a1a0a"/><rect x="199.3" y="390.1" width="3.0" height="3.0" fill="#e6401e" stroke="#5a1a0a"/><rect x="167.7" y="330.3" width="3.0" height="3.0" fill="#ee5a1e" stroke="#5a200a"/><rect x="97.9" y="361.5" width="3.0" height="3.0" fill="#e6401e" stroke="#5a1a0a"/><rect x="155.3" y="329.8" width="3.0" height="3.0" fill="#f28a1a" stroke="#5a300a"/><rect x="202.6" y="336.3" width="3.0" height="3.0" fill="#e6401e" stroke="#5a1a0a"/><rect x="199.3" y="373.5" width="3.0" height="3.0" fill="#f6ea00" stroke="#5a4a10"/><rect x="162.2" y="412.8" width="3.0" height="3.0" fill="#e6401e" stroke="#5a1a0a"/><rect x="63.7" y="371.1" width="3.0" height="3.0" fill="#e6401e" stroke="#5a1a0a"/><rect x="188.4" y="356.9" width="3.0" height="3.0" fill="#ee5a1e" stroke="#5a200a"/><rect x="192.3" y="296.5" width="3.0" height="3.0" fill="#e6401e" stroke="#5a1a0a"/><rect x="158.6" y="393.4" width="3.0" height="3.0" fill="#f6ea00" stroke="#5a4a10"/><rect x="149.6" y="356.7" width="3.0" height="3.0" fill="#ee5a1e" stroke="#5a200a"/><rect x="99.1" y="374.8" width="3.0" height="3.0" fill="#e6401e" stroke="#5a1a0a"/><rect x="162.2" y="402.2" width="3.0" height="3.0" fill="#e6401e" stroke="#5a1a0a"/><rect x="125.1" y="403.1" width="3.0" height="3.0" fill="#e6401e" stroke="#5a1a0a"/><rect x="164.2" y="338.0" width="3.0" height="3.0" fill="#e6401e" stroke="#5a1a0a"/><rect x="245.2" y="313.7" width="3.0" height="3.0" fill="#ee5a1e" stroke="#5a200a"/><rect x="269.3" y="404.8" width="3.0" height="3.0" fill="#ee5a1e" stroke="#5a200a"/><rect x="158.5" y="330.6" width="3.0" height="3.0" fill="#f28a1a" stroke="#5a300a"/><rect x="210.2" y="418.8" width="3.0" height="3.0" fill="#e6401e" stroke="#5a1a0a"/><rect x="105.8" y="403.1" width="3.0" height="3.0" fill="#e6401e" stroke="#5a1a0a"/><rect x="115.0" y="377.2" width="3.0" height="3.0" fill="#e6401e" stroke="#5a1a0a"/><rect x="128.1" y="356.3" width="3.0" height="3.0" fill="#f28a1a" stroke="#5a300a"/><rect x="145.6" y="299.9" width="3.0" height="3.0" fill="#e6401e" stroke="#5a1a0a"/><rect x="91.8" y="388.7" width="3.0" height="3.0" fill="#ee5a1e" stroke="#5a200a"/><rect x="104.0" y="351.8" width="3.0" height="3.0" fill="#ee5a1e" stroke="#5a200a"/><rect x="121.0" y="367.9" width="3.0" height="3.0" fill="#e6401e" stroke="#5a1a0a"/><rect x="139.2" y="362.9" width="3.0" height="3.0" fill="#f28a1a" stroke="#5a300a"/><rect x="192.3" y="378.1" width="3.0" height="3.0" fill="#f6ea00" stroke="#5a4a10"/><rect x="151.5" y="373.8" width="3.0" height="3.0" fill="#ee5a1e" stroke="#5a200a"/><rect x="168.4" y="382.6" width="3.0" height="3.0" fill="#f6b414" stroke="#5a400a"/><rect x="169.8" y="343.6" width="3.0" height="3.0" fill="#e6401e" stroke="#5a1a0a"/><rect x="203.6" y="356.9" width="3.0" height="3.0" fill="#f6ea00" stroke="#5a4a10"/><rect x="125.5" y="365.0" width="3.0" height="3.0" fill="#ee5a1e" stroke="#5a200a"/><rect x="193.3" y="370.9" width="3.0" height="3.0" fill="#f6ea00" stroke="#5a4a10"/><rect x="195.0" y="282.3" width="3.0" height="3.0" fill="#e6401e" stroke="#5a1a0a"/><rect x="100.3" y="359.7" width="3.0" height="3.0" fill="#e6401e" stroke="#5a1a0a"/><rect x="180.6" y="366.9" width="3.0" height="3.0" fill="#f6ea00" stroke="#5a4a10"/><rect x="143.5" y="365.4" width="3.0" height="3.0" fill="#e6401e" stroke="#5a1a0a"/><rect x="197.7" y="365.5" width="3.0" height="3.0" fill="#ee5a1e" stroke="#5a200a"/><rect x="197.4" y="359.7" width="3.0" height="3.0" fill="#f6ea00" stroke="#5a4a10"/><rect x="156.0" y="357.4" width="3.0" height="3.0" fill="#e6401e" stroke="#5a1a0a"/><rect x="160.8" y="351.4" width="3.0" height="3.0" fill="#ee5a1e" stroke="#5a200a"/><rect x="181.9" y="439.4" width="3.0" height="3.0" fill="#e6401e" stroke="#5a1a0a"/><rect x="146.6" y="357.7" width="3.0" height="3.0" fill="#f6b414" stroke="#5a400a"/><rect x="125.5" y="360.1" width="3.0" height="3.0" fill="#ee5a1e" stroke="#5a200a"/><rect x="48.8" y="419.3" width="3.0" height="3.0" fill="#ee5a1e" stroke="#5a200a"/><rect x="190.7" y="376.1" width="3.0" height="3.0" fill="#f6ea00" stroke="#5a4a10"/><rect x="145.3" y="362.9" width="3.0" height="3.0" fill="#ee5a1e" stroke="#5a200a"/><rect x="176.1" y="408.3" width="3.0" height="3.0" fill="#f28a1a" stroke="#5a300a"/><rect x="181.1" y="368.9" width="3.0" height="3.0" fill="#f28a1a" stroke="#5a300a"/><rect x="141.1" y="381.2" width="3.0" height="3.0" fill="#ee5a1e" stroke="#5a200a"/><rect x="170.1" y="418.2" width="3.0" height="3.0" fill="#e6401e" stroke="#5a1a0a"/><rect x="171.6" y="354.9" width="3.0" height="3.0" fill="#f28a1a" stroke="#5a300a"/><rect x="107.6" y="345.2" width="3.0" height="3.0" fill="#ee5a1e" stroke="#5a200a"/><rect x="132.4" y="400.1" width="3.0" height="3.0" fill="#ee5a1e" stroke="#5a200a"/><rect x="181.3" y="378.3" width="3.0" height="3.0" fill="#ee5a1e" stroke="#5a200a"/><rect x="194.2" y="376.0" width="3.0" height="3.0" fill="#f6b414" stroke="#5a400a"/><rect x="201.1" y="384.3" width="3.0" height="3.0" fill="#f6b414" stroke="#5a400a"/><rect x="123.5" y="376.2" width="3.0" height="3.0" fill="#ee5a1e" stroke="#5a200a"/><rect x="184.1" y="394.0" width="3.0" height="3.0" fill="#f28a1a" stroke="#5a300a"/><rect x="148.7" y="367.8" width="3.0" height="3.0" fill="#f28a1a" stroke="#5a300a"/><rect x="181.7" y="396.4" width="3.0" height="3.0" fill="#ee5a1e" stroke="#5a200a"/><rect x="205.2" y="335.9" width="3.0" height="3.0" fill="#e6401e" stroke="#5a1a0a"/><rect x="125.3" y="336.8" width="3.0" height="3.0" fill="#e6401e" stroke="#5a1a0a"/><rect x="149.6" y="339.5" width="3.0" height="3.0" fill="#e6401e" stroke="#5a1a0a"/><rect x="174.8" y="383.0" width="3.0" height="3.0" fill="#f6b414" stroke="#5a400a"/><rect x="171.9" y="386.7" width="3.0" height="3.0" fill="#f6b414" stroke="#5a400a"/><rect x="135.8" y="340.3" width="3.0" height="3.0" fill="#e6401e" stroke="#5a1a0a"/><rect x="176.4" y="342.4" width="3.0" height="3.0" fill="#ee5a1e" stroke="#5a200a"/><rect x="172.6" y="369.6" width="3.0" height="3.0" fill="#f28a1a" stroke="#5a300a"/><rect x="184.8" y="345.2" width="3.0" height="3.0" fill="#e6401e" stroke="#5a1a0a"/><rect x="154.9" y="427.9" width="3.0" height="3.0" fill="#e6401e" stroke="#5a1a0a"/><rect x="169.5" y="389.1" width="3.0" height="3.0" fill="#f6b414" stroke="#5a400a"/><rect x="143.3" y="409.1" width="3.0" height="3.0" fill="#ee5a1e" stroke="#5a200a"/><rect x="181.1" y="384.9" width="3.0" height="3.0" fill="#ee5a1e" stroke="#5a200a"/><rect x="148.8" y="333.9" width="3.0" height="3.0" fill="#e6401e" stroke="#5a1a0a"/><rect x="143.7" y="339.8" width="3.0" height="3.0" fill="#ee5a1e" stroke="#5a200a"/><rect x="135.0" y="335.5" width="3.0" height="3.0" fill="#e6401e" stroke="#5a1a0a"/><rect x="222.8" y="406.1" width="3.0" height="3.0" fill="#e6401e" stroke="#5a1a0a"/><rect x="201.7" y="423.1" width="3.0" height="3.0" fill="#e6401e" stroke="#5a1a0a"/><rect x="78.7" y="378.0" width="3.0" height="3.0" fill="#ee5a1e" stroke="#5a200a"/><rect x="154.3" y="379.5" width="3.0" height="3.0" fill="#f28a1a" stroke="#5a300a"/><rect x="118.6" y="408.1" width="3.0" height="3.0" fill="#ee5a1e" stroke="#5a200a"/><rect x="195.5" y="341.7" width="3.0" height="3.0" fill="#ee5a1e" stroke="#5a200a"/><rect x="221.2" y="392.5" width="3.0" height="3.0" fill="#e6401e" stroke="#5a1a0a"/><rect x="176.0" y="367.3" width="3.0" height="3.0" fill="#ee5a1e" stroke="#5a200a"/><rect x="207.4" y="289.1" width="3.0" height="3.0" fill="#e6401e" stroke="#5a1a0a"/><rect x="185.0" y="377.3" width="3.0" height="3.0" fill="#ee5a1e" stroke="#5a200a"/><rect x="188.3" y="372.5" width="3.0" height="3.0" fill="#f6ea00" stroke="#5a4a10"/><rect x="145.6" y="295.2" width="3.0" height="3.0" fill="#f28a1a" stroke="#5a300a"/><rect x="203.0" y="354.4" width="3.0" height="3.0" fill="#f6b414" stroke="#5a400a"/><rect x="138.2" y="330.6" width="3.0" height="3.0" fill="#e6401e" stroke="#5a1a0a"/><rect x="116.8" y="371.7" width="3.0" height="3.0" fill="#e6401e" stroke="#5a1a0a"/><rect x="144.1" y="345.9" width="3.0" height="3.0" fill="#e6401e" stroke="#5a1a0a"/><rect x="166.6" y="321.8" width="3.0" height="3.0" fill="#e6401e" stroke="#5a1a0a"/><rect x="162.8" y="415.2" width="3.0" height="3.0" fill="#e6401e" stroke="#5a1a0a"/><rect x="171.2" y="363.3" width="3.0" height="3.0" fill="#e6401e" stroke="#5a1a0a"/><rect x="85.2" y="358.1" width="3.0" height="3.0" fill="#e6401e" stroke="#5a1a0a"/><rect x="133.6" y="361.3" width="3.0" height="3.0" fill="#f28a1a" stroke="#5a300a"/><rect x="131.8" y="390.4" width="3.0" height="3.0" fill="#ee5a1e" stroke="#5a200a"/><rect x="166.7" y="390.4" width="3.0" height="3.0" fill="#ee5a1e" stroke="#5a200a"/><rect x="167.9" y="379.4" width="3.0" height="3.0" fill="#f28a1a" stroke="#5a300a"/><rect x="201.4" y="352.0" width="3.0" height="3.0" fill="#f28a1a" stroke="#5a300a"/><rect x="108.2" y="370.5" width="3.0" height="3.0" fill="#e6401e" stroke="#5a1a0a"/><rect x="192.9" y="303.2" width="3.0" height="3.0" fill="#e6401e" stroke="#5a1a0a"/><rect x="146.9" y="366.1" width="3.0" height="3.0" fill="#f6b414" stroke="#5a400a"/><rect x="184.4" y="356.9" width="3.0" height="3.0" fill="#f6ea00" stroke="#5a4a10"/><rect x="196.2" y="367.5" width="3.0" height="3.0" fill="#f6ea00" stroke="#5a4a10"/><rect x="146.6" y="355.3" width="3.0" height="3.0" fill="#e6401e" stroke="#5a1a0a"/><rect x="156.3" y="447.6" width="3.0" height="3.0" fill="#e6401e" stroke="#5a1a0a"/><rect x="106.4" y="371.7" width="3.0" height="3.0" fill="#e6401e" stroke="#5a1a0a"/><rect x="92.4" y="405.9" width="3.0" height="3.0" fill="#e6401e" stroke="#5a1a0a"/><rect x="143.5" y="358.3" width="3.0" height="3.0" fill="#f28a1a" stroke="#5a300a"/><rect x="135.6" y="337.5" width="3.0" height="3.0" fill="#ee5a1e" stroke="#5a200a"/><rect x="192.4" y="357.4" width="3.0" height="3.0" fill="#f6ea00" stroke="#5a4a10"/><rect x="113.8" y="375.1" width="3.0" height="3.0" fill="#e6401e" stroke="#5a1a0a"/><rect x="29.1" y="422.3" width="3.0" height="3.0" fill="#e6401e" stroke="#5a1a0a"/><rect x="168.8" y="364.9" width="3.0" height="3.0" fill="#f6ea00" stroke="#5a4a10"/><rect x="171.9" y="436.4" width="3.0" height="3.0" fill="#e6401e" stroke="#5a1a0a"/><rect x="175.4" y="377.3" width="3.0" height="3.0" fill="#f6b414" stroke="#5a400a"/><rect x="184.9" y="345.8" width="3.0" height="3.0" fill="#e6401e" stroke="#5a1a0a"/><rect x="181.8" y="358.4" width="3.0" height="3.0" fill="#ee5a1e" stroke="#5a200a"/><rect x="196.2" y="347.2" width="3.0" height="3.0" fill="#ee5a1e" stroke="#5a200a"/><rect x="165.8" y="342.8" width="3.0" height="3.0" fill="#e6401e" stroke="#5a1a0a"/><rect x="159.3" y="325.5" width="3.0" height="3.0" fill="#e6401e" stroke="#5a1a0a"/><rect x="232.1" y="402.5" width="3.0" height="3.0" fill="#e6401e" stroke="#5a1a0a"/><rect x="161.0" y="337.9" width="3.0" height="3.0" fill="#e6401e" stroke="#5a1a0a"/><rect x="131.1" y="369.7" width="3.0" height="3.0" fill="#ee5a1e" stroke="#5a200a"/><rect x="180.1" y="345.9" width="3.0" height="3.0" fill="#e6401e" stroke="#5a1a0a"/><rect x="262.4" y="412.3" width="3.0" height="3.0" fill="#f28a1a" stroke="#5a300a"/><rect x="246.7" y="331.5" width="3.0" height="3.0" fill="#f6b414" stroke="#5a400a"/><rect x="244.8" y="340.7" width="3.0" height="3.0" fill="#4a2286" stroke="#1a0a30"/><rect x="247.0" y="356.3" width="3.0" height="3.0" fill="#3a5ab0" stroke="#101840"/><rect x="235.6" y="322.5" width="3.0" height="3.0" fill="#f6ea00" stroke="#5a4a10"/><rect x="235.0" y="364.7" width="3.0" height="3.0" fill="#4a2286" stroke="#1a0a30"/><rect x="212.3" y="318.0" width="3.0" height="3.0" fill="#4a2286" stroke="#1a0a30"/><rect x="227.5" y="322.3" width="3.0" height="3.0" fill="#4a2286" stroke="#1a0a30"/><rect x="224.9" y="335.4" width="3.0" height="3.0" fill="#4a2286" stroke="#1a0a30"/><rect x="226.6" y="335.9" width="3.0" height="3.0" fill="#4a2286" stroke="#1a0a30"/><rect x="229.3" y="368.2" width="3.0" height="3.0" fill="#3a5ab0" stroke="#101840"/><rect x="228.4" y="347.3" width="3.0" height="3.0" fill="#3a5ab0" stroke="#101840"/><rect x="210.7" y="336.7" width="3.0" height="3.0" fill="#4a2286" stroke="#1a0a30"/><rect x="242.6" y="320.7" width="3.0" height="3.0" fill="#ee5a1e" stroke="#5a200a"/><rect x="228.7" y="379.0" width="3.0" height="3.0" fill="#f6ea00" stroke="#5a4a10"/><rect x="235.0" y="364.5" width="3.0" height="3.0" fill="#4a2286" stroke="#1a0a30"/><rect x="215.9" y="329.3" width="3.0" height="3.0" fill="#4a2286" stroke="#1a0a30"/><rect x="219.8" y="328.0" width="3.0" height="3.0" fill="#4a2286" stroke="#1a0a30"/><rect x="214.4" y="324.3" width="3.0" height="3.0" fill="#4a2286" stroke="#1a0a30"/><rect x="208.8" y="328.4" width="3.0" height="3.0" fill="#4a2286" stroke="#1a0a30"/><rect x="233.6" y="361.9" width="3.0" height="3.0" fill="#3a5ab0" stroke="#101840"/><rect x="237.6" y="351.3" width="3.0" height="3.0" fill="#4a2286" stroke="#1a0a30"/><rect x="224.8" y="321.7" width="3.0" height="3.0" fill="#4a2286" stroke="#1a0a30"/><rect x="212.3" y="343.7" width="3.0" height="3.0" fill="#4a2286" stroke="#1a0a30"/><rect x="217.6" y="345.5" width="3.0" height="3.0" fill="#4a2286" stroke="#1a0a30"/><rect x="211.0" y="365.4" width="3.0" height="3.0" fill="#4a2286" stroke="#1a0a30"/><rect x="209.4" y="362.7" width="3.0" height="3.0" fill="#4a2286" stroke="#1a0a30"/><rect x="221.2" y="332.9" width="3.0" height="3.0" fill="#4a2286" stroke="#1a0a30"/><rect x="222.0" y="324.9" width="3.0" height="3.0" fill="#4a2286" stroke="#1a0a30"/><rect x="215.1" y="316.2" width="3.0" height="3.0" fill="#3a5ab0" stroke="#101840"/><rect x="213.2" y="344.4" width="3.0" height="3.0" fill="#4a2286" stroke="#1a0a30"/><rect x="245.8" y="328.2" width="3.0" height="3.0" fill="#4a2286" stroke="#1a0a30"/><rect x="231.3" y="331.0" width="3.0" height="3.0" fill="#f6b414" stroke="#5a400a"/><rect x="209.2" y="336.3" width="3.0" height="3.0" fill="#4a2286" stroke="#1a0a30"/><rect x="246.1" y="321.9" width="3.0" height="3.0" fill="#4a2286" stroke="#1a0a30"/><rect x="215.7" y="350.8" width="3.0" height="3.0" fill="#4a2286" stroke="#1a0a30"/><rect x="248.9" y="335.8" width="3.0" height="3.0" fill="#f6ea00" stroke="#5a4a10"/><rect x="238.6" y="365.2" width="3.0" height="3.0" fill="#4a2286" stroke="#1a0a30"/><rect x="237.0" y="360.1" width="3.0" height="3.0" fill="#4a2286" stroke="#1a0a30"/><rect x="237.4" y="353.6" width="3.0" height="3.0" fill="#3a5ab0" stroke="#101840"/><rect x="244.1" y="362.9" width="3.0" height="3.0" fill="#4a2286" stroke="#1a0a30"/><rect x="250.9" y="346.8" width="3.0" height="3.0" fill="#f28a1a" stroke="#5a300a"/><rect x="222.7" y="335.0" width="3.0" height="3.0" fill="#4a2286" stroke="#1a0a30"/><rect x="225.9" y="345.7" width="3.0" height="3.0" fill="#4a2286" stroke="#1a0a30"/><rect x="219.2" y="325.9" width="3.0" height="3.0" fill="#4a2286" stroke="#1a0a30"/><rect x="243.7" y="339.8" width="3.0" height="3.0" fill="#f6b414" stroke="#5a400a"/><rect x="232.7" y="367.4" width="3.0" height="3.0" fill="#4a2286" stroke="#1a0a30"/><rect x="208.8" y="329.7" width="3.0" height="3.0" fill="#4a2286" stroke="#1a0a30"/><rect x="214.3" y="340.8" width="3.0" height="3.0" fill="#3a5ab0" stroke="#101840"/><rect x="229.5" y="368.5" width="3.0" height="3.0" fill="#4a2286" stroke="#1a0a30"/><rect x="223.0" y="347.8" width="3.0" height="3.0" fill="#4a2286" stroke="#1a0a30"/><rect x="224.7" y="337.2" width="3.0" height="3.0" fill="#4a2286" stroke="#1a0a30"/><rect x="243.1" y="349.8" width="3.0" height="3.0" fill="#4a2286" stroke="#1a0a30"/><rect x="218.0" y="341.1" width="3.0" height="3.0" fill="#4a2286" stroke="#1a0a30"/><rect x="244.0" y="340.7" width="3.0" height="3.0" fill="#4a2286" stroke="#1a0a30"/><rect x="248.3" y="339.5" width="3.0" height="3.0" fill="#f6b414" stroke="#5a400a"/><rect x="249.2" y="344.2" width="3.0" height="3.0" fill="#f6ea00" stroke="#5a4a10"/><rect x="228.2" y="367.8" width="3.0" height="3.0" fill="#3a5ab0" stroke="#101840"/><rect x="241.5" y="349.2" width="3.0" height="3.0" fill="#f6ea00" stroke="#5a4a10"/><rect x="228.1" y="340.1" width="3.0" height="3.0" fill="#f6ea00" stroke="#5a4a10"/><rect x="222.6" y="378.0" width="3.0" height="3.0" fill="#4a2286" stroke="#1a0a30"/><rect x="210.2" y="322.0" width="3.0" height="3.0" fill="#4a2286" stroke="#1a0a30"/><rect x="238.7" y="345.4" width="3.0" height="3.0" fill="#4a2286" stroke="#1a0a30"/><rect x="238.0" y="341.1" width="3.0" height="3.0" fill="#4a2286" stroke="#1a0a30"/><rect x="246.1" y="322.6" width="3.0" height="3.0" fill="#f6ea00" stroke="#5a4a10"/><rect x="242.4" y="336.1" width="3.0" height="3.0" fill="#f6b414" stroke="#5a400a"/><rect x="207.3" y="369.5" width="3.0" height="3.0" fill="#4a2286" stroke="#1a0a30"/><rect x="228.8" y="370.3" width="3.0" height="3.0" fill="#4a2286" stroke="#1a0a30"/><rect x="230.9" y="367.0" width="3.0" height="3.0" fill="#4a2286" stroke="#1a0a30"/><rect x="220.9" y="359.6" width="3.0" height="3.0" fill="#4a2286" stroke="#1a0a30"/><rect x="210.2" y="323.7" width="3.0" height="3.0" fill="#4a2286" stroke="#1a0a30"/><rect x="214.7" y="350.7" width="3.0" height="3.0" fill="#4a2286" stroke="#1a0a30"/><rect x="247.2" y="339.6" width="3.0" height="3.0" fill="#4a2286" stroke="#1a0a30"/><rect x="213.3" y="320.0" width="3.0" height="3.0" fill="#4a2286" stroke="#1a0a30"/><rect x="226.0" y="321.0" width="3.0" height="3.0" fill="#f6ea00" stroke="#5a4a10"/><rect x="224.0" y="368.2" width="3.0" height="3.0" fill="#4a2286" stroke="#1a0a30"/><rect x="229.3" y="328.8" width="3.0" height="3.0" fill="#f6ea00" stroke="#5a4a10"/><rect x="215.0" y="319.3" width="3.0" height="3.0" fill="#4a2286" stroke="#1a0a30"/><rect x="243.5" y="322.3" width="3.0" height="3.0" fill="#4a2286" stroke="#1a0a30"/><rect x="211.1" y="337.9" width="3.0" height="3.0" fill="#4a2286" stroke="#1a0a30"/><rect x="219.4" y="368.0" width="3.0" height="3.0" fill="#3a5ab0" stroke="#101840"/><rect x="240.2" y="321.6" width="3.0" height="3.0" fill="#3a5ab0" stroke="#101840"/><rect x="229.3" y="329.3" width="3.0" height="3.0" fill="#4a2286" stroke="#1a0a30"/><rect x="243.9" y="350.3" width="3.0" height="3.0" fill="#4a2286" stroke="#1a0a30"/><rect x="218.0" y="376.0" width="3.0" height="3.0" fill="#e6401e" stroke="#5a1a0a"/><rect x="217.6" y="319.3" width="3.0" height="3.0" fill="#4a2286" stroke="#1a0a30"/><rect x="250.2" y="345.5" width="3.0" height="3.0" fill="#f6ea00" stroke="#5a4a10"/><rect x="239.7" y="334.5" width="3.0" height="3.0" fill="#4a2286" stroke="#1a0a30"/><rect x="233.9" y="356.1" width="3.0" height="3.0" fill="#4a2286" stroke="#1a0a30"/><rect x="214.5" y="377.0" width="3.0" height="3.0" fill="#e6401e" stroke="#5a1a0a"/><rect x="222.5" y="326.4" width="3.0" height="3.0" fill="#4a2286" stroke="#1a0a30"/><rect x="223.0" y="326.5" width="3.0" height="3.0" fill="#4a2286" stroke="#1a0a30"/><rect x="234.3" y="361.8" width="3.0" height="3.0" fill="#f6ea00" stroke="#5a4a10"/><rect x="216.1" y="353.3" width="3.0" height="3.0" fill="#4a2286" stroke="#1a0a30"/><rect x="249.0" y="354.7" width="3.0" height="3.0" fill="#f6ea00" stroke="#5a4a10"/><rect x="209.1" y="361.7" width="3.0" height="3.0" fill="#4a2286" stroke="#1a0a30"/><rect x="245.2" y="333.2" width="3.0" height="3.0" fill="#4a2286" stroke="#1a0a30"/><rect x="209.9" y="320.4" width="3.0" height="3.0" fill="#4a2286" stroke="#1a0a30"/><rect x="216.0" y="366.6" width="3.0" height="3.0" fill="#4a2286" stroke="#1a0a30"/><rect x="208.9" y="327.4" width="3.0" height="3.0" fill="#4a2286" stroke="#1a0a30"/><rect x="232.8" y="334.1" width="3.0" height="3.0" fill="#4a2286" stroke="#1a0a30"/><rect x="251.1" y="331.8" width="3.0" height="3.0" fill="#f28a1a" stroke="#5a300a"/><rect x="221.2" y="328.0" width="3.0" height="3.0" fill="#4a2286" stroke="#1a0a30"/><rect x="227.6" y="330.9" width="3.0" height="3.0" fill="#4a2286" stroke="#1a0a30"/><rect x="225.7" y="353.8" width="3.0" height="3.0" fill="#4a2286" stroke="#1a0a30"/><rect x="230.7" y="374.0" width="3.0" height="3.0" fill="#4a2286" stroke="#1a0a30"/><rect x="224.2" y="315.8" width="3.0" height="3.0" fill="#f6ea00" stroke="#5a4a10"/><rect x="218.5" y="348.9" width="3.0" height="3.0" fill="#4a2286" stroke="#1a0a30"/><rect x="252.6" y="316.4" width="3.0" height="3.0" fill="#3a5ab0" stroke="#101840"/><rect x="240.3" y="333.8" width="3.0" height="3.0" fill="#4a2286" stroke="#1a0a30"/><rect x="227.2" y="343.4" width="3.0" height="3.0" fill="#4a2286" stroke="#1a0a30"/><rect x="227.5" y="352.4" width="3.0" height="3.0" fill="#f6ea00" stroke="#5a4a10"/><rect x="242.9" y="364.8" width="3.0" height="3.0" fill="#4a2286" stroke="#1a0a30"/><rect x="247.4" y="352.0" width="3.0" height="3.0" fill="#f6ea00" stroke="#5a4a10"/><rect x="220.1" y="352.9" width="3.0" height="3.0" fill="#4a2286" stroke="#1a0a30"/><rect x="228.0" y="365.1" width="3.0" height="3.0" fill="#4a2286" stroke="#1a0a30"/><rect x="210.0" y="343.5" width="3.0" height="3.0" fill="#4a2286" stroke="#1a0a30"/><rect x="234.7" y="344.7" width="3.0" height="3.0" fill="#3a5ab0" stroke="#101840"/><rect x="237.9" y="346.1" width="3.0" height="3.0" fill="#4a2286" stroke="#1a0a30"/><rect x="230.5" y="358.4" width="3.0" height="3.0" fill="#4a2286" stroke="#1a0a30"/><rect x="228.2" y="332.6" width="3.0" height="3.0" fill="#4a2286" stroke="#1a0a30"/><rect x="220.7" y="345.6" width="3.0" height="3.0" fill="#4a2286" stroke="#1a0a30"/><rect x="221.0" y="352.2" width="3.0" height="3.0" fill="#4a2286" stroke="#1a0a30"/><rect x="227.9" y="353.1" width="3.0" height="3.0" fill="#3a5ab0" stroke="#101840"/><rect x="253.2" y="322.1" width="3.0" height="3.0" fill="#4a2286" stroke="#1a0a30"/><rect x="239.3" y="335.8" width="3.0" height="3.0" fill="#f6ea00" stroke="#5a4a10"/><rect x="252.9" y="347.6" width="3.0" height="3.0" fill="#f28a1a" stroke="#5a300a"/><rect x="227.7" y="342.1" width="3.0" height="3.0" fill="#f6ea00" stroke="#5a4a10"/><rect x="248.5" y="325.8" width="3.0" height="3.0" fill="#ee5a1e" stroke="#5a200a"/><rect x="231.2" y="339.4" width="3.0" height="3.0" fill="#4a2286" stroke="#1a0a30"/><rect x="221.9" y="326.7" width="3.0" height="3.0" fill="#4a2286" stroke="#1a0a30"/><rect x="222.5" y="335.8" width="3.0" height="3.0" fill="#4a2286" stroke="#1a0a30"/><rect x="217.7" y="366.1" width="3.0" height="3.0" fill="#4a2286" stroke="#1a0a30"/><rect x="235.3" y="333.5" width="3.0" height="3.0" fill="#4a2286" stroke="#1a0a30"/><rect x="210.2" y="356.0" width="3.0" height="3.0" fill="#3a5ab0" stroke="#101840"/><rect x="235.4" y="349.2" width="3.0" height="3.0" fill="#f6ea00" stroke="#5a4a10"/><rect x="224.9" y="358.6" width="3.0" height="3.0" fill="#4a2286" stroke="#1a0a30"/><rect x="241.4" y="329.7" width="3.0" height="3.0" fill="#f6ea00" stroke="#5a4a10"/><rect x="224.0" y="330.3" width="3.0" height="3.0" fill="#4a2286" stroke="#1a0a30"/><rect x="209.4" y="349.7" width="3.0" height="3.0" fill="#4a2286" stroke="#1a0a30"/><rect x="228.3" y="337.3" width="3.0" height="3.0" fill="#4a2286" stroke="#1a0a30"/><rect x="242.8" y="345.7" width="3.0" height="3.0" fill="#4a2286" stroke="#1a0a30"/><rect x="243.9" y="367.9" width="3.0" height="3.0" fill="#4a2286" stroke="#1a0a30"/><rect x="226.6" y="344.3" width="3.0" height="3.0" fill="#4a2286" stroke="#1a0a30"/><rect x="236.9" y="356.1" width="3.0" height="3.0" fill="#4a2286" stroke="#1a0a30"/><rect x="240.6" y="368.4" width="3.0" height="3.0" fill="#4a2286" stroke="#1a0a30"/><rect x="221.0" y="333.0" width="3.0" height="3.0" fill="#4a2286" stroke="#1a0a30"/><rect x="234.5" y="324.1" width="3.0" height="3.0" fill="#4a2286" stroke="#1a0a30"/><rect x="240.3" y="360.0" width="3.0" height="3.0" fill="#f6ea00" stroke="#5a4a10"/><rect x="237.9" y="361.9" width="3.0" height="3.0" fill="#4a2286" stroke="#1a0a30"/><rect x="240.6" y="345.5" width="3.0" height="3.0" fill="#f6ea00" stroke="#5a4a10"/><rect x="224.5" y="362.9" width="3.0" height="3.0" fill="#4a2286" stroke="#1a0a30"/><rect x="227.9" y="327.7" width="3.0" height="3.0" fill="#3a5ab0" stroke="#101840"/><rect x="230.5" y="322.3" width="3.0" height="3.0" fill="#ee5a1e" stroke="#5a200a"/><rect x="226.0" y="326.6" width="3.0" height="3.0" fill="#4a2286" stroke="#1a0a30"/><rect x="211.7" y="353.4" width="3.0" height="3.0" fill="#4a2286" stroke="#1a0a30"/><rect x="220.3" y="345.3" width="3.0" height="3.0" fill="#4a2286" stroke="#1a0a30"/><rect x="209.8" y="363.3" width="3.0" height="3.0" fill="#4a2286" stroke="#1a0a30"/><rect x="223.8" y="342.7" width="3.0" height="3.0" fill="#4a2286" stroke="#1a0a30"/><rect x="210.6" y="355.6" width="3.0" height="3.0" fill="#4a2286" stroke="#1a0a30"/><rect x="225.2" y="345.2" width="3.0" height="3.0" fill="#4a2286" stroke="#1a0a30"/><rect x="241.6" y="349.7" width="3.0" height="3.0" fill="#f6ea00" stroke="#5a4a10"/><rect x="229.6" y="323.7" width="3.0" height="3.0" fill="#3a5ab0" stroke="#101840"/><rect x="219.1" y="339.5" width="3.0" height="3.0" fill="#4a2286" stroke="#1a0a30"/><rect x="211.4" y="355.9" width="3.0" height="3.0" fill="#4a2286" stroke="#1a0a30"/><rect x="222.3" y="337.5" width="3.0" height="3.0" fill="#4a2286" stroke="#1a0a30"/><rect x="251.3" y="343.3" width="3.0" height="3.0" fill="#f6b414" stroke="#5a400a"/><rect x="245.0" y="336.5" width="3.0" height="3.0" fill="#f6b414" stroke="#5a400a"/><rect x="238.4" y="346.7" width="3.0" height="3.0" fill="#4a2286" stroke="#1a0a30"/><rect x="242.8" y="347.0" width="3.0" height="3.0" fill="#f6ea00" stroke="#5a4a10"/><rect x="217.2" y="353.0" width="3.0" height="3.0" fill="#4a2286" stroke="#1a0a30"/><rect x="249.6" y="344.0" width="3.0" height="3.0" fill="#f6b414" stroke="#5a400a"/><rect x="207.3" y="358.4" width="3.0" height="3.0" fill="#f6ea00" stroke="#5a4a10"/><rect x="241.7" y="380.4" width="3.0" height="3.0" fill="#4a2286" stroke="#1a0a30"/><rect x="250.2" y="341.5" width="3.0" height="3.0" fill="#f6ea00" stroke="#5a4a10"/><rect x="224.5" y="325.3" width="3.0" height="3.0" fill="#4a2286" stroke="#1a0a30"/><rect x="214.3" y="357.6" width="3.0" height="3.0" fill="#4a2286" stroke="#1a0a30"/><rect x="237.7" y="327.2" width="3.0" height="3.0" fill="#4a2286" stroke="#1a0a30"/><rect x="245.8" y="327.9" width="3.0" height="3.0" fill="#f6ea00" stroke="#5a4a10"/><rect x="209.3" y="335.4" width="3.0" height="3.0" fill="#4a2286" stroke="#1a0a30"/><rect x="240.7" y="362.0" width="3.0" height="3.0" fill="#3a5ab0" stroke="#101840"/><rect x="243.0" y="365.7" width="3.0" height="3.0" fill="#4a2286" stroke="#1a0a30"/><rect x="219.6" y="328.4" width="3.0" height="3.0" fill="#4a2286" stroke="#1a0a30"/><rect x="207.6" y="355.6" width="3.0" height="3.0" fill="#4a2286" stroke="#1a0a30"/><rect x="249.4" y="329.6" width="3.0" height="3.0" fill="#f6ea00" stroke="#5a4a10"/><rect x="223.0" y="350.1" width="3.0" height="3.0" fill="#4a2286" stroke="#1a0a30"/><rect x="208.4" y="339.7" width="3.0" height="3.0" fill="#4a2286" stroke="#1a0a30"/><rect x="213.4" y="329.2" width="3.0" height="3.0" fill="#4a2286" stroke="#1a0a30"/><rect x="241.4" y="352.2" width="3.0" height="3.0" fill="#4a2286" stroke="#1a0a30"/><rect x="223.0" y="350.0" width="3.0" height="3.0" fill="#4a2286" stroke="#1a0a30"/><rect x="224.8" y="346.7" width="3.0" height="3.0" fill="#4a2286" stroke="#1a0a30"/><rect x="242.4" y="329.4" width="3.0" height="3.0" fill="#4a2286" stroke="#1a0a30"/><rect x="239.8" y="374.0" width="3.0" height="3.0" fill="#f28a1a" stroke="#5a300a"/><rect x="210.8" y="330.3" width="3.0" height="3.0" fill="#4a2286" stroke="#1a0a30"/><rect x="239.0" y="325.6" width="3.0" height="3.0" fill="#ee5a1e" stroke="#5a200a"/><rect x="216.6" y="343.9" width="3.0" height="3.0" fill="#4a2286" stroke="#1a0a30"/><rect x="218.6" y="327.3" width="3.0" height="3.0" fill="#3a5ab0" stroke="#101840"/><rect x="238.3" y="360.6" width="3.0" height="3.0" fill="#4a2286" stroke="#1a0a30"/><rect x="240.7" y="354.4" width="3.0" height="3.0" fill="#3a5ab0" stroke="#101840"/><rect x="217.7" y="357.1" width="3.0" height="3.0" fill="#3a5ab0" stroke="#101840"/><rect x="233.1" y="341.1" width="3.0" height="3.0" fill="#f6ea00" stroke="#5a4a10"/><rect x="216.9" y="357.2" width="3.0" height="3.0" fill="#3a5ab0" stroke="#101840"/><rect x="237.3" y="342.0" width="3.0" height="3.0" fill="#4a2286" stroke="#1a0a30"/><rect x="228.6" y="329.6" width="3.0" height="3.0" fill="#3a5ab0" stroke="#101840"/><rect x="207.7" y="342.7" width="3.0" height="3.0" fill="#4a2286" stroke="#1a0a30"/><rect x="228.6" y="341.8" width="3.0" height="3.0" fill="#4a2286" stroke="#1a0a30"/><rect x="210.7" y="326.9" width="3.0" height="3.0" fill="#4a2286" stroke="#1a0a30"/><rect x="227.3" y="346.5" width="3.0" height="3.0" fill="#4a2286" stroke="#1a0a30"/><rect x="227.1" y="358.0" width="3.0" height="3.0" fill="#4a2286" stroke="#1a0a30"/><rect x="237.1" y="350.7" width="3.0" height="3.0" fill="#4a2286" stroke="#1a0a30"/><rect x="220.0" y="317.0" width="3.0" height="3.0" fill="#4a2286" stroke="#1a0a30"/><rect x="214.1" y="339.9" width="3.0" height="3.0" fill="#4a2286" stroke="#1a0a30"/><rect x="208.4" y="331.7" width="3.0" height="3.0" fill="#4a2286" stroke="#1a0a30"/><rect x="224.8" y="338.0" width="3.0" height="3.0" fill="#4a2286" stroke="#1a0a30"/><rect x="223.6" y="374.5" width="3.0" height="3.0" fill="#4a2286" stroke="#1a0a30"/><rect x="221.0" y="352.9" width="3.0" height="3.0" fill="#4a2286" stroke="#1a0a30"/><rect x="227.1" y="338.7" width="3.0" height="3.0" fill="#4a2286" stroke="#1a0a30"/><rect x="237.7" y="342.4" width="3.0" height="3.0" fill="#4a2286" stroke="#1a0a30"/><rect x="211.8" y="322.5" width="3.0" height="3.0" fill="#4a2286" stroke="#1a0a30"/><rect x="214.0" y="341.9" width="3.0" height="3.0" fill="#4a2286" stroke="#1a0a30"/><rect x="240.0" y="319.9" width="3.0" height="3.0" fill="#4a2286" stroke="#1a0a30"/><rect x="223.1" y="369.5" width="3.0" height="3.0" fill="#3a5ab0" stroke="#101840"/><rect x="222.2" y="348.5" width="3.0" height="3.0" fill="#4a2286" stroke="#1a0a30"/><rect x="213.2" y="331.9" width="3.0" height="3.0" fill="#4a2286" stroke="#1a0a30"/><rect x="214.9" y="352.5" width="3.0" height="3.0" fill="#4a2286" stroke="#1a0a30"/><rect x="212.0" y="334.6" width="3.0" height="3.0" fill="#4a2286" stroke="#1a0a30"/><rect x="242.6" y="322.0" width="3.0" height="3.0" fill="#e6401e" stroke="#5a1a0a"/><rect x="214.7" y="333.3" width="3.0" height="3.0" fill="#4a2286" stroke="#1a0a30"/><rect x="218.3" y="337.6" width="3.0" height="3.0" fill="#4a2286" stroke="#1a0a30"/><rect x="236.3" y="358.5" width="3.0" height="3.0" fill="#4a2286" stroke="#1a0a30"/><rect x="210.4" y="367.5" width="3.0" height="3.0" fill="#4a2286" stroke="#1a0a30"/><rect x="208.9" y="351.2" width="3.0" height="3.0" fill="#4a2286" stroke="#1a0a30"/><rect x="214.2" y="321.6" width="3.0" height="3.0" fill="#4a2286" stroke="#1a0a30"/><rect x="228.2" y="341.2" width="3.0" height="3.0" fill="#f6ea00" stroke="#5a4a10"/><rect x="247.5" y="353.7" width="3.0" height="3.0" fill="#f6ea00" stroke="#5a4a10"/><rect x="236.8" y="354.8" width="3.0" height="3.0" fill="#3a5ab0" stroke="#101840"/><rect x="240.7" y="342.9" width="3.0" height="3.0" fill="#3a5ab0" stroke="#101840"/><rect x="241.8" y="337.0" width="3.0" height="3.0" fill="#f6ea00" stroke="#5a4a10"/><rect x="230.3" y="357.8" width="3.0" height="3.0" fill="#3a5ab0" stroke="#101840"/><rect x="242.3" y="368.5" width="3.0" height="3.0" fill="#f6ea00" stroke="#5a4a10"/><rect x="222.8" y="340.8" width="3.0" height="3.0" fill="#4a2286" stroke="#1a0a30"/><rect x="232.5" y="352.5" width="3.0" height="3.0" fill="#4a2286" stroke="#1a0a30"/><rect x="249.3" y="315.8" width="3.0" height="3.0" fill="#f6ea00" stroke="#5a4a10"/><rect x="250.9" y="349.6" width="3.0" height="3.0" fill="#f6b414" stroke="#5a400a"/><rect x="217.6" y="343.2" width="3.0" height="3.0" fill="#4a2286" stroke="#1a0a30"/><rect x="217.2" y="365.0" width="3.0" height="3.0" fill="#4a2286" stroke="#1a0a30"/><rect x="236.1" y="328.2" width="3.0" height="3.0" fill="#f6ea00" stroke="#5a4a10"/><rect x="249.6" y="325.5" width="3.0" height="3.0" fill="#f6ea00" stroke="#5a4a10"/><rect x="239.0" y="329.5" width="3.0" height="3.0" fill="#4a2286" stroke="#1a0a30"/><rect x="224.7" y="333.5" width="3.0" height="3.0" fill="#4a2286" stroke="#1a0a30"/><rect x="218.2" y="352.3" width="3.0" height="3.0" fill="#4a2286" stroke="#1a0a30"/><rect x="232.2" y="377.0" width="3.0" height="3.0" fill="#4a2286" stroke="#1a0a30"/><rect x="225.7" y="344.5" width="3.0" height="3.0" fill="#4a2286" stroke="#1a0a30"/><rect x="238.6" y="343.0" width="3.0" height="3.0" fill="#f6ea00" stroke="#5a4a10"/><rect x="231.3" y="364.5" width="3.0" height="3.0" fill="#f6ea00" stroke="#5a4a10"/><rect x="217.5" y="371.0" width="3.0" height="3.0" fill="#3a5ab0" stroke="#101840"/><rect x="210.0" y="354.9" width="3.0" height="3.0" fill="#4a2286" stroke="#1a0a30"/><rect x="213.4" y="366.5" width="3.0" height="3.0" fill="#4a2286" stroke="#1a0a30"/><rect x="232.1" y="344.2" width="3.0" height="3.0" fill="#f6ea00" stroke="#5a4a10"/><rect x="223.2" y="345.2" width="3.0" height="3.0" fill="#4a2286" stroke="#1a0a30"/><rect x="212.1" y="326.0" width="3.0" height="3.0" fill="#4a2286" stroke="#1a0a30"/><rect x="212.9" y="372.0" width="3.0" height="3.0" fill="#4a2286" stroke="#1a0a30"/><rect x="239.3" y="351.9" width="3.0" height="3.0" fill="#4a2286" stroke="#1a0a30"/><rect x="207.4" y="340.4" width="3.0" height="3.0" fill="#4a2286" stroke="#1a0a30"/><rect x="250.2" y="343.9" width="3.0" height="3.0" fill="#f28a1a" stroke="#5a300a"/><rect x="247.5" y="337.6" width="3.0" height="3.0" fill="#f6ea00" stroke="#5a4a10"/><rect x="240.6" y="339.4" width="3.0" height="3.0" fill="#4a2286" stroke="#1a0a30"/><rect x="244.8" y="340.4" width="3.0" height="3.0" fill="#f6ea00" stroke="#5a4a10"/><rect x="247.1" y="357.3" width="3.0" height="3.0" fill="#f6b414" stroke="#5a400a"/><rect x="231.6" y="344.1" width="3.0" height="3.0" fill="#f6ea00" stroke="#5a4a10"/><rect x="237.3" y="358.2" width="3.0" height="3.0" fill="#4a2286" stroke="#1a0a30"/><rect x="241.0" y="352.7" width="3.0" height="3.0" fill="#4a2286" stroke="#1a0a30"/><rect x="227.3" y="326.9" width="3.0" height="3.0" fill="#4a2286" stroke="#1a0a30"/><rect x="217.3" y="342.7" width="3.0" height="3.0" fill="#4a2286" stroke="#1a0a30"/><rect x="212.8" y="366.7" width="3.0" height="3.0" fill="#4a2286" stroke="#1a0a30"/><rect x="207.3" y="382.1" width="3.0" height="3.0" fill="#f6ea00" stroke="#5a4a10"/><rect x="231.4" y="368.4" width="3.0" height="3.0" fill="#4a2286" stroke="#1a0a30"/><rect x="251.7" y="353.5" width="3.0" height="3.0" fill="#3a5ab0" stroke="#101840"/><rect x="230.1" y="327.7" width="3.0" height="3.0" fill="#f6ea00" stroke="#5a4a10"/><rect x="214.8" y="335.9" width="3.0" height="3.0" fill="#4a2286" stroke="#1a0a30"/><rect x="210.5" y="355.5" width="3.0" height="3.0" fill="#4a2286" stroke="#1a0a30"/><rect x="222.5" y="337.7" width="3.0" height="3.0" fill="#3a5ab0" stroke="#101840"/><rect x="239.8" y="360.1" width="3.0" height="3.0" fill="#4a2286" stroke="#1a0a30"/><rect x="231.1" y="361.9" width="3.0" height="3.0" fill="#3a5ab0" stroke="#101840"/><rect x="209.5" y="355.4" width="3.0" height="3.0" fill="#4a2286" stroke="#1a0a30"/><rect x="227.7" y="370.6" width="3.0" height="3.0" fill="#4a2286" stroke="#1a0a30"/><rect x="209.9" y="353.2" width="3.0" height="3.0" fill="#4a2286" stroke="#1a0a30"/><rect x="231.6" y="355.0" width="3.0" height="3.0" fill="#4a2286" stroke="#1a0a30"/><rect x="219.1" y="320.8" width="3.0" height="3.0" fill="#4a2286" stroke="#1a0a30"/><rect x="235.1" y="367.4" width="3.0" height="3.0" fill="#f6ea00" stroke="#5a4a10"/><rect x="233.0" y="343.3" width="3.0" height="3.0" fill="#f6ea00" stroke="#5a4a10"/><rect x="213.3" y="336.6" width="3.0" height="3.0" fill="#4a2286" stroke="#1a0a30"/><rect x="210.1" y="356.2" width="3.0" height="3.0" fill="#4a2286" stroke="#1a0a30"/><rect x="216.4" y="340.2" width="3.0" height="3.0" fill="#4a2286" stroke="#1a0a30"/><rect x="248.3" y="380.1" width="3.0" height="3.0" fill="#ee5a1e" stroke="#5a200a"/><rect x="221.3" y="363.0" width="3.0" height="3.0" fill="#4a2286" stroke="#1a0a30"/><rect x="240.3" y="369.0" width="3.0" height="3.0" fill="#4a2286" stroke="#1a0a30"/><rect x="254.8" y="330.0" width="3.0" height="3.0" fill="#4a2286" stroke="#1a0a30"/><rect x="244.3" y="321.2" width="3.0" height="3.0" fill="#ee5a1e" stroke="#5a200a"/><rect x="229.5" y="363.7" width="3.0" height="3.0" fill="#4a2286" stroke="#1a0a30"/><rect x="225.0" y="322.0" width="3.0" height="3.0" fill="#4a2286" stroke="#1a0a30"/><rect x="237.7" y="321.7" width="3.0" height="3.0" fill="#4a2286" stroke="#1a0a30"/><rect x="221.8" y="358.9" width="3.0" height="3.0" fill="#4a2286" stroke="#1a0a30"/><rect x="215.4" y="335.0" width="3.0" height="3.0" fill="#4a2286" stroke="#1a0a30"/><rect x="230.7" y="322.5" width="3.0" height="3.0" fill="#4a2286" stroke="#1a0a30"/><rect x="226.6" y="373.0" width="3.0" height="3.0" fill="#f6ea00" stroke="#5a4a10"/><rect x="238.3" y="346.3" width="3.0" height="3.0" fill="#f6ea00" stroke="#5a4a10"/><rect x="250.6" y="345.0" width="3.0" height="3.0" fill="#f6ea00" stroke="#5a4a10"/><rect x="233.9" y="323.4" width="3.0" height="3.0" fill="#ee5a1e" stroke="#5a200a"/><rect x="210.2" y="359.5" width="3.0" height="3.0" fill="#4a2286" stroke="#1a0a30"/><rect x="230.8" y="355.7" width="3.0" height="3.0" fill="#4a2286" stroke="#1a0a30"/><rect x="212.6" y="323.0" width="3.0" height="3.0" fill="#4a2286" stroke="#1a0a30"/><rect x="239.1" y="366.0" width="3.0" height="3.0" fill="#4a2286" stroke="#1a0a30"/><rect x="218.0" y="339.7" width="3.0" height="3.0" fill="#4a2286" stroke="#1a0a30"/><rect x="217.6" y="345.1" width="3.0" height="3.0" fill="#4a2286" stroke="#1a0a30"/><rect x="227.5" y="348.4" width="3.0" height="3.0" fill="#4a2286" stroke="#1a0a30"/><rect x="213.8" y="349.9" width="3.0" height="3.0" fill="#4a2286" stroke="#1a0a30"/><rect x="222.1" y="343.5" width="3.0" height="3.0" fill="#4a2286" stroke="#1a0a30"/><rect x="247.8" y="349.9" width="3.0" height="3.0" fill="#f6b414" stroke="#5a400a"/><rect x="225.3" y="332.0" width="3.0" height="3.0" fill="#4a2286" stroke="#1a0a30"/><rect x="214.4" y="344.0" width="3.0" height="3.0" fill="#3a5ab0" stroke="#101840"/><rect x="221.6" y="325.5" width="3.0" height="3.0" fill="#4a2286" stroke="#1a0a30"/><rect x="211.3" y="350.5" width="3.0" height="3.0" fill="#3a5ab0" stroke="#101840"/><rect x="227.5" y="323.0" width="3.0" height="3.0" fill="#4a2286" stroke="#1a0a30"/><rect x="222.4" y="344.0" width="3.0" height="3.0" fill="#4a2286" stroke="#1a0a30"/><rect x="238.9" y="326.5" width="3.0" height="3.0" fill="#4a2286" stroke="#1a0a30"/><rect x="220.3" y="331.2" width="3.0" height="3.0" fill="#4a2286" stroke="#1a0a30"/><rect x="239.8" y="346.1" width="3.0" height="3.0" fill="#3a5ab0" stroke="#101840"/><rect x="229.5" y="340.5" width="3.0" height="3.0" fill="#4a2286" stroke="#1a0a30"/><rect x="242.9" y="360.3" width="3.0" height="3.0" fill="#4a2286" stroke="#1a0a30"/><rect x="225.6" y="378.5" width="3.0" height="3.0" fill="#f6ea00" stroke="#5a4a10"/><rect x="234.7" y="376.0" width="3.0" height="3.0" fill="#f6ea00" stroke="#5a4a10"/><rect x="208.8" y="366.6" width="3.0" height="3.0" fill="#4a2286" stroke="#1a0a30"/><rect x="252.3" y="325.5" width="3.0" height="3.0" fill="#f6ea00" stroke="#5a4a10"/><rect x="243.5" y="363.4" width="3.0" height="3.0" fill="#f6ea00" stroke="#5a4a10"/><rect x="214.1" y="351.8" width="3.0" height="3.0" fill="#4a2286" stroke="#1a0a30"/><rect x="230.0" y="337.4" width="3.0" height="3.0" fill="#4a2286" stroke="#1a0a30"/><rect x="212.4" y="337.9" width="3.0" height="3.0" fill="#4a2286" stroke="#1a0a30"/><rect x="224.6" y="338.6" width="3.0" height="3.0" fill="#3a5ab0" stroke="#101840"/><rect x="217.2" y="355.9" width="3.0" height="3.0" fill="#4a2286" stroke="#1a0a30"/><rect x="211.2" y="333.6" width="3.0" height="3.0" fill="#4a2286" stroke="#1a0a30"/><rect x="220.8" y="347.5" width="3.0" height="3.0" fill="#4a2286" stroke="#1a0a30"/><rect x="208.8" y="349.0" width="3.0" height="3.0" fill="#4a2286" stroke="#1a0a30"/><rect x="226.9" y="345.6" width="3.0" height="3.0" fill="#4a2286" stroke="#1a0a30"/><rect x="216.4" y="327.1" width="3.0" height="3.0" fill="#4a2286" stroke="#1a0a30"/><rect x="209.9" y="373.0" width="3.0" height="3.0" fill="#4a2286" stroke="#1a0a30"/><rect x="227.3" y="329.6" width="3.0" height="3.0" fill="#f6ea00" stroke="#5a4a10"/><rect x="246.3" y="340.7" width="3.0" height="3.0" fill="#f6ea00" stroke="#5a4a10"/><rect x="225.1" y="342.8" width="3.0" height="3.0" fill="#4a2286" stroke="#1a0a30"/><rect x="214.0" y="353.8" width="3.0" height="3.0" fill="#4a2286" stroke="#1a0a30"/><rect x="241.0" y="347.1" width="3.0" height="3.0" fill="#4a2286" stroke="#1a0a30"/><rect x="247.6" y="331.2" width="3.0" height="3.0" fill="#4a2286" stroke="#1a0a30"/><rect x="242.6" y="350.5" width="3.0" height="3.0" fill="#4a2286" stroke="#1a0a30"/><rect x="209.3" y="357.0" width="3.0" height="3.0" fill="#4a2286" stroke="#1a0a30"/><rect x="229.0" y="358.3" width="3.0" height="3.0" fill="#4a2286" stroke="#1a0a30"/><rect x="222.7" y="348.4" width="3.0" height="3.0" fill="#4a2286" stroke="#1a0a30"/><rect x="236.1" y="335.8" width="3.0" height="3.0" fill="#f6ea00" stroke="#5a4a10"/><rect x="214.6" y="333.0" width="3.0" height="3.0" fill="#4a2286" stroke="#1a0a30"/><rect x="232.4" y="356.0" width="3.0" height="3.0" fill="#3a5ab0" stroke="#101840"/><rect x="229.1" y="351.4" width="3.0" height="3.0" fill="#4a2286" stroke="#1a0a30"/><rect x="208.8" y="331.5" width="3.0" height="3.0" fill="#4a2286" stroke="#1a0a30"/><rect x="217.0" y="349.7" width="3.0" height="3.0" fill="#4a2286" stroke="#1a0a30"/><rect x="221.4" y="359.8" width="3.0" height="3.0" fill="#4a2286" stroke="#1a0a30"/><rect x="251.3" y="340.2" width="3.0" height="3.0" fill="#f6ea00" stroke="#5a4a10"/><rect x="237.8" y="339.8" width="3.0" height="3.0" fill="#4a2286" stroke="#1a0a30"/><rect x="240.3" y="359.0" width="3.0" height="3.0" fill="#4a2286" stroke="#1a0a30"/><rect x="212.9" y="333.3" width="3.0" height="3.0" fill="#4a2286" stroke="#1a0a30"/><rect x="213.5" y="364.6" width="3.0" height="3.0" fill="#4a2286" stroke="#1a0a30"/><rect x="227.5" y="358.6" width="3.0" height="3.0" fill="#f6ea00" stroke="#5a4a10"/><rect x="228.9" y="357.1" width="3.0" height="3.0" fill="#4a2286" stroke="#1a0a30"/><rect x="215.3" y="329.1" width="3.0" height="3.0" fill="#3a5ab0" stroke="#101840"/><rect x="250.9" y="347.2" width="3.0" height="3.0" fill="#f28a1a" stroke="#5a300a"/><rect x="244.2" y="361.1" width="3.0" height="3.0" fill="#4a2286" stroke="#1a0a30"/><rect x="235.7" y="360.4" width="3.0" height="3.0" fill="#4a2286" stroke="#1a0a30"/><rect x="210.9" y="345.3" width="3.0" height="3.0" fill="#4a2286" stroke="#1a0a30"/><rect x="220.8" y="328.0" width="3.0" height="3.0" fill="#4a2286" stroke="#1a0a30"/><rect x="221.0" y="340.2" width="3.0" height="3.0" fill="#4a2286" stroke="#1a0a30"/><rect x="217.7" y="348.8" width="3.0" height="3.0" fill="#4a2286" stroke="#1a0a30"/><rect x="246.8" y="341.6" width="3.0" height="3.0" fill="#f28a1a" stroke="#5a300a"/><rect x="248.3" y="351.6" width="3.0" height="3.0" fill="#f28a1a" stroke="#5a300a"/><rect x="226.5" y="359.9" width="3.0" height="3.0" fill="#4a2286" stroke="#1a0a30"/><rect x="222.5" y="331.6" width="3.0" height="3.0" fill="#4a2286" stroke="#1a0a30"/><rect x="223.0" y="350.7" width="3.0" height="3.0" fill="#4a2286" stroke="#1a0a30"/><rect x="229.9" y="344.4" width="3.0" height="3.0" fill="#f6b414" stroke="#5a400a"/><rect x="223.6" y="331.5" width="3.0" height="3.0" fill="#3a5ab0" stroke="#101840"/><rect x="238.3" y="375.0" width="3.0" height="3.0" fill="#4a2286" stroke="#1a0a30"/><rect x="217.9" y="329.4" width="3.0" height="3.0" fill="#4a2286" stroke="#1a0a30"/><rect x="233.8" y="362.4" width="3.0" height="3.0" fill="#4a2286" stroke="#1a0a30"/><rect x="240.7" y="340.6" width="3.0" height="3.0" fill="#4a2286" stroke="#1a0a30"/><rect x="224.4" y="344.4" width="3.0" height="3.0" fill="#4a2286" stroke="#1a0a30"/><rect x="213.4" y="344.5" width="3.0" height="3.0" fill="#4a2286" stroke="#1a0a30"/><rect x="208.7" y="331.6" width="3.0" height="3.0" fill="#3a5ab0" stroke="#101840"/><rect x="228.2" y="333.2" width="3.0" height="3.0" fill="#4a2286" stroke="#1a0a30"/><rect x="249.8" y="358.1" width="3.0" height="3.0" fill="#f28a1a" stroke="#5a300a"/><rect x="233.1" y="323.8" width="3.0" height="3.0" fill="#f6ea00" stroke="#5a4a10"/><rect x="219.6" y="369.5" width="3.0" height="3.0" fill="#3a5ab0" stroke="#101840"/><rect x="243.3" y="328.3" width="3.0" height="3.0" fill="#4a2286" stroke="#1a0a30"/><rect x="233.5" y="367.7" width="3.0" height="3.0" fill="#4a2286" stroke="#1a0a30"/><rect x="224.3" y="359.6" width="3.0" height="3.0" fill="#4a2286" stroke="#1a0a30"/><rect x="241.1" y="357.8" width="3.0" height="3.0" fill="#4a2286" stroke="#1a0a30"/><rect x="231.3" y="369.1" width="3.0" height="3.0" fill="#4a2286" stroke="#1a0a30"/><rect x="214.2" y="334.7" width="3.0" height="3.0" fill="#4a2286" stroke="#1a0a30"/><rect x="231.9" y="361.7" width="3.0" height="3.0" fill="#4a2286" stroke="#1a0a30"/><rect x="242.7" y="360.6" width="3.0" height="3.0" fill="#4a2286" stroke="#1a0a30"/><rect x="219.8" y="347.6" width="3.0" height="3.0" fill="#3a5ab0" stroke="#101840"/><rect x="212.2" y="362.4" width="3.0" height="3.0" fill="#4a2286" stroke="#1a0a30"/><rect x="218.4" y="363.5" width="3.0" height="3.0" fill="#4a2286" stroke="#1a0a30"/><rect x="236.2" y="331.1" width="3.0" height="3.0" fill="#4a2286" stroke="#1a0a30"/><rect x="245.5" y="325.3" width="3.0" height="3.0" fill="#3a5ab0" stroke="#101840"/><rect x="233.1" y="349.7" width="3.0" height="3.0" fill="#4a2286" stroke="#1a0a30"/><rect x="223.2" y="346.8" width="3.0" height="3.0" fill="#4a2286" stroke="#1a0a30"/><rect x="241.0" y="347.5" width="3.0" height="3.0" fill="#4a2286" stroke="#1a0a30"/><rect x="235.5" y="333.7" width="3.0" height="3.0" fill="#f6ea00" stroke="#5a4a10"/><rect x="227.6" y="327.5" width="3.0" height="3.0" fill="#f6ea00" stroke="#5a4a10"/><rect x="219.0" y="330.8" width="3.0" height="3.0" fill="#4a2286" stroke="#1a0a30"/><rect x="227.5" y="331.7" width="3.0" height="3.0" fill="#4a2286" stroke="#1a0a30"/><rect x="244.0" y="357.1" width="3.0" height="3.0" fill="#4a2286" stroke="#1a0a30"/><rect x="247.2" y="349.2" width="3.0" height="3.0" fill="#4a2286" stroke="#1a0a30"/><rect x="214.1" y="329.8" width="3.0" height="3.0" fill="#4a2286" stroke="#1a0a30"/></g><rect x="33.4" y="276.2" width="30.2" height="32.2" fill="#fff" stroke="#444" stroke-width="0.9"/><text x="49.2" y="301.3" font-size="29" text-anchor="middle" fill="#000">B</text><rect x="259.8" y="260.8" width="82.5" height="85.7" fill="#fff" stroke="#9a9a9a" stroke-width="0.8"/><text x="300.3" y="271.4" font-size="10" font-weight="bold" text-anchor="middle" fill="#111">Water saturation</text><defs><linearGradient id="swg" x1="0" y1="1" x2="0" y2="0"><stop offset="0" stop-color="#f0501e"/><stop offset="0.12" stop-color="#f7a010"/><stop offset="0.25" stop-color="#fbe800"/><stop offset="0.38" stop-color="#d8e010"/><stop offset="0.5" stop-color="#40b030"/><stop offset="0.62" stop-color="#10a868"/><stop offset="0.75" stop-color="#40b0c0"/><stop offset="0.87" stop-color="#2a90d0"/><stop offset="1" stop-color="#4a2a88"/></linearGradient></defs><rect x="263" y="277" width="14.6" height="64.4" fill="url(#swg)" stroke="#555" stroke-width="0.5"/><path d="M277.6 277.5h2" stroke="#333" stroke-width="0.5"/><text x="280.4" y="280.1" font-size="7.2" fill="#222">1</text><path d="M277.6 284.6h2" stroke="#333" stroke-width="0.5"/><text x="280.4" y="287.2" font-size="7.2" fill="#222">0.9</text><path d="M277.6 291.7h2" stroke="#333" stroke-width="0.5"/><text x="280.4" y="294.3" font-size="7.2" fill="#222">0.8</text><path d="M277.6 298.8h2" stroke="#333" stroke-width="0.5"/><text x="280.4" y="301.4" font-size="7.2" fill="#222">0.7</text><path d="M277.6 305.9h2" stroke="#333" stroke-width="0.5"/><text x="280.4" y="308.5" font-size="7.2" fill="#222">0.6</text><path d="M277.6 313h2" stroke="#333" stroke-width="0.5"/><text x="280.4" y="315.6" font-size="7.2" fill="#222">0.5</text><path d="M277.6 320.1h2" stroke="#333" stroke-width="0.5"/><text x="280.4" y="322.7" font-size="7.2" fill="#222">0.4</text><path d="M277.6 327.2h2" stroke="#333" stroke-width="0.5"/><text x="280.4" y="329.8" font-size="7.2" fill="#222">0.3</text><path d="M277.6 334.3h2" stroke="#333" stroke-width="0.5"/><text x="280.4" y="336.9" font-size="7.2" fill="#222">0.2</text><path d="M277.6 341.4h2" stroke="#333" stroke-width="0.5"/><text x="280.4" y="344" font-size="7.2" fill="#222">0.1</text><rect x="356" y="4.7" width="189.2" height="479.6" fill="#fff"/><rect x="356" y="4.7" width="189.2" height="9.9" fill="#19b2a6"/><text x="431" y="11.2" font-size="6.5" font-weight="bold" text-anchor="middle" fill="#10302c">&#9671;</text><text x="436.2" y="11.4" font-size="8.2" font-weight="bold" fill="#10302c" textLength="35" lengthAdjust="spacingAndGlyphs">G-5 [MD]</text><rect x="356.2" y="14.7" width="2.2" height="11.3" fill="#a8a4a0"/><rect x="358.4" y="14.7" width="5.4" height="11.3" fill="#f8ec00"/><rect x="363.8" y="14.7" width="4.4" height="11.3" fill="#f36a20"/><rect x="368.2" y="14.7" width="4" height="11.3" fill="#5b1f84"/><rect x="356.2" y="19.9" width="16" height="1.1" fill="#3a2a2a" opacity="0.6"/><rect x="372.5" y="14.7" width="43.1" height="11" fill="#fff" stroke="#555" stroke-width="0.5"/><text x="394.05" y="23.3" font-size="8.8" text-anchor="middle" fill="#222">PHI</text><rect x="372.5" y="26.6" width="43.1" height="6.6" fill="#fff" stroke="#444" stroke-width="0.5"/><rect x="415.6" y="14.7" width="43.9" height="11" fill="#fff" stroke="#555" stroke-width="0.5"/><text x="437.55" y="23.3" font-size="8.8" text-anchor="middle" fill="#222">Sw</text><rect x="415.6" y="26.6" width="43.9" height="6.6" fill="#fff" stroke="#444" stroke-width="0.5"/><rect x="459.5" y="14.7" width="43.1" height="11" fill="#fff" stroke="#555" stroke-width="0.5"/><text x="481.05" y="23.3" font-size="8.8" text-anchor="middle" fill="#222">VpVs</text><rect x="459.5" y="26.6" width="43.1" height="6.6" fill="#fff" stroke="#444" stroke-width="0.5"/><rect x="502.6" y="14.7" width="42.6" height="11" fill="#fff" stroke="#555" stroke-width="0.5"/><text x="523.9" y="23.3" font-size="8.8" text-anchor="middle" fill="#222">AI</text><rect x="502.6" y="26.6" width="42.6" height="6.6" fill="#fff" stroke="#444" stroke-width="0.5"/><text x="393.8" y="31.8" font-size="5" text-anchor="middle" fill="#222" textLength="38" lengthAdjust="spacingAndGlyphs">0.0000 m³/m³ 0.2301</text><text x="416.2" y="32.3" font-size="6.2" fill="#222" textLength="15.2" lengthAdjust="spacingAndGlyphs">0.0331</text><text x="457.8" y="32.3" font-size="6.2" text-anchor="end" fill="#222" textLength="15.4" lengthAdjust="spacingAndGlyphs">1.0879</text><text x="460.3" y="32.3" font-size="6.2" fill="#222" textLength="9.6" lengthAdjust="spacingAndGlyphs">1.62</text><text x="501.8" y="32.3" font-size="6.2" text-anchor="end" fill="#222" textLength="9.6" lengthAdjust="spacingAndGlyphs">2.03</text><text x="523.8" y="31.6" font-size="5" text-anchor="middle" fill="#222" textLength="40.5" lengthAdjust="spacingAndGlyphs">10.31 kPa.s/m 20.37</text><defs><linearGradient id="gphi" x1="0" y1="0" x2="1" y2="0"><stop offset="0" stop-color="#3a2a8c"/><stop offset="0.1" stop-color="#4456c0"/><stop offset="0.2" stop-color="#2cb6e0"/><stop offset="0.33" stop-color="#58c0b4"/><stop offset="0.46" stop-color="#12a044"/><stop offset="0.56" stop-color="#70bc28"/><stop offset="0.7" stop-color="#f2e600"/><stop offset="0.86" stop-color="#f8a400"/><stop offset="1" stop-color="#f26020"/></linearGradient><linearGradient id="gsw" x1="0" y1="0" x2="1" y2="0"><stop offset="0" stop-color="#f05a20"/><stop offset="0.1" stop-color="#f8a010"/><stop offset="0.25" stop-color="#f6ee00"/><stop offset="0.4" stop-color="#a4d020"/><stop offset="0.52" stop-color="#12a040"/><stop offset="0.62" stop-color="#28a884"/><stop offset="0.75" stop-color="#60c0c0"/><stop offset="0.86" stop-color="#22b0e2"/><stop offset="0.94" stop-color="#4060c0"/><stop offset="1" stop-color="#402880"/></linearGradient><linearGradient id="gvp" x1="0" y1="0" x2="1" y2="0"><stop offset="0" stop-color="#f04422"/><stop offset="0.35" stop-color="#f04422"/><stop offset="0.42" stop-color="#c09a20"/><stop offset="0.52" stop-color="#48b032"/><stop offset="0.7" stop-color="#12a044"/><stop offset="0.8" stop-color="#2090a0"/><stop offset="0.88" stop-color="#3450b0"/><stop offset="1" stop-color="#4a2080"/></linearGradient><linearGradient id="gai" x1="0" y1="0" x2="1" y2="0"><stop offset="0" stop-color="#f6c400"/><stop offset="0.08" stop-color="#f8ee00"/><stop offset="0.2" stop-color="#f8a000"/><stop offset="0.3" stop-color="#f05020"/><stop offset="0.43" stop-color="#e85422"/><stop offset="0.46" stop-color="#12a044"/><stop offset="0.56" stop-color="#22b040"/><stop offset="0.65" stop-color="#44b8b0"/><stop offset="0.72" stop-color="#22b0e2"/><stop offset="0.82" stop-color="#5050b0"/><stop offset="0.9" stop-color="#5a2a90"/><stop offset="1" stop-color="#5a2a90"/></linearGradient></defs><rect x="372.5" y="34.2" width="43" height="6.9" fill="url(#gphi)"/><text x="394" y="39.8" font-size="5.3" text-anchor="middle" fill="#0a4a1a">PHI</text><rect x="415.6" y="34.2" width="43.9" height="6.9" fill="#f2441e"/><text x="437.5" y="39.8" font-size="5.3" text-anchor="middle" fill="#8a1a10" textLength="32.5" lengthAdjust="spacingAndGlyphs">Hydrocarbons</text><rect x="415.6" y="41.7" width="43.9" height="6.7" fill="url(#gsw)"/><text x="437.5" y="47.1" font-size="5.3" text-anchor="middle" fill="#0a3a1a">Sw</text><rect x="459.5" y="34.2" width="43.1" height="6.9" fill="url(#gvp)"/><text x="481" y="39.8" font-size="5.3" text-anchor="middle" fill="#3a3a10">VpVs</text><rect x="502.6" y="34.2" width="42.6" height="6.9" fill="url(#gai)"/><text x="523" y="39.8" font-size="5.3" text-anchor="middle" fill="#0a3a1a">AI</text><path d="M356 48.3H545.2M356 52.8H545.2" stroke="#555" stroke-width="0.6" fill="none"/><path d="M381.12 48.3V484M389.74 48.3V484M398.36 48.3V484M406.98 48.3V484M424.38 48.3V484M433.16 48.3V484M441.94 48.3V484M450.72 48.3V484M468.12 48.3V484M476.74 48.3V484M485.36 48.3V484M493.98 48.3V484M511.12 48.3V484M519.64 48.3V484M528.16 48.3V484M536.68 48.3V484" stroke="#c8bcbc" stroke-width="0.7" fill="none"/><path d="M372.5 62.7H545.2M372.5 112.75H545.2M372.5 162.8H545.2M372.5 212.85H545.2M372.5 262.9H545.2M372.5 312.95H545.2M372.5 363H545.2M372.5 413.05H545.2M372.5 463.1H545.2" stroke="#555" stroke-width="0.6" fill="none"/><rect x="356.2" y="52.8" width="16" height="2.75" fill="#a8a4a0"/><rect x="356.2" y="55.5" width="16" height="5.85" fill="#f36a20"/><rect x="356.2" y="61.3" width="16" height="3.05" fill="#141414"/><rect x="356.2" y="64.3" width="16" height="3.55" fill="#f8ec00"/><rect x="356.2" y="67.8" width="16" height="13.95" fill="#a8a4a0"/><text x="364.2" y="77.75" font-size="8.4" text-anchor="middle" fill="#3a3a20">1</text><rect x="356.2" y="81.7" width="16" height="5.55" fill="#f36a20"/><rect x="356.2" y="87.2" width="16" height="21.45" fill="#f8ec00"/><text x="364.2" y="100.9" font-size="8.4" text-anchor="middle" fill="#3a3a20">2</text><rect x="356.2" y="108.6" width="16" height="4.35" fill="#141414"/><rect x="356.2" y="112.9" width="16" height="42.35" fill="#f8ec00"/><text x="364.2" y="137.05" font-size="8.4" text-anchor="middle" fill="#3a3a20">2</text><rect x="356.2" y="155.2" width="16" height="8.05" fill="#141414"/><rect x="356.2" y="163.2" width="16" height="155.05" fill="#f8ec00"/><text x="364.2" y="243.7" font-size="8.4" text-anchor="middle" fill="#3a3a20">2</text><rect x="356.2" y="318.2" width="16" height="7.35" fill="#5b1f84"/><text x="364.2" y="324.85" font-size="8.4" text-anchor="middle" fill="#a898c0">4</text><rect x="356.2" y="325.5" width="16" height="38.95" fill="#f8ec00"/><text x="364.2" y="347.95" font-size="8.4" text-anchor="middle" fill="#3a3a20">2</text><rect x="356.2" y="364.4" width="16" height="11.25" fill="#5b1f84"/><text x="364.2" y="373" font-size="8.4" text-anchor="middle" fill="#a898c0">4</text><rect x="356.2" y="375.6" width="16" height="8.25" fill="#f8ec00"/><text x="364.2" y="382.7" font-size="8.4" text-anchor="middle" fill="#3a3a20">2</text><rect x="356.2" y="383.8" width="16" height="33.55" fill="#5b1f84"/><text x="364.2" y="403.55" font-size="8.4" text-anchor="middle" fill="#a898c0">4</text><rect x="356.2" y="417.3" width="16" height="10.95" fill="#f8ec00"/><text x="364.2" y="425.75" font-size="8.4" text-anchor="middle" fill="#3a3a20">2</text><rect x="356.2" y="428.2" width="16" height="30.85" fill="#5b1f84"/><text x="364.2" y="243.7" font-size="8.4" text-anchor="middle" fill="#a898c0">4</text><rect x="356.2" y="459" width="16" height="12.05" fill="#f8ec00"/><text x="364.2" y="468" font-size="8.4" text-anchor="middle" fill="#3a3a20">2</text><rect x="356.2" y="471" width="16" height="13.05" fill="#5b1f84"/><clipPath id="ck1"><polygon points="372.5,53.2 372.5,53.2 385.5,53.4 385,54.2 380,55.2 376,56 374.5,57.5 374,60 375,62 374,64 374.5,66 374,68 375,70 378,71.5 384,72.5 391,73.5 394,74.5 388,75.5 380,76.5 376,77.5 374.5,79 374,82 374.5,85 375.5,87 377,88.5 380,90 388,91.5 392,93 393.5,94.3 389.3,96.3 393,97.5 397.8,98.8 397,100 392.9,101.6 388,104.1 382.3,105.7 379.8,107.4 381.5,109 378.2,110.6 379.8,112.3 383,113.9 379,115.5 378.2,118 376.5,120.5 377,121.5 388,122.1 401,123.7 410.5,125.1 411.5,125.5 406,126 401,127 400.3,130.3 402.7,132.7 402,135.2 402.7,137.6 406.8,139.3 401,140.9 397,143.4 394.5,145.8 391.3,149.1 387.2,151.6 386.4,154 388.8,155 389.6,157.5 387.2,159.9 386.4,162.4 384.7,164.8 380.6,166.5 378.2,168.1 379,170.5 379.8,173 381.5,175.5 382.3,177.9 385.5,180.4 379.8,182 378.2,184.5 377.4,187.7 376.5,191 376.5,194.3 375.7,197.6 377.4,200.8 376.5,204.1 375.7,207.4 376.5,210.6 379.8,212.5 382.3,214.9 383.9,217.4 383.9,219.8 383,223.1 377.4,225.5 378.2,228 379,230.5 376.5,232.9 374.9,236.2 374.9,239.5 375.7,242.7 377.4,245.2 379,248.5 380.6,251.7 382.3,254.2 384.7,255.8 388.8,258.3 391.3,260.7 392.9,263.2 394.5,266.6 398.6,268.3 401.9,269.9 401.1,271.5 397,273.2 391.3,274.8 379.8,276.5 374.9,278.1 374.1,279.7 377.4,281.4 381.5,283 386.4,284.6 388.8,287.1 387.2,288.7 385.5,290.4 383.1,292 379.8,294.5 377.4,296.9 376.5,299.4 377.4,302.6 376.5,305.1 379,307.6 378.2,310 377.4,312.5 376.5,314.9 377.4,317.4 374.1,319 373.3,321.5 373.5,324 374.5,326.4 373.3,328 374,330 373.5,335 374,340 373.3,345 374,350 373.5,355 374,360 373.5,364 375.5,366.5 376,367.5 374,368.5 373.5,375 374,385 374,393 376.5,394.5 374,396 376,397.7 374,399 373.5,405 374,414 377.5,415.7 374,416.5 373.5,425 374.5,436.4 375.5,438 374.5,440 375.5,442 374.5,444 375,446 374,448 374,455 374,459 377,460 374.5,461 374,464 375,466 376.5,467.5 374,468.5 374,471 372.5,471"/></clipPath><g clip-path="url(#ck1)"><rect x="372.5" y="53.2" width="40" height="0.55" fill="#f8a414"/><rect x="372.5" y="53.7" width="40" height="1.05" fill="#f4e400"/><rect x="372.5" y="54.7" width="40" height="0.55" fill="#a8cc22"/><rect x="372.5" y="55.2" width="40" height="0.55" fill="#22a846"/><rect x="372.5" y="55.7" width="40" height="1.55" fill="#30b6e0"/><rect x="372.5" y="57.2" width="40" height="4.05" fill="#2c6cc4"/><rect x="372.5" y="61.2" width="40" height="1.55" fill="#30b6e0"/><rect x="372.5" y="62.7" width="40" height="6.55" fill="#2c6cc4"/><rect x="372.5" y="69.2" width="40" height="1.55" fill="#30b6e0"/><rect x="372.5" y="70.7" width="40" height="0.55" fill="#2eb0a4"/><rect x="372.5" y="71.2" width="40" height="1.05" fill="#22a846"/><rect x="372.5" y="72.2" width="40" height="0.55" fill="#f4e400"/><rect x="372.5" y="72.7" width="40" height="0.55" fill="#f8a414"/><rect x="372.5" y="73.2" width="40" height="2.55" fill="#f0441e"/><rect x="372.5" y="75.7" width="40" height="0.55" fill="#f4e400"/><rect x="372.5" y="76.2" width="40" height="1.05" fill="#22a846"/><rect x="372.5" y="77.2" width="40" height="1.55" fill="#30b6e0"/><rect x="372.5" y="78.7" width="40" height="6.55" fill="#2c6cc4"/><rect x="372.5" y="85.2" width="40" height="2.55" fill="#30b6e0"/><rect x="372.5" y="87.7" width="40" height="1.05" fill="#2eb0a4"/><rect x="372.5" y="88.7" width="40" height="1.55" fill="#22a846"/><rect x="372.5" y="90.2" width="40" height="0.55" fill="#a8cc22"/><rect x="372.5" y="90.7" width="40" height="0.55" fill="#f4e400"/><rect x="372.5" y="91.2" width="40" height="13.05" fill="#f0441e"/><rect x="372.5" y="104.2" width="40" height="0.55" fill="#f8a414"/><rect x="372.5" y="104.7" width="40" height="1.05" fill="#f4e400"/><rect x="372.5" y="105.7" width="40" height="1.05" fill="#a8cc22"/><rect x="372.5" y="106.7" width="40" height="2.05" fill="#22a846"/><rect x="372.5" y="108.7" width="40" height="0.55" fill="#a8cc22"/><rect x="372.5" y="109.2" width="40" height="3.55" fill="#22a846"/><rect x="372.5" y="112.7" width="40" height="1.05" fill="#a8cc22"/><rect x="372.5" y="113.7" width="40" height="0.55" fill="#f4e400"/><rect x="372.5" y="114.2" width="40" height="0.55" fill="#a8cc22"/><rect x="372.5" y="114.7" width="40" height="4.05" fill="#22a846"/><rect x="372.5" y="118.7" width="40" height="3.05" fill="#2eb0a4"/><rect x="372.5" y="121.7" width="40" height="0.55" fill="#f4e400"/><rect x="372.5" y="122.2" width="40" height="29.55" fill="#f0441e"/><rect x="372.5" y="151.7" width="40" height="2.55" fill="#f8a414"/><rect x="372.5" y="154.2" width="40" height="5.55" fill="#f0441e"/><rect x="372.5" y="159.7" width="40" height="4.05" fill="#f8a414"/><rect x="372.5" y="163.7" width="40" height="2.05" fill="#f4e400"/><rect x="372.5" y="165.7" width="40" height="0.55" fill="#a8cc22"/><rect x="372.5" y="166.2" width="40" height="8.55" fill="#22a846"/><rect x="372.5" y="174.7" width="40" height="3.55" fill="#a8cc22"/><rect x="372.5" y="178.2" width="40" height="3.05" fill="#f4e400"/><rect x="372.5" y="181.2" width="40" height="0.55" fill="#a8cc22"/><rect x="372.5" y="181.7" width="40" height="4.55" fill="#22a846"/><rect x="372.5" y="186.2" width="40" height="8.55" fill="#2eb0a4"/><rect x="372.5" y="194.7" width="40" height="4.05" fill="#30b6e0"/><rect x="372.5" y="198.7" width="40" height="6.05" fill="#2eb0a4"/><rect x="372.5" y="204.7" width="40" height="5.55" fill="#30b6e0"/><rect x="372.5" y="210.2" width="40" height="1.05" fill="#2eb0a4"/><rect x="372.5" y="211.2" width="40" height="2.55" fill="#22a846"/><rect x="372.5" y="213.7" width="40" height="2.05" fill="#a8cc22"/><rect x="372.5" y="215.7" width="40" height="7.55" fill="#f4e400"/><rect x="372.5" y="223.2" width="40" height="1.05" fill="#a8cc22"/><rect x="372.5" y="224.2" width="40" height="1.05" fill="#22a846"/><rect x="372.5" y="225.2" width="40" height="1.55" fill="#2eb0a4"/><rect x="372.5" y="226.7" width="40" height="5.05" fill="#22a846"/><rect x="372.5" y="231.7" width="40" height="1.55" fill="#2eb0a4"/><rect x="372.5" y="233.2" width="40" height="10.55" fill="#30b6e0"/><rect x="372.5" y="243.7" width="40" height="2.55" fill="#2eb0a4"/><rect x="372.5" y="246.2" width="40" height="6.05" fill="#22a846"/><rect x="372.5" y="252.2" width="40" height="2.55" fill="#a8cc22"/><rect x="372.5" y="254.7" width="40" height="1.55" fill="#f4e400"/><rect x="372.5" y="256.2" width="40" height="1.05" fill="#f8a414"/><rect x="372.5" y="257.2" width="40" height="18.05" fill="#f0441e"/><rect x="372.5" y="275.2" width="40" height="0.55" fill="#f8a414"/><rect x="372.5" y="275.7" width="40" height="0.55" fill="#f4e400"/><rect x="372.5" y="276.2" width="40" height="1.05" fill="#22a846"/><rect x="372.5" y="277.2" width="40" height="0.55" fill="#2eb0a4"/><rect x="372.5" y="277.7" width="40" height="1.05" fill="#30b6e0"/><rect x="372.5" y="278.7" width="40" height="1.55" fill="#2c6cc4"/><rect x="372.5" y="280.2" width="40" height="0.55" fill="#30b6e0"/><rect x="372.5" y="280.7" width="40" height="1.05" fill="#2eb0a4"/><rect x="372.5" y="281.7" width="40" height="1.05" fill="#22a846"/><rect x="372.5" y="282.7" width="40" height="0.55" fill="#a8cc22"/><rect x="372.5" y="283.2" width="40" height="1.05" fill="#f4e400"/><rect x="372.5" y="284.2" width="40" height="1.55" fill="#f8a414"/><rect x="372.5" y="285.7" width="40" height="3.05" fill="#f0441e"/><rect x="372.5" y="288.7" width="40" height="2.05" fill="#f8a414"/><rect x="372.5" y="290.7" width="40" height="1.55" fill="#f4e400"/><rect x="372.5" y="292.2" width="40" height="1.55" fill="#a8cc22"/><rect x="372.5" y="293.7" width="40" height="3.05" fill="#22a846"/><rect x="372.5" y="296.7" width="40" height="9.55" fill="#2eb0a4"/><rect x="372.5" y="306.2" width="40" height="5.05" fill="#22a846"/><rect x="372.5" y="311.2" width="40" height="6.55" fill="#2eb0a4"/><rect x="372.5" y="317.7" width="40" height="1.05" fill="#30b6e0"/><rect x="372.5" y="318.7" width="40" height="46.55" fill="#2c6cc4"/><rect x="372.5" y="365.2" width="40" height="3.05" fill="#30b6e0"/><rect x="372.5" y="368.2" width="40" height="25.05" fill="#2c6cc4"/><rect x="372.5" y="393.2" width="40" height="1.05" fill="#30b6e0"/><rect x="372.5" y="394.2" width="40" height="0.55" fill="#2eb0a4"/><rect x="372.5" y="394.7" width="40" height="1.05" fill="#30b6e0"/><rect x="372.5" y="395.7" width="40" height="1.05" fill="#2c6cc4"/><rect x="372.5" y="396.7" width="40" height="2.05" fill="#30b6e0"/><rect x="372.5" y="398.7" width="40" height="15.55" fill="#2c6cc4"/><rect x="372.5" y="414.2" width="40" height="1.05" fill="#30b6e0"/><rect x="372.5" y="415.2" width="40" height="1.05" fill="#2eb0a4"/><rect x="372.5" y="416.2" width="40" height="20.55" fill="#2c6cc4"/><rect x="372.5" y="436.7" width="40" height="3.05" fill="#30b6e0"/><rect x="372.5" y="439.7" width="40" height="0.55" fill="#2c6cc4"/><rect x="372.5" y="440.2" width="40" height="3.55" fill="#30b6e0"/><rect x="372.5" y="443.7" width="40" height="0.55" fill="#2c6cc4"/><rect x="372.5" y="444.2" width="40" height="2.55" fill="#30b6e0"/><rect x="372.5" y="446.7" width="40" height="12.55" fill="#2c6cc4"/><rect x="372.5" y="459.2" width="40" height="0.55" fill="#30b6e0"/><rect x="372.5" y="459.7" width="40" height="0.55" fill="#2eb0a4"/><rect x="372.5" y="460.2" width="40" height="1.05" fill="#30b6e0"/><rect x="372.5" y="461.2" width="40" height="4.05" fill="#2c6cc4"/><rect x="372.5" y="465.2" width="40" height="2.05" fill="#30b6e0"/><rect x="372.5" y="467.2" width="40" height="0.55" fill="#2eb0a4"/><rect x="372.5" y="467.7" width="40" height="0.55" fill="#30b6e0"/><rect x="372.5" y="468.2" width="40" height="2.85" fill="#2c6cc4"/></g><path d="M372.5 53.2 L385.5 53.4 L385 54.2 L380 55.2 L376 56 L374.5 57.5 L374 60 L375 62 L374 64 L374.5 66 L374 68 L375 70 L378 71.5 L384 72.5 L391 73.5 L394 74.5 L388 75.5 L380 76.5 L376 77.5 L374.5 79 L374 82 L374.5 85 L375.5 87 L377 88.5 L380 90 L388 91.5 L392 93 L393.5 94.3 L389.3 96.3 L393 97.5 L397.8 98.8 L397 100 L392.9 101.6 L388 104.1 L382.3 105.7 L379.8 107.4 L381.5 109 L378.2 110.6 L379.8 112.3 L383 113.9 L379 115.5 L378.2 118 L376.5 120.5 L377 121.5 L388 122.1 L401 123.7 L410.5 125.1 L411.5 125.5 L406 126 L401 127 L400.3 130.3 L402.7 132.7 L402 135.2 L402.7 137.6 L406.8 139.3 L401 140.9 L397 143.4 L394.5 145.8 L391.3 149.1 L387.2 151.6 L386.4 154 L388.8 155 L389.6 157.5 L387.2 159.9 L386.4 162.4 L384.7 164.8 L380.6 166.5 L378.2 168.1 L379 170.5 L379.8 173 L381.5 175.5 L382.3 177.9 L385.5 180.4 L379.8 182 L378.2 184.5 L377.4 187.7 L376.5 191 L376.5 194.3 L375.7 197.6 L377.4 200.8 L376.5 204.1 L375.7 207.4 L376.5 210.6 L379.8 212.5 L382.3 214.9 L383.9 217.4 L383.9 219.8 L383 223.1 L377.4 225.5 L378.2 228 L379 230.5 L376.5 232.9 L374.9 236.2 L374.9 239.5 L375.7 242.7 L377.4 245.2 L379 248.5 L380.6 251.7 L382.3 254.2 L384.7 255.8 L388.8 258.3 L391.3 260.7 L392.9 263.2 L394.5 266.6 L398.6 268.3 L401.9 269.9 L401.1 271.5 L397 273.2 L391.3 274.8 L379.8 276.5 L374.9 278.1 L374.1 279.7 L377.4 281.4 L381.5 283 L386.4 284.6 L388.8 287.1 L387.2 288.7 L385.5 290.4 L383.1 292 L379.8 294.5 L377.4 296.9 L376.5 299.4 L377.4 302.6 L376.5 305.1 L379 307.6 L378.2 310 L377.4 312.5 L376.5 314.9 L377.4 317.4 L374.1 319 L373.3 321.5 L373.5 324 L374.5 326.4 L373.3 328 L374 330 L373.5 335 L374 340 L373.3 345 L374 350 L373.5 355 L374 360 L373.5 364 L375.5 366.5 L376 367.5 L374 368.5 L373.5 375 L374 385 L374 393 L376.5 394.5 L374 396 L376 397.7 L374 399 L373.5 405 L374 414 L377.5 415.7 L374 416.5 L373.5 425 L374.5 436.4 L375.5 438 L374.5 440 L375.5 442 L374.5 444 L375 446 L374 448 L374 455 L374 459 L377 460 L374.5 461 L374 464 L375 466 L376.5 467.5 L374 468.5 L374 471" fill="none" stroke="#111" stroke-width="0.65" stroke-linejoin="round"/><rect x="415.6" y="53" width="43.9" height="418.3" fill="#f4471f"/><clipPath id="ck2"><polygon points="415.6,53 421,53 420.5,60 421.5,70 420.5,80 421.5,90 421,100 422,103 424,106.5 422,109 424.3,112 422,115.5 422.5,118.5 424.8,123 422.5,126 422.2,129.5 423,132.7 422,136 421.5,139.3 422,142.7 421,146 421.5,149 423.2,152.3 421.2,153 421,155.6 420.7,160 421,165 421.5,170 421.5,175 422.4,179.5 423.2,182.8 423.7,187.7 424,192.6 423.2,197.6 424.8,202.5 425.3,207.4 426.5,215 427,220 428,225 427.3,231 426.5,238 427,244 426.5,250 426.5,260 426.5,270 425.6,275 425.6,290 425.6,300 424.8,310 425,315 425.6,318.2 427,319.8 440,321 453.5,322.3 453.8,330 454.3,338 455,342 455.3,471 415.6,471"/></clipPath><g clip-path="url(#ck2)"><rect x="415.6" y="53" width="40.7" height="51.55" fill="#f7a21a"/><rect x="415.6" y="104.5" width="40.7" height="3.55" fill="#f8c810"/><rect x="415.6" y="108" width="40.7" height="2.05" fill="#f7a21a"/><rect x="415.6" y="110" width="40.7" height="1.55" fill="#f8c810"/><rect x="415.6" y="111.5" width="40.7" height="1.05" fill="#f5e600"/><rect x="415.6" y="112.5" width="40.7" height="2.05" fill="#f8c810"/><rect x="415.6" y="114.5" width="40.7" height="4.55" fill="#f7a21a"/><rect x="415.6" y="119" width="40.7" height="2.55" fill="#f8c810"/><rect x="415.6" y="121.5" width="40.7" height="2.55" fill="#f5e600"/><rect x="415.6" y="124" width="40.7" height="1.55" fill="#f8c810"/><rect x="415.6" y="125.5" width="40.7" height="6.55" fill="#f7a21a"/><rect x="415.6" y="132" width="40.7" height="1.55" fill="#f8c810"/><rect x="415.6" y="133.5" width="40.7" height="18.05" fill="#f7a21a"/><rect x="415.6" y="151.5" width="40.7" height="1.05" fill="#f8c810"/><rect x="415.6" y="152.5" width="40.7" height="28.55" fill="#f7a21a"/><rect x="415.6" y="181" width="40.7" height="19.05" fill="#f8c810"/><rect x="415.6" y="200" width="40.7" height="119.85" fill="#f5e600"/><rect x="415.6" y="319.8" width="40.7" height="1.45" fill="#9acc30"/><rect x="415.6" y="321.2" width="40.7" height="1.45" fill="#2aa890"/><rect x="415.6" y="322.6" width="40.7" height="1.45" fill="#3a8cb8"/><rect x="415.6" y="324" width="40.7" height="6.05" fill="#4a70b8"/><rect x="415.6" y="330" width="40.7" height="6.05" fill="#4c62b0"/><rect x="415.6" y="336" width="40.7" height="4.05" fill="#5048a0"/><rect x="415.6" y="340" width="40.7" height="2.05" fill="#562f8c"/><rect x="415.6" y="342" width="40.7" height="129.05" fill="#5a2580"/></g><path d="M421 53 L420.5 60 L421.5 70 L420.5 80 L421.5 90 L421 100 L422 103 L424 106.5 L422 109 L424.3 112 L422 115.5 L422.5 118.5 L424.8 123 L422.5 126 L422.2 129.5 L423 132.7 L422 136 L421.5 139.3 L422 142.7 L421 146 L421.5 149 L423.2 152.3 L421.2 153 L421 155.6 L420.7 160 L421 165 L421.5 170 L421.5 175 L422.4 179.5 L423.2 182.8 L423.7 187.7 L424 192.6 L423.2 197.6 L424.8 202.5 L425.3 207.4 L426.5 215 L427 220 L428 225 L427.3 231 L426.5 238 L427 244 L426.5 250 L426.5 260 L426.5 270 L425.6 275 L425.6 290 L425.6 300 L424.8 310 L425 315 L425.6 318.2 L427 319.8 L440 321 L453.5 322.3 L453.8 330 L454.3 338 L455 342 L455.3 471" fill="none" stroke="#111" stroke-width="0.65" stroke-linejoin="round"/><clipPath id="ck3"><polygon points="459.5,112.9 460,112.9 485.6,113.1 478.3,114 476.6,115.6 479.9,117.3 481.5,119.4 477.5,121.4 475,123 472.5,124.6 470.1,127.1 468.5,129.5 470.9,131.2 469.3,132.8 468.5,135.3 472.5,136.9 471.7,138.6 476,139.7 485.6,140.2 478.3,141.3 475,143.5 477.5,145.1 475,146.7 470.9,148.4 470.1,150.8 475,153.3 472.5,154.9 474.2,156.6 472.5,158.2 470.9,159.8 470.5,160.5 475.8,162.3 476,164 477,166 473.4,168.2 472.5,170 473,173 478.3,174.7 477,177 476,179.6 476.5,182.9 477.5,185 478,187.8 483,188.6 484.8,190 484,193 483.5,195.2 480.7,196 481.5,199.3 483.2,200 483,203 482,205 479.9,205.5 480,207.5 484,208.3 479,209.1 477.5,212.4 475,217.3 475.8,217.5 478,219 477,222.4 477.5,224.8 481.5,227.3 492.2,229.7 485,231 481,232.2 479.9,234.6 485.6,236 485,240 484,243 478,243.6 476.6,245.3 473.4,246 473.4,249.4 477.5,250 476,251.8 473.4,252.5 473.4,254.3 475,255.2 483.2,256.5 476,257.2 474.5,258.4 470.1,259 470.1,260.8 476.6,261.5 476,264.1 471.7,264.6 471.7,266.6 478.3,267.5 477,269 468.5,269.5 468.5,274.9 477,276 478,279 483.2,280.5 476,282.3 473.4,283 473.4,288 471.7,289 471.7,293.7 477.5,294.5 479.5,296 479,299.5 480.7,300.5 480,305.2 478.3,307 477,309.3 474.2,310 474.2,312.6 478.3,313.4 476.6,314.2 477,317.5 477.5,319.5 488.1,321.8 479,323.2 473.4,324 472.5,326.6 477.5,327.5 478.3,330 476.6,333 477.5,335.6 485.6,336.8 478,338.1 477.5,341 476.6,343.8 467.6,344.5 467.6,347.1 476.6,348 481.5,349.5 478,351.2 483,352 484,354 482,356.1 477.5,357 477.5,360 477,365.1 481.5,366 480.7,369.2 479,370 478.3,374 480,379.8 483,381 486.5,383 497.9,384.9 487,386.5 484.8,388 483,390.6 476.6,391.5 475.8,394 477.5,398 482.4,399 482,402.1 478.3,403 477.5,405 480,408.6 479.9,411.1 483.2,413.6 477.5,414.5 477,416.8 475,418 475,420.9 470.1,421.5 470.1,424.2 473.4,425 474,426.6 486.5,427.5 487.3,428.5 485,431 484.8,433.2 483.2,434 483.2,435.7 484.8,436.5 484,439 479,439.5 480,443 478.3,447 478.3,451 479,454.5 483.2,455 482.4,460.3 477.5,460.8 477.5,465.2 460,465.4 459.5,465.4"/></clipPath><g clip-path="url(#ck3)"><rect x="459.5" y="112.9" width="39.4" height="1.05" fill="#4e2384"/><rect x="459.5" y="113.9" width="39.4" height="4.65" fill="#2aa83c"/><rect x="459.5" y="118.5" width="39.4" height="2.05" fill="#1f7fa0"/><rect x="459.5" y="120.5" width="39.4" height="3.05" fill="#2aa83c"/><rect x="459.5" y="123.5" width="39.4" height="13.05" fill="#ee4422"/><rect x="459.5" y="136.5" width="39.4" height="3.15" fill="#d8702a"/><rect x="459.5" y="139.6" width="39.4" height="1.75" fill="#4e2384"/><rect x="459.5" y="141.3" width="39.4" height="6.25" fill="#2aa83c"/><rect x="459.5" y="147.5" width="39.4" height="5.05" fill="#ee4422"/><rect x="459.5" y="152.5" width="39.4" height="1.85" fill="#2aa83c"/><rect x="459.5" y="154.3" width="39.4" height="1.55" fill="#d8702a"/><rect x="459.5" y="155.8" width="39.4" height="1.55" fill="#2aa83c"/><rect x="459.5" y="157.3" width="39.4" height="4.35" fill="#ee4422"/><rect x="459.5" y="161.6" width="39.4" height="6.65" fill="#2aa83c"/><rect x="459.5" y="168.2" width="39.4" height="4.95" fill="#ee4422"/><rect x="459.5" y="173.1" width="39.4" height="15.15" fill="#2aa83c"/><rect x="459.5" y="188.2" width="39.4" height="7.05" fill="#4e2384"/><rect x="459.5" y="195.2" width="39.4" height="4.15" fill="#1f7fa0"/><rect x="459.5" y="199.3" width="39.4" height="5.75" fill="#4e2384"/><rect x="459.5" y="205" width="39.4" height="2.55" fill="#2aa83c"/><rect x="459.5" y="207.5" width="39.4" height="1.65" fill="#4e2384"/><rect x="459.5" y="209.1" width="39.4" height="18.25" fill="#2aa83c"/><rect x="459.5" y="227.3" width="39.4" height="4.95" fill="#4e2384"/><rect x="459.5" y="232.2" width="39.4" height="2.45" fill="#2aa83c"/><rect x="459.5" y="234.6" width="39.4" height="9.05" fill="#4e2384"/><rect x="459.5" y="243.6" width="39.4" height="1.75" fill="#2aa83c"/><rect x="459.5" y="245.3" width="39.4" height="4.15" fill="#ee4422"/><rect x="459.5" y="249.4" width="39.4" height="2.45" fill="#2aa83c"/><rect x="459.5" y="251.8" width="39.4" height="2.55" fill="#ee4422"/><rect x="459.5" y="254.3" width="39.4" height="1.65" fill="#2aa83c"/><rect x="459.5" y="255.9" width="39.4" height="1.35" fill="#4e2384"/><rect x="459.5" y="257.2" width="39.4" height="1.25" fill="#2aa83c"/><rect x="459.5" y="258.4" width="39.4" height="2.45" fill="#ee4422"/><rect x="459.5" y="260.8" width="39.4" height="3.35" fill="#2aa83c"/><rect x="459.5" y="264.1" width="39.4" height="2.55" fill="#ee4422"/><rect x="459.5" y="266.6" width="39.4" height="2.45" fill="#2aa83c"/><rect x="459.5" y="269" width="39.4" height="5.95" fill="#ee4422"/><rect x="459.5" y="274.9" width="39.4" height="4.15" fill="#2aa83c"/><rect x="459.5" y="279" width="39.4" height="3.35" fill="#4e2384"/><rect x="459.5" y="282.3" width="39.4" height="5.75" fill="#8a8a30"/><rect x="459.5" y="288" width="39.4" height="5.75" fill="#ee4422"/><rect x="459.5" y="293.7" width="39.4" height="5.85" fill="#2aa83c"/><rect x="459.5" y="299.5" width="39.4" height="2.45" fill="#1f7fa0"/><rect x="459.5" y="301.9" width="39.4" height="3.35" fill="#2a8a8a"/><rect x="459.5" y="305.2" width="39.4" height="4.15" fill="#2aa83c"/><rect x="459.5" y="309.3" width="39.4" height="3.35" fill="#ee4422"/><rect x="459.5" y="312.6" width="39.4" height="8.15" fill="#2aa83c"/><rect x="459.5" y="320.7" width="39.4" height="2.55" fill="#4e2384"/><rect x="459.5" y="323.2" width="39.4" height="3.45" fill="#ee4422"/><rect x="459.5" y="326.6" width="39.4" height="9.05" fill="#2aa83c"/><rect x="459.5" y="335.6" width="39.4" height="2.55" fill="#4e2384"/><rect x="459.5" y="338.1" width="39.4" height="5.75" fill="#2aa83c"/><rect x="459.5" y="343.8" width="39.4" height="3.35" fill="#ee4422"/><rect x="459.5" y="347.1" width="39.4" height="4.15" fill="#2aa83c"/><rect x="459.5" y="351.2" width="39.4" height="4.95" fill="#4e2384"/><rect x="459.5" y="356.1" width="39.4" height="9.05" fill="#2aa83c"/><rect x="459.5" y="365.1" width="39.4" height="4.15" fill="#3a58a8"/><rect x="459.5" y="369.2" width="39.4" height="10.65" fill="#2aa83c"/><rect x="459.5" y="379.8" width="39.4" height="10.85" fill="#4e2384"/><rect x="459.5" y="390.6" width="39.4" height="7.45" fill="#2aa83c"/><rect x="459.5" y="398" width="39.4" height="4.15" fill="#4e2384"/><rect x="459.5" y="402.1" width="39.4" height="6.55" fill="#2aa83c"/><rect x="459.5" y="408.6" width="39.4" height="2.55" fill="#1f7fa0"/><rect x="459.5" y="411.1" width="39.4" height="9.85" fill="#2aa83c"/><rect x="459.5" y="420.9" width="39.4" height="3.35" fill="#ee4422"/><rect x="459.5" y="424.2" width="39.4" height="2.45" fill="#2aa83c"/><rect x="459.5" y="426.6" width="39.4" height="6.65" fill="#4e2384"/><rect x="459.5" y="433.2" width="39.4" height="2.55" fill="#3a58a8"/><rect x="459.5" y="435.7" width="39.4" height="3.35" fill="#4e2384"/><rect x="459.5" y="439" width="39.4" height="15.55" fill="#2aa83c"/><rect x="459.5" y="454.5" width="39.4" height="5.85" fill="#4e2384"/><rect x="459.5" y="460.3" width="39.4" height="5.15" fill="#2aa83c"/></g><path d="M460 112.9 L485.6 113.1 L478.3 114 L476.6 115.6 L479.9 117.3 L481.5 119.4 L477.5 121.4 L475 123 L472.5 124.6 L470.1 127.1 L468.5 129.5 L470.9 131.2 L469.3 132.8 L468.5 135.3 L472.5 136.9 L471.7 138.6 L476 139.7 L485.6 140.2 L478.3 141.3 L475 143.5 L477.5 145.1 L475 146.7 L470.9 148.4 L470.1 150.8 L475 153.3 L472.5 154.9 L474.2 156.6 L472.5 158.2 L470.9 159.8 L470.5 160.5 L475.8 162.3 L476 164 L477 166 L473.4 168.2 L472.5 170 L473 173 L478.3 174.7 L477 177 L476 179.6 L476.5 182.9 L477.5 185 L478 187.8 L483 188.6 L484.8 190 L484 193 L483.5 195.2 L480.7 196 L481.5 199.3 L483.2 200 L483 203 L482 205 L479.9 205.5 L480 207.5 L484 208.3 L479 209.1 L477.5 212.4 L475 217.3 L475.8 217.5 L478 219 L477 222.4 L477.5 224.8 L481.5 227.3 L492.2 229.7 L485 231 L481 232.2 L479.9 234.6 L485.6 236 L485 240 L484 243 L478 243.6 L476.6 245.3 L473.4 246 L473.4 249.4 L477.5 250 L476 251.8 L473.4 252.5 L473.4 254.3 L475 255.2 L483.2 256.5 L476 257.2 L474.5 258.4 L470.1 259 L470.1 260.8 L476.6 261.5 L476 264.1 L471.7 264.6 L471.7 266.6 L478.3 267.5 L477 269 L468.5 269.5 L468.5 274.9 L477 276 L478 279 L483.2 280.5 L476 282.3 L473.4 283 L473.4 288 L471.7 289 L471.7 293.7 L477.5 294.5 L479.5 296 L479 299.5 L480.7 300.5 L480 305.2 L478.3 307 L477 309.3 L474.2 310 L474.2 312.6 L478.3 313.4 L476.6 314.2 L477 317.5 L477.5 319.5 L488.1 321.8 L479 323.2 L473.4 324 L472.5 326.6 L477.5 327.5 L478.3 330 L476.6 333 L477.5 335.6 L485.6 336.8 L478 338.1 L477.5 341 L476.6 343.8 L467.6 344.5 L467.6 347.1 L476.6 348 L481.5 349.5 L478 351.2 L483 352 L484 354 L482 356.1 L477.5 357 L477.5 360 L477 365.1 L481.5 366 L480.7 369.2 L479 370 L478.3 374 L480 379.8 L483 381 L486.5 383 L497.9 384.9 L487 386.5 L484.8 388 L483 390.6 L476.6 391.5 L475.8 394 L477.5 398 L482.4 399 L482 402.1 L478.3 403 L477.5 405 L480 408.6 L479.9 411.1 L483.2 413.6 L477.5 414.5 L477 416.8 L475 418 L475 420.9 L470.1 421.5 L470.1 424.2 L473.4 425 L474 426.6 L486.5 427.5 L487.3 428.5 L485 431 L484.8 433.2 L483.2 434 L483.2 435.7 L484.8 436.5 L484 439 L479 439.5 L480 443 L478.3 447 L478.3 451 L479 454.5 L483.2 455 L482.4 460.3 L477.5 460.8 L477.5 465.2 L460 465.4" fill="none" stroke="#111" stroke-width="0.65" stroke-linejoin="round"/><clipPath id="ck4"><polygon points="502.6,53.2 519.2,53.2 520.8,55 529,56.5 535.6,58.2 538,59.8 538.8,61.5 537.2,63.1 539.6,65.5 541.3,68 537.2,69.6 525.7,71 519.2,72 515.1,73.7 514.3,75.4 517.6,77 527.4,78.1 535.6,79.5 538,81.9 538.8,84.4 537.2,86.8 535.6,88.5 527.4,90.1 522.5,91.7 524,94.2 525.7,96.6 521.6,98.3 520,99.9 522.5,101.6 525.7,104 529,105.5 537.2,106.6 534,108.3 534,110.7 535.6,111.8 532.3,112.4 532.3,117.3 534.8,118.5 529,119.7 519.2,122.2 510,123.5 506,124.3 512,125.5 519.2,126.3 520.8,127.9 516.7,129.5 516.7,136.1 517.6,137.5 512.6,138.6 512.6,140.2 519.2,141 520.8,142 520.8,145.1 517.6,146 517.6,147.5 520,149.2 525.7,151.6 524.9,154.1 525.7,157.4 526.5,160.6 527.4,163.9 527.4,165.7 531.5,166.5 532.3,168.2 532.3,171.5 529.8,172.5 529,178 529.5,181.3 530.6,183 532.3,185 533,187.8 534,190 535.6,192 536.4,196 537.2,200 537,205 536.4,209.1 535.6,211 533,213.2 527.4,214 529,216.5 529.5,220 529.8,224.8 535.6,226 537.2,228 534,230 532.3,231 534,232.2 535.6,234 536.4,238 535.6,243.6 534,246 532,248.6 529.8,250.5 527.5,252.6 525,255.9 522.5,258.5 520,262 519,264.1 516,267.4 513.5,270 514.5,271.5 517,273.3 519.2,275 530,276.5 535.6,277.8 528,279.5 525.7,280.6 524,283.1 524.9,287 526,290 527.5,293.7 529.8,296 532.5,299 533,300.3 532.3,305.2 529.8,307 530,309.3 532,311.7 535.6,313.5 534,316.6 531.5,318 532,320.7 533,325 534.2,328 535,331.5 537.6,334 537.2,336 537,341.4 534.5,343 532.3,344.6 531,346.5 533,348.7 536.5,350 537.6,352 535.5,354.5 534,357 533.5,362.6 530,364 529.8,368 531.5,370 532.3,374.1 534,376 534,379 532.5,381.5 532,383 532.3,387 531.5,391 530,394 529.8,398 530.6,401.3 531.5,404 533,407.8 537.2,410 536.4,412 534,413.6 532,415 534,417 535.6,420 534.5,423.4 531.5,425.8 529.8,430 529.8,436 530.6,440 530.6,445 531.5,450 531.5,457.8 534,459.5 533.5,461.1 533,465.2 535,467 534.7,468.5 502.6,468.5"/></clipPath><g clip-path="url(#ck4)"><rect x="502.6" y="53.2" width="39.7" height="3.35" fill="#28aa3c"/><rect x="502.6" y="56.5" width="39.7" height="13.75" fill="#4f2486"/><rect x="502.6" y="70.2" width="39.7" height="1.65" fill="#24b0e0"/><rect x="502.6" y="71.8" width="39.7" height="1.25" fill="#28aa3c"/><rect x="502.6" y="73" width="39.7" height="4.05" fill="#ee4a22"/><rect x="502.6" y="77" width="39.7" height="1.05" fill="#28aa3c"/><rect x="502.6" y="78" width="39.7" height="11.55" fill="#4f2486"/><rect x="502.6" y="89.5" width="39.7" height="1.05" fill="#4664b4"/><rect x="502.6" y="90.5" width="39.7" height="7.05" fill="#28aa3c"/><rect x="502.6" y="97.5" width="39.7" height="3.35" fill="#e07a22"/><rect x="502.6" y="100.8" width="39.7" height="4.75" fill="#28aa3c"/><rect x="502.6" y="105.5" width="39.7" height="1.15" fill="#4664b4"/><rect x="502.6" y="106.6" width="39.7" height="1.75" fill="#4f2486"/><rect x="502.6" y="108.3" width="39.7" height="2.45" fill="#24b0e0"/><rect x="502.6" y="110.7" width="39.7" height="1.75" fill="#4f2486"/><rect x="502.6" y="112.4" width="39.7" height="4.95" fill="#24b0e0"/><rect x="502.6" y="117.3" width="39.7" height="2.45" fill="#4f2486"/><rect x="502.6" y="119.7" width="39.7" height="2.55" fill="#2aa8a0"/><rect x="502.6" y="122.2" width="39.7" height="1.35" fill="#28aa3c"/><rect x="502.6" y="123.5" width="39.7" height="2.05" fill="#f8d000"/><rect x="502.6" y="125.5" width="39.7" height="4.05" fill="#28aa3c"/><rect x="502.6" y="129.5" width="39.7" height="6.65" fill="#ee4a22"/><rect x="502.6" y="136.1" width="39.7" height="2.55" fill="#28aa3c"/><rect x="502.6" y="138.6" width="39.7" height="1.65" fill="#ee4a22"/><rect x="502.6" y="140.2" width="39.7" height="1.65" fill="#28aa3c"/><rect x="502.6" y="141.8" width="39.7" height="3.35" fill="#e07a22"/><rect x="502.6" y="145.1" width="39.7" height="1.65" fill="#ee4a22"/><rect x="502.6" y="146.7" width="39.7" height="19.05" fill="#28aa3c"/><rect x="502.6" y="165.7" width="39.7" height="2.55" fill="#4664b4"/><rect x="502.6" y="168.2" width="39.7" height="5.75" fill="#24b0e0"/><rect x="502.6" y="173.9" width="39.7" height="7.45" fill="#66bfc0"/><rect x="502.6" y="181.3" width="39.7" height="6.55" fill="#24b0e0"/><rect x="502.6" y="187.8" width="39.7" height="8.25" fill="#4f2486"/><rect x="502.6" y="196" width="39.7" height="1.55" fill="#4664b4"/><rect x="502.6" y="197.5" width="39.7" height="3.55" fill="#4f2486"/><rect x="502.6" y="201" width="39.7" height="1.05" fill="#4664b4"/><rect x="502.6" y="202" width="39.7" height="11.25" fill="#4f2486"/><rect x="502.6" y="213.2" width="39.7" height="3.35" fill="#66bfc0"/><rect x="502.6" y="216.5" width="39.7" height="1.05" fill="#24b0e0"/><rect x="502.6" y="217.5" width="39.7" height="7.35" fill="#66bfc0"/><rect x="502.6" y="224.8" width="39.7" height="5.75" fill="#4f2486"/><rect x="502.6" y="230.5" width="39.7" height="1.75" fill="#24b0e0"/><rect x="502.6" y="232.2" width="39.7" height="11.45" fill="#4f2486"/><rect x="502.6" y="243.6" width="39.7" height="5.05" fill="#505aa8"/><rect x="502.6" y="248.6" width="39.7" height="4.05" fill="#4664b4"/><rect x="502.6" y="252.6" width="39.7" height="3.35" fill="#66bfc0"/><rect x="502.6" y="255.9" width="39.7" height="8.25" fill="#28aa3c"/><rect x="502.6" y="264.1" width="39.7" height="3.35" fill="#e07a22"/><rect x="502.6" y="267.4" width="39.7" height="5.95" fill="#ee4a22"/><rect x="502.6" y="273.3" width="39.7" height="2.45" fill="#28aa3c"/><rect x="502.6" y="275.7" width="39.7" height="4.95" fill="#4f2486"/><rect x="502.6" y="280.6" width="39.7" height="2.55" fill="#2aa8a0"/><rect x="502.6" y="283.1" width="39.7" height="10.65" fill="#28aa3c"/><rect x="502.6" y="293.7" width="39.7" height="6.65" fill="#24b0e0"/><rect x="502.6" y="300.3" width="39.7" height="4.95" fill="#4664b4"/><rect x="502.6" y="305.2" width="39.7" height="4.15" fill="#24b0e0"/><rect x="502.6" y="309.3" width="39.7" height="2.45" fill="#4664b4"/><rect x="502.6" y="311.7" width="39.7" height="4.95" fill="#4f2486"/><rect x="502.6" y="316.6" width="39.7" height="1.95" fill="#24b0e0"/><rect x="502.6" y="318.5" width="39.7" height="2.25" fill="#4664b4"/><rect x="502.6" y="320.7" width="39.7" height="1.35" fill="#24b0e0"/><rect x="502.6" y="322" width="39.7" height="3.05" fill="#4664b4"/><rect x="502.6" y="325" width="39.7" height="6.55" fill="#505aa8"/><rect x="502.6" y="331.5" width="39.7" height="9.95" fill="#4f2486"/><rect x="502.6" y="341.4" width="39.7" height="3.25" fill="#505aa8"/><rect x="502.6" y="344.6" width="39.7" height="4.15" fill="#24b0e0"/><rect x="502.6" y="348.7" width="39.7" height="5.85" fill="#4f2486"/><rect x="502.6" y="354.5" width="39.7" height="8.15" fill="#505aa8"/><rect x="502.6" y="362.6" width="39.7" height="7.45" fill="#24b0e0"/><rect x="502.6" y="370" width="39.7" height="4.15" fill="#4664b4"/><rect x="502.6" y="374.1" width="39.7" height="4.95" fill="#4f2486"/><rect x="502.6" y="379" width="39.7" height="2.55" fill="#505aa8"/><rect x="502.6" y="381.5" width="39.7" height="8.35" fill="#24b0e0"/><rect x="502.6" y="389.8" width="39.7" height="3.35" fill="#4664b4"/><rect x="502.6" y="393.1" width="39.7" height="8.25" fill="#24b0e0"/><rect x="502.6" y="401.3" width="39.7" height="2.45" fill="#66bfc0"/><rect x="502.6" y="403.7" width="39.7" height="4.15" fill="#4664b4"/><rect x="502.6" y="407.8" width="39.7" height="5.85" fill="#4f2486"/><rect x="502.6" y="413.6" width="39.7" height="2.45" fill="#24b0e0"/><rect x="502.6" y="416" width="39.7" height="2.55" fill="#4664b4"/><rect x="502.6" y="418.5" width="39.7" height="4.95" fill="#4f2486"/><rect x="502.6" y="423.4" width="39.7" height="2.45" fill="#4664b4"/><rect x="502.6" y="425.8" width="39.7" height="32.05" fill="#24b0e0"/><rect x="502.6" y="457.8" width="39.7" height="3.35" fill="#505aa8"/><rect x="502.6" y="461.1" width="39.7" height="4.15" fill="#4664b4"/><rect x="502.6" y="465.2" width="39.7" height="3.35" fill="#505aa8"/></g><path d="M519.2 53.2 L520.8 55 L529 56.5 L535.6 58.2 L538 59.8 L538.8 61.5 L537.2 63.1 L539.6 65.5 L541.3 68 L537.2 69.6 L525.7 71 L519.2 72 L515.1 73.7 L514.3 75.4 L517.6 77 L527.4 78.1 L535.6 79.5 L538 81.9 L538.8 84.4 L537.2 86.8 L535.6 88.5 L527.4 90.1 L522.5 91.7 L524 94.2 L525.7 96.6 L521.6 98.3 L520 99.9 L522.5 101.6 L525.7 104 L529 105.5 L537.2 106.6 L534 108.3 L534 110.7 L535.6 111.8 L532.3 112.4 L532.3 117.3 L534.8 118.5 L529 119.7 L519.2 122.2 L510 123.5 L506 124.3 L512 125.5 L519.2 126.3 L520.8 127.9 L516.7 129.5 L516.7 136.1 L517.6 137.5 L512.6 138.6 L512.6 140.2 L519.2 141 L520.8 142 L520.8 145.1 L517.6 146 L517.6 147.5 L520 149.2 L525.7 151.6 L524.9 154.1 L525.7 157.4 L526.5 160.6 L527.4 163.9 L527.4 165.7 L531.5 166.5 L532.3 168.2 L532.3 171.5 L529.8 172.5 L529 178 L529.5 181.3 L530.6 183 L532.3 185 L533 187.8 L534 190 L535.6 192 L536.4 196 L537.2 200 L537 205 L536.4 209.1 L535.6 211 L533 213.2 L527.4 214 L529 216.5 L529.5 220 L529.8 224.8 L535.6 226 L537.2 228 L534 230 L532.3 231 L534 232.2 L535.6 234 L536.4 238 L535.6 243.6 L534 246 L532 248.6 L529.8 250.5 L527.5 252.6 L525 255.9 L522.5 258.5 L520 262 L519 264.1 L516 267.4 L513.5 270 L514.5 271.5 L517 273.3 L519.2 275 L530 276.5 L535.6 277.8 L528 279.5 L525.7 280.6 L524 283.1 L524.9 287 L526 290 L527.5 293.7 L529.8 296 L532.5 299 L533 300.3 L532.3 305.2 L529.8 307 L530 309.3 L532 311.7 L535.6 313.5 L534 316.6 L531.5 318 L532 320.7 L533 325 L534.2 328 L535 331.5 L537.6 334 L537.2 336 L537 341.4 L534.5 343 L532.3 344.6 L531 346.5 L533 348.7 L536.5 350 L537.6 352 L535.5 354.5 L534 357 L533.5 362.6 L530 364 L529.8 368 L531.5 370 L532.3 374.1 L534 376 L534 379 L532.5 381.5 L532 383 L532.3 387 L531.5 391 L530 394 L529.8 398 L530.6 401.3 L531.5 404 L533 407.8 L537.2 410 L536.4 412 L534 413.6 L532 415 L534 417 L535.6 420 L534.5 423.4 L531.5 425.8 L529.8 430 L529.8 436 L530.6 440 L530.6 445 L531.5 450 L531.5 457.8 L534 459.5 L533.5 461.1 L533 465.2 L535 467 L534.7 468.5" fill="none" stroke="#111" stroke-width="0.65" stroke-linejoin="round"/><path d="M372.5 14.7V484M415.6 14.7V484M459.5 14.7V484M502.6 14.7V484" stroke="#444" stroke-width="0.7" fill="none"/><rect x="492.5" y="48.7" width="47.5" height="3.6" fill="#fff"/><path d="M540.5 50.3h1.5m1 0h1.5" stroke="#666" stroke-width="0.5"/><text x="516" y="51.6" font-size="4.9" text-anchor="middle" fill="#444">Top of Main Dolomite</text><path d="M372.5 53H545.2" stroke="#333" stroke-width="0.8"/><path d="M356 471.3H545.2" stroke="#333" stroke-width="0.8"/><text x="508.5" y="478" font-size="4.9" text-anchor="middle" fill="#444">Base of Main Dolomite</text><rect x="355.6" y="4.3" width="189.9" height="480" fill="none" stroke="#000" stroke-width="1.1"/></svg></body></html>
